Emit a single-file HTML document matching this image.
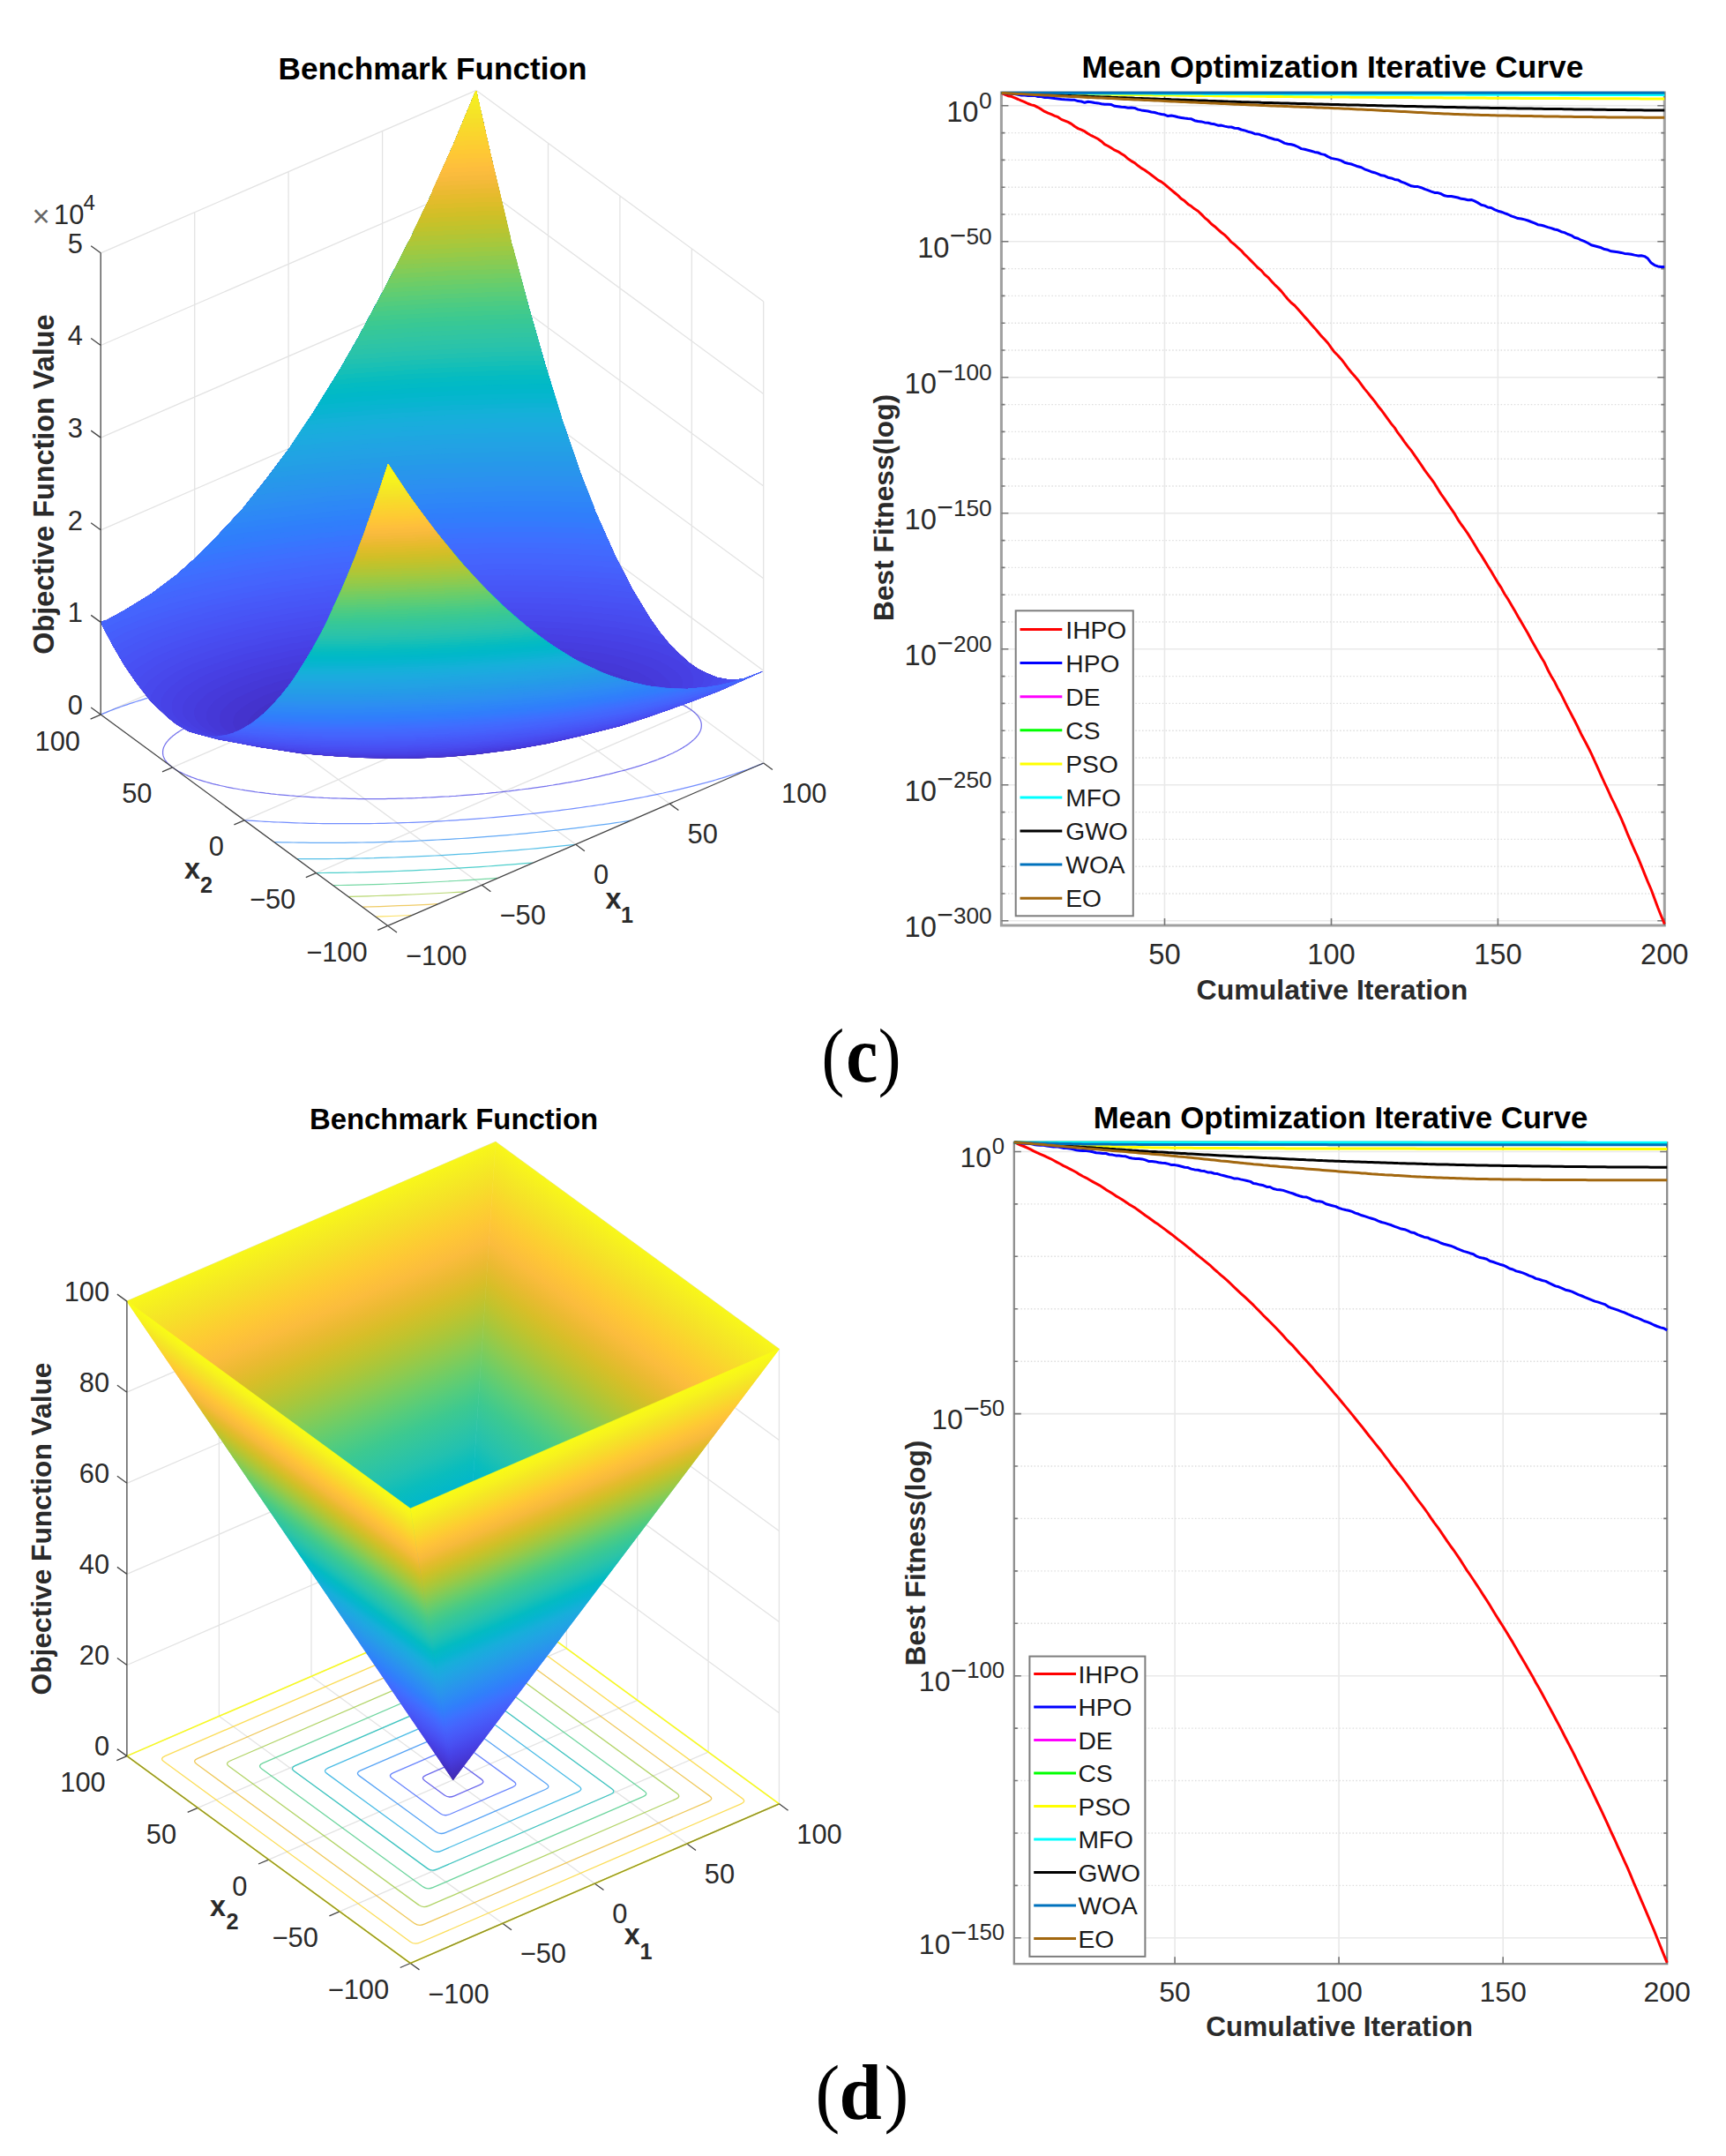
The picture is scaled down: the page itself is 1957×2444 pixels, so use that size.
<!DOCTYPE html>
<html><head><meta charset="utf-8"><title>Figure</title><style>html,body{margin:0;padding:0;background:#fff}svg{display:block}</style></head><body>
<svg width="1957" height="2444" viewBox="0 0 1957 2444" font-family="'Liberation Sans', sans-serif">
<rect width="1957" height="2444" fill="#fff"/>
<g id="plotc">
<path d="M546.3 1003.3L220.7 764M358.4 989.6L784.3 805.2M652.8 957.2L327.1 717.9M277 929.8L702.9 745.4M759.2 911.1L433.6 671.8M195.6 869.9L621.5 685.5M865.7 865L540.1 625.7M114.2 810.1L540.1 625.7M220.7 764L220.7 240.7M327.1 717.9L327.1 194.6M433.6 671.8L433.6 148.5M540.1 625.7L540.1 102.4M865.7 865L865.7 341.7M784.3 805.2L784.3 281.9M702.9 745.4L702.9 222.1M621.5 685.5L621.5 162.2M114.2 705.4L540.1 521M540.1 521L865.7 760.3M114.2 600.8L540.1 416.4M540.1 416.4L865.7 655.7M114.2 496.1L540.1 311.7M540.1 311.7L865.7 551M114.2 391.5L540.1 207.1M540.1 207.1L865.7 446.4M114.2 286.8L540.1 102.4M540.1 102.4L865.7 341.7" stroke="#e3e3e3" stroke-width="1.3" fill="none"/>
<path d="M224.3 818.1L226.2 817.3L228.1 816.5L230.1 815.7L232.2 814.9L234.2 814.1L236.4 813.3L238.5 812.5L240.7 811.7L242.9 810.9L245.2 810.1L247.5 809.3L249.9 808.6L252.3 807.8L254.7 807L257.2 806.3L259.7 805.5L262.2 804.8L264.8 804L267.4 803.3L270 802.5L272.7 801.8L275.4 801.1L278.2 800.4L281 799.7L283.8 798.9L286.6 798.2L289.5 797.5L292.4 796.9L295.4 796.2L298.3 795.5L301.3 794.8L304.4 794.2L307.4 793.5L310.5 792.9L313.7 792.2L316.8 791.6L320 791L323.2 790.3L326.4 789.7L329.7 789.1L332.9 788.5L336.2 787.9L339.6 787.4L342.9 786.8L346.3 786.2L349.7 785.7L353.1 785.1L356.6 784.6L360 784L363.5 783.5L367 783L370.5 782.5L374.1 782L377.6 781.5L381.2 781L384.8 780.6L388.4 780.1L392 779.7L395.7 779.2L399.3 778.8L403 778.3L406.7 777.9L410.4 777.5L414.1 777.1L417.8 776.7L421.6 776.4L425.3 776L429.1 775.6L432.8 775.3L436.6 774.9L440.4 774.6L444.2 774.3L448 774L451.8 773.7L455.6 773.4L459.4 773.1L463.2 772.8L467.1 772.6L470.9 772.3L474.7 772.1L478.6 771.9L482.4 771.7L486.2 771.5L490.1 771.3L493.9 771.1L497.7 770.9L501.6 770.7L505.4 770.6L509.2 770.4L513.1 770.3L516.9 770.2L520.7 770.1L524.5 770L528.3 769.9L532.1 769.8L535.9 769.7L539.7 769.7L543.5 769.6L547.3 769.6L551.1 769.5L554.8 769.5L558.6 769.5L562.3 769.5L566 769.5L569.7 769.6L573.4 769.6L577.1 769.7L580.8 769.7L584.4 769.8L588.1 769.9L591.7 770L595.3 770.1L598.9 770.2L602.5 770.3L606 770.4L609.6 770.6L613.1 770.7L616.6 770.9L620.1 771.1L623.5 771.3L627 771.5L630.4 771.7L633.8 771.9L637.2 772.1L640.5 772.4L643.9 772.6L647.2 772.9L650.4 773.1L653.7 773.4L656.9 773.7L660.1 774L663.3 774.3L666.4 774.6L669.6 775L672.6 775.3L675.7 775.7L678.7 776L681.7 776.4L684.7 776.8L687.6 777.1L690.6 777.5L693.4 778L696.3 778.4L699.1 778.8L701.9 779.2L704.6 779.7L707.3 780.1L710 780.6L712.7 781.1L715.3 781.5L717.8 782L720.4 782.5L722.9 783L725.3 783.6L727.8 784.1L730.2 784.6L732.5 785.2L734.8 785.7L737.1 786.3L739.3 786.8L741.5 787.4L743.7 788L745.8 788.6L747.9 789.2L749.9 789.8L751.9 790.4L753.8 791L755.8 791.6L757.6 792.3L759.5 792.9L761.2 793.6L763 794.2L764.7 794.9L766.3 795.5L767.9 796.2L769.5 796.9L771 797.6L772.5 798.3L773.9 799L775.3 799.7L776.7 800.4L778 801.1L779.2 801.8L780.4 802.6L781.6 803.3L782.7 804.1L783.8 804.8L784.8 805.6L785.8 806.3L786.7 807.1L787.6 807.8L788.4 808.6L789.2 809.4L790 810.2L790.7 810.9L791.3 811.7L791.9 812.5L792.5 813.3L793 814.1L793.4 814.9L793.8 815.7L794.2 816.6L794.5 817.4L794.8 818.2L795 819L795.1 819.8L795.3 820.7L795.3 821.5L795.3 822.3L795.3 823.2L795.2 824L795.1 824.8L795 825.7L794.7 826.5L794.5 827.4L794.2 828.2L793.8 829L793.4 829.9L792.9 830.7L792.4 831.6L791.9 832.4L791.3 833.3L790.6 834.2L789.9 835L789.2 835.9L788.4 836.7L787.5 837.6L786.7 838.4L785.7 839.3L784.7 840.1L783.7 841L782.6 841.8L781.5 842.7L780.4 843.5L779.2 844.4L777.9 845.2L776.6 846.1L775.3 846.9L773.9 847.8L772.4 848.6L770.9 849.5L769.4 850.3L767.8 851.2L766.2 852L764.6 852.8L762.9 853.7L761.1 854.5L759.3 855.3L757.5 856.1L755.6 857L753.7 857.8L751.8 858.6L749.8 859.4L747.7 860.2L745.7 861L743.5 861.8L741.4 862.6L739.2 863.4L737 864.2L734.7 865L732.4 865.8L730 866.5L727.6 867.3L725.2 868.1L722.7 868.8L720.2 869.6L717.7 870.3L715.1 871.1L712.5 871.8L709.9 872.6L707.2 873.3L704.5 874L701.7 874.7L698.9 875.4L696.1 876.2L693.3 876.9L690.4 877.6L687.5 878.2L684.5 878.9L681.6 879.6L678.6 880.3L675.5 880.9L672.5 881.6L669.4 882.2L666.2 882.9L663.1 883.5L659.9 884.1L656.7 884.8L653.5 885.4L650.2 886L647 886.6L643.7 887.2L640.3 887.7L637 888.3L633.6 888.9L630.2 889.4L626.8 890L623.3 890.5L619.9 891.1L616.4 891.6L612.9 892.1L609.4 892.6L605.8 893.1L602.3 893.6L598.7 894.1L595.1 894.5L591.5 895L587.9 895.4L584.2 895.9L580.6 896.3L576.9 896.8L573.2 897.2L569.5 897.6L565.8 898L562.1 898.4L558.3 898.7L554.6 899.1L550.8 899.5L547.1 899.8L543.3 900.2L539.5 900.5L535.7 900.8L531.9 901.1L528.1 901.4L524.3 901.7L520.5 902L516.7 902.3L512.8 902.5L509 902.8L505.2 903L501.3 903.2L497.5 903.4L493.7 903.6L489.8 903.8L486 904L482.2 904.2L478.3 904.4L474.5 904.5L470.7 904.7L466.8 904.8L463 904.9L459.2 905L455.4 905.1L451.6 905.2L447.8 905.3L444 905.4L440.2 905.4L436.4 905.5L432.6 905.5L428.8 905.6L425.1 905.6L421.3 905.6L417.6 905.6L413.9 905.6L410.2 905.5L406.5 905.5L402.8 905.4L399.1 905.4L395.5 905.3L391.8 905.2L388.2 905.1L384.6 905L381 904.9L377.4 904.8L373.9 904.7L370.3 904.5L366.8 904.4L363.3 904.2L359.8 904L356.4 903.8L352.9 903.6L349.5 903.4L346.1 903.2L342.7 903L339.4 902.7L336 902.5L332.7 902.2L329.5 902L326.2 901.7L323 901.4L319.8 901.1L316.6 900.8L313.5 900.5L310.3 900.1L307.3 899.8L304.2 899.4L301.2 899.1L298.2 898.7L295.2 898.3L292.3 898L289.3 897.6L286.5 897.1L283.6 896.7L280.8 896.3L278 895.9L275.3 895.4L272.6 895L269.9 894.5L267.2 894L264.6 893.6L262.1 893.1L259.5 892.6L257 892.1L254.6 891.5L252.1 891L249.7 890.5L247.4 889.9L245.1 889.4L242.8 888.8L240.6 888.3L238.4 887.7L236.2 887.1L234.1 886.5L232 885.9L230 885.3L228 884.7L226.1 884.1L224.1 883.5L222.3 882.8L220.4 882.2L218.7 881.5L216.9 880.9L215.2 880.2L213.6 879.6L212 878.9L210.4 878.2L208.9 877.5L207.4 876.8L206 876.1L204.6 875.4L203.2 874.7L201.9 874L200.7 873.3L199.5 872.5L198.3 871.8L197.2 871L196.1 870.3L195.1 869.5L194.1 868.8L193.2 868L192.3 867.3L191.5 866.5L190.7 865.7L189.9 864.9L189.2 864.2L188.6 863.4L188 862.6L187.4 861.8L186.9 861L186.5 860.2L186.1 859.4L185.7 858.5L185.4 857.7L185.1 856.9L184.9 856.1L184.8 855.3L184.6 854.4L184.6 853.6L184.6 852.8L184.6 851.9L184.7 851.1L184.8 850.3L184.9 849.4L185.2 848.6L185.4 847.7L185.7 846.9L186.1 846.1L186.5 845.2L187 844.4L187.5 843.5L188 842.7L188.6 841.8L189.3 840.9L190 840.1L190.7 839.2L191.5 838.4L192.4 837.5L193.2 836.7L194.2 835.8L195.2 835L196.2 834.1L197.3 833.3L198.4 832.4L199.5 831.6L200.7 830.7L202 829.9L203.3 829L204.6 828.2L206 827.3L207.5 826.5L209 825.6L210.5 824.8L212.1 823.9L213.7 823.1L215.3 822.3L217 821.4L218.8 820.6L220.6 819.8L222.4 819L224.3 818.1" stroke="#4743e7" stroke-width="1.25" stroke-opacity="0.75" fill="none"/>
<path d="M114.2 810.1L116.9 808.9L119.7 807.8L122.5 806.6L125.4 805.5L128.3 804.4L131.3 803.2L134.4 802.1L137.5 801L140.6 799.9L143.9 798.8L147.1 797.7L150.5 796.6L153.8 795.5L157.3 794.4L160.8 793.3L164.3 792.2L167.9 791.2L171.5 790.1L175.2 789.1L179 788L182.8 787L186.6 786L190.5 785L194.4 784L198.4 783L202.4 782L206.5 781L210.6 780L214.8 779L219 778.1L223.2 777.1L227.5 776.2L231.8 775.3L236.2 774.4L240.6 773.5L245.1 772.6L249.6 771.7L254.1 770.8L258.7 769.9L263.3 769.1L267.9 768.2L272.6 767.4L277.3 766.6L282 765.8L286.8 765L291.6 764.2L296.4 763.4L301.3 762.6L306.2 761.9L311.1 761.1L316.1 760.4L321.1 759.7L326.1 759L331.1 758.3L336.2 757.6L341.3 757L346.4 756.3L351.5 755.7L356.6 755L361.8 754.4L367 753.8L372.2 753.2L377.5 752.7L382.7 752.1L388 751.5L393.2 751L398.5 750.5L403.9 750L409.2 749.5L414.5 749L419.9 748.5L425.2 748.1L430.6 747.7L436 747.2L441.4 746.8L446.8 746.4L452.2 746L457.6 745.7L463 745.3L468.4 745L473.8 744.7L479.3 744.4L484.7 744.1L490.1 743.8L495.5 743.5L501 743.3L506.4 743L511.8 742.8L517.2 742.6L522.6 742.4L528.1 742.3L533.5 742.1L538.9 742L544.2 741.8L549.6 741.7L555 741.6L560.4 741.5L565.7 741.5L571 741.4L576.4 741.4L581.7 741.4L587 741.4L592.3 741.4L597.5 741.4L602.8 741.4L608 741.5L613.2 741.5L618.4 741.6L623.6 741.7L628.7 741.8L633.8 742L639 742.1L644 742.3L649.1 742.4L654.1 742.6L659.1 742.8L664.1 743.1L669.1 743.3L674 743.5L678.9 743.8L683.8 744.1L688.6 744.4L693.4 744.7L698.2 745L702.9 745.4M865.5 865.1L862.8 866.3L860 867.4L857.2 868.6L854.3 869.7L851.3 870.8L848.3 872L845.3 873.1L842.2 874.2L839 875.3L835.8 876.4L832.5 877.5L829.2 878.6L825.8 879.7L822.3 880.8L818.8 881.9L815.3 882.9L811.7 884L808.1 885.1L804.4 886.1L800.6 887.2L796.8 888.2L793 889.2L789.1 890.2L785.2 891.2L781.2 892.2L777.1 893.2L773.1 894.2L768.9 895.2L764.8 896.1L760.6 897.1L756.3 898L752 899L747.7 899.9L743.3 900.8L738.9 901.7L734.4 902.6L730 903.5L725.4 904.4L720.9 905.2L716.2 906.1L711.6 906.9L706.9 907.8L702.2 908.6L697.5 909.4L692.7 910.2L687.9 911L683.1 911.8L678.2 912.5L673.3 913.3L668.4 914L663.4 914.7L658.4 915.5L653.4 916.2L648.4 916.8L643.3 917.5L638.2 918.2L633.1 918.8L628 919.5L622.8 920.1L617.7 920.7L612.5 921.3L607.2 921.9L602 922.5L596.8 923L591.5 923.6L586.2 924.1L580.9 924.7L575.6 925.2L570.3 925.6L564.9 926.1L559.6 926.6L554.2 927L548.9 927.5L543.5 927.9L538.1 928.3L532.7 928.7L527.3 929.1L521.9 929.4L516.5 929.8L511 930.1L505.6 930.5L500.2 930.8L494.8 931.1L489.3 931.3L483.9 931.6L478.5 931.8L473.1 932.1L467.6 932.3L462.2 932.5L456.8 932.7L451.4 932.9L446 933L440.6 933.1L435.2 933.3L429.8 933.4L424.5 933.5L419.1 933.6L413.8 933.6L408.4 933.7L403.1 933.7L397.8 933.7L392.5 933.7L387.2 933.7L381.9 933.7L376.7 933.7L371.5 933.6L366.3 933.6L361.1 933.5L355.9 933.4L350.8 933.3L345.6 933.1L340.5 933L335.4 932.8L330.4 932.6L325.4 932.4L320.4 932.2L315.4 932L310.4 931.8L305.5 931.5L300.6 931.3L295.7 931L290.9 930.7L286.1 930.4L281.3 930.1L277 929.8" stroke="#4367fd" stroke-width="1.25" stroke-opacity="0.75" fill="none"/>
<path d="M264.9 744.9L270.9 744L277 743.1L283.1 742.2L289.2 741.3L295.4 740.5L301.6 739.7L307.8 738.9L314.1 738.1L320.4 737.3L326.7 736.5L333 735.7L339.4 735L345.8 734.3L352.2 733.6L358.6 732.9L365 732.2L371.5 731.6L378 730.9L384.5 730.3L391 729.7L397.6 729.1L404.1 728.5L410.7 728L417.3 727.5L423.9 726.9L430.5 726.4L437.1 726L443.7 725.5L450.3 725L456.9 724.6L463.6 724.2L470.2 723.8L476.9 723.4L483.5 723.1L490.2 722.7L496.8 722.4L503.4 722.1L510.1 721.8L516.7 721.5L523.4 721.3L530 721.1L536.6 720.8L543.2 720.7L549.8 720.5L556.4 720.3L563 720.2L569.6 720.1L576.2 720L582.7 719.9L589.3 719.8L595.8 719.8L602.3 719.7L608.8 719.7L615.2 719.7L621.7 719.8L628.1 719.8L634.5 719.9L640.9 720L647.3 720.1L653.6 720.2L659.9 720.3L666.2 720.5L668.8 720.6M715 930.2L709 931.1L702.9 932L696.8 932.9L690.7 933.8L684.5 934.6L678.3 935.4L672.1 936.2L665.8 937L659.5 937.8L653.2 938.6L646.9 939.4L640.5 940.1L634.1 940.8L627.7 941.5L621.3 942.2L614.9 942.9L608.4 943.5L601.9 944.2L595.4 944.8L588.9 945.4L582.3 946L575.8 946.6L569.2 947.1L562.6 947.6L556 948.2L549.4 948.7L542.8 949.1L536.2 949.6L529.6 950.1L523 950.5L516.3 950.9L509.7 951.3L503 951.7L496.4 952L489.7 952.4L483.1 952.7L476.5 953L469.8 953.3L463.2 953.6L456.5 953.8L449.9 954L443.3 954.3L436.7 954.4L430.1 954.6L423.5 954.8L416.9 954.9L410.3 955L403.7 955.1L397.2 955.2L390.6 955.3L384.1 955.3L377.6 955.4L371.1 955.4L364.7 955.4L358.2 955.3L351.8 955.3L345.4 955.2L339 955.1L332.6 955L326.3 954.9L320 954.8L313.7 954.6L311.1 954.5" stroke="#2d8cf3" stroke-width="1.25" stroke-opacity="0.75" fill="none"/>
<path d="M327.8 717.8L335.2 717L342.6 716.2L350.1 715.5L357.6 714.7L365.1 714L372.6 713.3L380.1 712.6L387.7 712L395.3 711.3L402.9 710.7L410.5 710.1L418.1 709.5L425.7 708.9L433.3 708.4L441 707.8L448.6 707.3L456.3 706.9L464 706.4L471.6 705.9L479.3 705.5L487 705.1L494.7 704.7L502.3 704.4L510 704L517.7 703.7L525.3 703.4L533 703.1L540.7 702.9L548.3 702.7L555.9 702.4L563.6 702.3L571.2 702.1L578.8 701.9L586.4 701.8L593.9 701.7L601.5 701.6L609 701.6L616.5 701.5L624 701.5L631.5 701.5L639 701.5L643.3 701.6M652.1 957.3L644.7 958.1L637.3 958.9L629.8 959.6L622.3 960.4L614.8 961.1L607.3 961.8L599.8 962.5L592.2 963.1L584.6 963.8L577 964.4L569.4 965L561.8 965.6L554.2 966.2L546.6 966.7L538.9 967.3L531.3 967.8L523.6 968.2L515.9 968.7L508.3 969.2L500.6 969.6L492.9 970L485.2 970.4L477.6 970.7L469.9 971.1L462.2 971.4L454.6 971.7L446.9 972L439.2 972.2L431.6 972.4L424 972.7L416.3 972.8L408.7 973L401.1 973.2L393.5 973.3L386 973.4L378.4 973.5L370.9 973.5L363.4 973.6L355.9 973.6L348.4 973.6L340.9 973.6L336.6 973.5" stroke="#1caadf" stroke-width="1.25" stroke-opacity="0.75" fill="none"/>
<path d="M375.6 697.1L384.1 696.4L392.6 695.7L401.1 695L409.6 694.4L418.1 693.7L426.7 693.1L435.2 692.5L443.8 692L452.3 691.4L460.9 690.9L469.5 690.4L478.1 689.9L486.6 689.5L495.2 689.1L503.8 688.7L512.4 688.3L520.9 687.9L529.5 687.6L538.1 687.3L546.6 687L555.2 686.7L563.7 686.5L572.2 686.3L580.8 686.1L589.3 685.9L597.7 685.8L606.2 685.7L614.7 685.6L621 685.5M604.3 978L595.8 978.7L587.3 979.4L578.8 980.1L570.3 980.7L561.8 981.4L553.2 982L544.7 982.6L536.1 983.1L527.6 983.7L519 984.2L510.4 984.7L501.8 985.2L493.3 985.6L484.7 986L476.1 986.4L467.5 986.8L459 987.2L450.4 987.5L441.8 987.8L433.3 988.1L424.7 988.4L416.2 988.6L407.7 988.8L399.1 989L390.6 989.2L382.2 989.3L373.7 989.4L365.2 989.5L358.9 989.6" stroke="#12beb9" stroke-width="1.25" stroke-opacity="0.75" fill="none"/>
<path d="M415.9 679.7L425.3 679L434.7 678.4L444 677.8L453.4 677.2L462.8 676.6L472.2 676.1L481.6 675.6L491 675.1L500.4 674.7L509.8 674.2L519.2 673.8L528.6 673.5L538 673.1L547.4 672.8L556.7 672.5L566.1 672.2L575.4 672L584.8 671.7L594.1 671.6L601.8 671.4M564 995.4L554.6 996.1L545.2 996.7L535.9 997.3L526.5 997.9L517.1 998.5L507.7 999L498.3 999.5L488.9 1000L479.5 1000.4L470.1 1000.9L460.7 1001.3L451.3 1001.6L441.9 1002L432.5 1002.3L423.2 1002.6L413.8 1002.9L404.5 1003.1L395.1 1003.4L385.8 1003.5L378.1 1003.7" stroke="#48cb86" stroke-width="1.25" stroke-opacity="0.75" fill="none"/>
<path d="M451.3 664.3L461.5 663.7L471.6 663.1L481.8 662.6L491.9 662.1L502.1 661.6L512.3 661.1L522.4 660.7L532.5 660.3L542.7 659.9L552.8 659.6L562.9 659.2L573 658.9L583.1 658.7L584.8 658.6M528.6 1010.8L518.4 1011.4L508.3 1012L498.1 1012.5L488 1013L477.8 1013.5L467.6 1014L457.5 1014.4L447.4 1014.8L437.2 1015.2L427.1 1015.5L417 1015.9L406.9 1016.2L396.8 1016.4L395.1 1016.5" stroke="#9fc942" stroke-width="1.25" stroke-opacity="0.75" fill="none"/>
<path d="M483.9 650.4L494.8 649.8L505.7 649.3L516.5 648.8L527.4 648.4L538.2 647.9L549 647.5L559.9 647.2L568.9 646.9M496 1024.7L485.1 1025.3L474.2 1025.8L463.4 1026.3L452.5 1026.7L441.7 1027.2L430.9 1027.6L420 1027.9L411 1028.2" stroke="#eaba31" stroke-width="1.25" stroke-opacity="0.75" fill="none"/>
<path d="M513.3 637.6L524.8 637.1L536.3 636.6L547.8 636.2L553.6 636M466.6 1037.5L455.1 1038L443.6 1038.5L432.1 1038.9L426.3 1039.1" stroke="#fad42e" stroke-width="1.25" stroke-opacity="0.75" fill="none"/>
<g shape-rendering="geometricPrecision">
<path fill="#3e27ab" d="M539 104l-25 60l-28 63l-20 42l-31 60l-29 54l-20 35l-31 50l-26 39l-27 36l-27 34l-28 30l-27 27l-20 18l-28 21l-31 19l-20 11l-7 2l13 25l14 24l13 19l17 22l19 18l10 8l14 8l10 3l23 6l48 9l46 7l36 3l34 2l51 1l45-2l34-3l39-5l40-7l39-9l44-11l31-10l48-17l34-13l49-22l-21 8l-6 1l-14 0l-11-2l-12-5l-10-5l-10-7l-12-11l-10-10l-10-12l-12-17l-20-33l-20-39l-22-49l-17-44l-21-61l-19-62l-18-63l-20-74l-24-102l-16-71z"/>
<path fill="#3f29b1" d="M539 104l-25 60l-28 63l-20 42l-31 60l-29 54l-20 35l-31 50l-26 39l-27 36l-27 34l-28 30l-27 27l-20 18l-28 21l-31 19l-20 11l-7 2l13 25l14 24l13 19l17 22l19 18l10 8l14 8l10 3l23 6l48 9l46 7l36 3l34 2l51 1l45-2l34-3l39-5l40-7l39-9l44-11l31-10l48-17l34-13l49-22l-21 8l-6 1l-14 0l-11-2l-12-5l-10-5l-10-7l-12-11l-10-10l-10-12l-12-17l-20-33l-20-39l-22-49l-17-44l-21-61l-19-62l-18-63l-20-74l-24-102l-16-71z"/>
<path fill="#402bb7" d="M539 104l-25 60l-28 63l-20 42l-31 60l-29 54l-20 35l-31 50l-26 39l-27 36l-27 34l-28 30l-27 27l-20 18l-28 21l-31 19l-20 11l-7 2l13 25l14 24l13 19l17 22l19 18l10 8l14 8l10 3l23 6l48 9l46 7l36 3l34 2l51 1l45-2l34-3l39-5l40-7l39-9l44-11l31-10l48-17l34-13l49-22l-21 8l-6 1l-14 0l-11-2l-12-5l-10-5l-10-7l-12-11l-10-10l-10-12l-12-17l-20-33l-20-39l-22-49l-17-44l-21-61l-19-62l-18-63l-20-74l-24-102l-16-71z"/>
<path fill="#412dbc" d="M539 104l-25 60l-28 63l-20 42l-31 60l-29 54l-20 35l-31 50l-26 39l-27 36l-27 34l-28 30l-27 27l-20 18l-28 21l-31 19l-20 11l-7 2l13 25l14 24l13 19l17 22l19 18l10 8l14 8l10 3l23 6l48 9l46 7l36 3l34 2l51 1l45-2l34-3l39-5l40-7l39-9l44-11l31-10l48-17l34-13l49-22l-21 8l-6 1l-14 0l-11-2l-12-5l-10-5l-10-7l-12-11l-10-10l-10-12l-12-17l-20-33l-20-39l-22-49l-17-44l-21-61l-19-62l-18-63l-20-74l-24-102l-16-71z"/>
<path fill="#422fc2" d="M539 104l-25 60l-28 63l-20 42l-31 60l-29 54l-20 35l-31 50l-26 39l-27 36l-27 34l-28 30l-27 27l-20 18l-28 21l-31 19l-20 11l-7 2l13 25l14 24l13 19l17 22l19 18l10 8l14 8l10 3l23 6l48 9l46 7l36 3l34 2l51 1l45-2l34-3l39-5l40-7l39-9l44-11l31-10l48-17l34-13l49-22l-21 8l-6 1l-14 0l-11-2l-12-5l-10-5l-10-7l-12-11l-10-10l-10-12l-12-17l-20-33l-20-39l-22-49l-17-44l-21-61l-19-62l-18-63l-20-74l-24-102l-16-71z"/>
<path fill="#4331c7" d="M539 104l-25 60l-28 63l-20 42l-31 60l-29 54l-20 35l-31 50l-26 39l-27 36l-27 34l-28 30l-27 27l-20 18l-28 21l-31 19l-20 11l-7 2l13 25l14 24l13 19l17 22l19 18l10 8l14 8l10 3l23 6l48 9l46 7l36 3l34 2l51 1l45-2l34-3l39-5l40-7l39-9l44-11l31-10l48-17l34-13l49-22l-21 8l-6 1l-14 0l-11-2l-12-5l-10-5l-10-7l-12-11l-10-10l-10-12l-12-17l-20-33l-20-39l-22-49l-17-44l-21-61l-19-62l-18-63l-20-74l-24-102l-16-71z"/>
<path fill="#4433cd" d="M462 859l17 0l1 0l10 0l1-1l16 0l1-1l33-2l39-5l40-7l39-9l44-11l31-10l48-17l34-13l49-22l-21 8l-6 1l-14 0l-11-2l-12-5l-10-5l-10-7l-12-11l-10-10l-10-12l-12-17l-20-33l-20-39l-22-49l-17-44l-21-61l-19-62l-18-63l-20-74l-24-102l-16-71l-1 1l-25 60l-28 63l-20 42l-31 60l-29 54l-20 35l-31 50l-26 39l-27 36l-27 34l-28 30l-27 27l-20 18l-28 21l-31 19l-20 11l-7 2l13 25l14 24l13 19l17 22l19 18l10 8l14 8l10 3l23 6l48 9l46 7l36 3l34 2l50 1zM313 795l-17 17l-11 8l-3 2l-1 0l0-4l2-3l6-7l11-8l12-6z"/>
<path fill="#4535d2" d="M413 859l16 0l33 0l9 0l1 0l8 0l4 0l1-1l6 0l3 0l1 0l5 0l3 0l0-1l5 0l2 0l1 0l3 0l3 0l1-1l3 0l2 0l1 0l2 0l3 0l3-1l2 0l3 0l2 0l3-1l2 0l2 0l3 0l1-1l3 0l2 0l2 0l2-1l2 0l1 0l3 0l1-1l14-1l40-7l39-9l44-11l31-10l48-17l34-13l49-22l-21 8l-6 1l-14 0l-11-2l-12-5l-10-5l-10-7l-12-11l-10-10l-10-12l-12-17l-20-33l-20-39l-22-49l-17-44l-21-61l-19-62l-18-63l-20-74l-24-102l-16-71l-1 1l-25 60l-28 63l-20 42l-31 60l-29 54l-20 35l-31 50l-26 39l-27 36l-27 34l-28 30l-27 27l-20 18l-28 21l-31 19l-20 11l-7 2l13 25l14 24l13 19l17 22l19 18l10 8l14 8l10 3l23 6l48 9l46 7l36 3l34 2zM325 780l-14 17l-11 11l-9 8l-11 8l-10 5l-3-3l-3-6l1-6l2-5l8-7l9-6l14-7l26-9z"/>
<path fill="#4538d7" d="M365 856l11 1l2 0l5 0l2 1l6 0l3 0l1 0l5 0l6 0l1 1l4 0l34 0l39-1l10 0l0-1l8 0l1 0l20-1l1-1l5 0l1 0l5 0l0-1l5 0l5 0l0-1l17-1l1 0l0-1l3 0l1 0l3 0l1 0l2-1l1 0l3 0l1 0l2-1l1 0l2 0l2 0l2-1l1 0l2 0l1 0l2-1l2 0l1 0l2 0l1-1l2 0l1 0l2 0l1-1l4 0l1-1l10-1l39-9l44-11l31-10l48-17l34-13l49-22l-21 8l-6 1l-14 0l-11-2l-12-5l-10-5l-10-7l-12-11l-10-10l-10-12l-12-17l-20-33l-20-39l-22-49l-17-44l-21-61l-19-62l-18-63l-20-74l-24-102l-16-71l-1 1l-25 60l-28 63l-20 42l-31 60l-29 54l-20 35l-31 50l-26 39l-27 36l-27 34l-28 30l-27 27l-20 18l-28 21l-31 19l-20 11l-7 2l13 25l14 24l13 19l17 22l19 18l10 8l14 8l10 3l23 6l48 9l46 7l23 2zM333 769l-9 13l-13 15l-15 15l-12 9l-12 7l-10 4l-7-5l-4-4l-2-6l0-5l2-6l8-8l8-6l13-6l16-7l25-8l10-2zM673 758l2-1l3 1l2 0l13 4l5 2l1 0l14 5l7 5l-2 0l-2-1l-5-1l-19-6l-16-6z"/>
<path fill="#463adb" d="M341 854l4 0l1 0l3 0l1 1l4 0l2 0l3 0l3 1l2 0l3 0l1 0l2 0l5 0l0 1l1 0l17 0l1 1l14 0l54 0l1 0l26-1l25-1l0-1l7 0l6 0l0-1l21-1l1-1l21-2l1 0l31-4l0-1l3 0l2 0l1 0l2-1l1 0l2 0l1 0l1-1l1 0l2 0l1 0l2-1l1 0l1 0l1 0l2-1l1 0l1 0l9-2l1 0l21-5l44-11l31-10l48-17l34-13l49-22l-21 8l-6 1l-14 0l-11-2l-12-5l-10-5l-10-7l-12-11l-10-10l-10-12l-12-17l-20-33l-20-39l-22-49l-17-44l-21-61l-19-62l-18-63l-20-74l-24-102l-16-71l-1 1l-25 60l-28 63l-20 42l-31 60l-29 54l-20 35l-31 50l-26 39l-27 36l-27 34l-28 30l-27 27l-20 18l-28 21l-31 19l-20 11l-7 2l13 25l14 24l13 19l17 22l19 18l10 8l14 8l10 3l23 6l48 9l45 6zM340 759l-10 15l-12 15l-7 8l-11 11l-7 6l-8 6l-10 6l-11 5l-2 0l-5 2l-3 0l-8-4l-4-4l-4-3l-3-5l-1-3l0-6l3-6l7-8l6-4l8-5l16-7l13-5l1-1l3 0l2-1l1 0l7-3l24-6l2 0l11-3zM647 745l1-1l6 1l1 0l9 1l1 1l2 0l16 3l3 1l12 2l18 6l8 3l12 7l8 7l1 2l-1 1l-2 0l-1-1l-3 0l-13-2l-14-4l-19-6l-21-9l-15-7z"/>
<path fill="#463ddf" d="M318 851l3 0l1 0l3 0l1 1l2 0l2 0l2 0l2 1l2 0l3 0l1 0l3 0l1 1l1 0l3 0l1 0l19 1l0 1l8 0l1 0l9 0l0 1l44 0l0 1l1-1l0 1l1-1l1 1l0-1l32 0l1 0l24-1l1 0l8 0l1-1l8 0l26-2l5 0l1-1l5 0l23-2l0-1l4 0l4 0l0-1l4 0l18-2l0-1l6 0l1-1l25-4l3 0l2-1l3 0l2-1l2 0l1 0l1-1l1 0l2 0l1 0l1-1l1 0l1 0l1 0l1-1l6-1l1 0l43-11l31-10l48-17l34-13l49-22l-21 8l-6 1l-14 0l-11-2l-12-5l-10-5l-10-7l-12-11l-10-10l-10-12l-12-17l-20-33l-20-39l-22-49l-17-44l-21-61l-19-62l-18-63l-20-74l-24-102l-16-71l-1 1l-25 60l-28 63l-20 42l-31 60l-29 54l-20 35l-31 50l-26 39l-27 36l-27 34l-28 30l-27 27l-20 18l-28 21l-31 19l-20 11l-7 2l13 25l14 24l13 19l17 22l19 18l10 8l14 8l10 3l23 6l48 9l22 3zM346 750l-16 24l-12 15l-7 8l-11 11l-7 6l-8 6l-10 6l-11 5l-2 0l-5 2l-8 1l-13-6l-6-4l-6-6l-2-3l-2-5l0-4l3-8l8-8l6-5l8-4l18-9l25-9l2 0l16-5l18-4l2 0l5-2l12-2zM631 735l1-1l1 1l18 1l1 1l7 0l1 1l3 0l3 0l1 1l3 0l15 2l26 6l15 5l10 4l8 4l7 5l7 7l2 3l1 5l-1 0l-5 0l-5 0l-1-1l-4 0l-13-2l-21-5l-19-6l-16-6l-20-10l-17-10z"/>
<path fill="#473fe3" d="M296 847l2 0l1 1l5 0l1 1l2 0l2 0l2 0l1 1l2 0l2 0l1 0l3 1l1 0l3 0l1 0l19 2l6 0l0 1l13 0l1 1l18 0l1 1l13 0l67 0l26-1l9 0l1-1l28-1l1-1l5 0l1 0l5 0l0-1l5 0l1 0l23-2l1-1l19-2l1 0l17-2l6-2l3 0l40-7l2-1l1 0l2 0l2-1l2 0l2-1l2 0l1 0l1-1l1 0l1 0l1 0l1-1l1 0l1 0l1 0l1-1l25-6l31-10l48-17l34-13l49-22l-21 8l-6 1l-14 0l-11-2l-12-5l-10-5l-10-7l-12-11l-10-10l-10-12l-12-17l-20-33l-20-39l-22-49l-17-44l-21-61l-19-62l-18-63l-20-74l-24-102l-16-71l-1 1l-25 60l-28 63l-20 42l-31 60l-29 54l-20 35l-31 50l-26 39l-27 36l-27 34l-28 30l-27 27l-20 18l-28 21l-31 19l-20 11l-7 2l13 25l14 24l13 19l17 22l19 18l10 8l14 8l10 3l23 6l48 9zM351 741l-18 29l-9 12l-13 15l-11 11l-9 8l-11 8l-8 4l-8 3l-2 0l-5 2l-13 2l-9-4l-11-5l-6-4l-5-5l-5-6l-1-3l0-7l3-6l2-3l6-6l5-4l10-6l10-5l24-10l2 0l1-1l2 0l20-6l35-9l18-3l2 0l3-1zM619 727l1-1l6 0l1 1l12 0l0 1l15 1l8 1l1 0l17 2l34 7l22 6l13 5l7 4l10 7l5 5l2 4l1 3l-1 7l0 1l-18-1l-5 0l-1-1l-4 0l-13-2l-21-5l-19-6l-16-6l-20-10l-21-12z"/>
<path fill="#4742e6" d="M287 846l2 0l1 0l2 0l2 1l1 0l2 0l1 0l2 1l1 0l3 0l20 2l1 1l4 0l1 0l17 1l0 1l24 1l11 0l1 1l15 0l1 0l56 0l17 0l0-1l22 0l0-1l17 0l0-1l7 0l7 0l0-1l23-1l0-1l15-1l4 0l1-1l4 0l20-2l0-1l17-2l4-1l3 0l18-3l8-2l3 0l34-7l1 0l1-1l1 0l1 0l1 0l1-1l1 0l1 0l1 0l1-1l1 0l1 0l2-1l1 0l5-1l1-1l2 0l1-1l31-9l48-17l34-13l49-22l-21 8l-6 1l-14 0l-11-2l-12-5l-10-5l-10-7l-12-11l-10-10l-10-12l-12-17l-20-33l-20-39l-22-49l-17-44l-21-61l-19-62l-18-63l-20-74l-24-102l-16-71l-1 1l-25 60l-28 63l-20 42l-31 60l-29 54l-20 35l-31 50l-26 39l-27 36l-27 34l-28 30l-27 27l-20 18l-28 21l-31 19l-20 11l-7 2l13 25l14 24l13 19l17 22l19 18l10 8l14 8l10 3l23 6l39 7zM356 733l-11 18l-12 19l-18 23l-15 15l-7 6l-9 7l-12 7l-8 3l-2 0l-5 2l-5 1l-1 0l-4 0l0 1l-8 0l-17-7l-12-6l-5-3l-7-7l-3-7l0-8l2-5l3-5l10-9l9-5l12-7l20-8l31-10l45-10l15-3l3-1l3 0l3-1l2 0l1 0zM608 719l1-1l15 1l1 0l13 1l1 0l5 0l0 1l5 0l5 0l1 1l17 1l1 1l17 2l3 0l0 1l3 0l18 3l27 7l18 7l10 5l8 5l5 5l3 6l1 3l0 8l-2 4l-4 0l0 1l-25-1l-5 0l-1-1l-4 0l-13-2l-12-3l-2 0l-2-1l-10-2l-23-8l-27-13l-26-16z"/>
<path fill="#4745e9" d="M269 842l1 0l1 1l2 0l1 0l1 0l2 1l1 0l2 0l1 0l2 1l1 0l2 0l22 3l1 0l8 1l1 0l15 1l1 1l20 1l9 0l0 1l10 0l14 0l0 1l49 0l25 0l1-1l35-1l1 0l15-1l1 0l6 0l1-1l6 0l1 0l22-2l1 0l9-1l1 0l17-2l1 0l15-2l8-1l3 0l1-1l16-2l18-3l3-1l2 0l3-1l3 0l45-10l2 0l2-1l1 0l1 0l1-1l1 0l1 0l1-1l1 0l1 0l3-1l1 0l4-1l1-1l17-5l48-17l34-13l49-22l-21 8l-6 1l-14 0l-11-2l-12-5l-3-2l0 2l0 7l-2 6l-3 4l-13 0l0 1l-25-1l-5 0l-1-1l-11-1l-20-4l-2-1l-10-2l-20-7l-15-7l-15-7l-26-16l-27-19l-4-4l8 0l1 0l10 0l0 1l9 0l20 1l1 1l10 0l1 1l4 0l1 0l20 2l1 1l19 2l30 6l4 2l9 2l3 1l2 0l14 5l-7-6l-10-12l-12-17l-20-33l-20-39l-22-49l-17-44l-21-61l-19-62l-18-63l-20-74l-24-102l-16-71l-1 1l-25 60l-28 63l-20 42l-31 60l-29 54l-20 35l-31 50l-26 39l-27 36l-27 34l-28 30l-27 27l-20 18l-28 21l-31 19l-20 11l-7 2l13 25l14 24l13 19l17 22l19 18l10 8l14 8l10 3l23 6l21 4zM198 819l-1-1l-2-1l-2-2l-6-6l-4-6l-1-4l1-7l3-5l7-8l13-10l9-5l13-6l14-5l33-11l35-8l23-5l5 0l6-2l15-2l1 1l-17 29l-13 19l-12 15l-7 8l-11 11l-9 8l-11 8l-12 6l-9 3l-8 1l-4 0l0 1l-10 0l-8-2l-11-4l-11-5z"/>
<path fill="#4848ec" d="M171 789l3-5l5-7l5-5l6-4l9-6l21-10l30-10l34-10l2 0l16-4l30-6l3 0l8-2l3 0l1 0l16-3l1 1l-13 23l-18 29l-15 19l-7 8l-11 11l-9 8l-7 5l-9 5l-7 4l-9 3l-8 1l-4 0l0 1l-14-1l-2 0l-2-1l-2 0l-2-1l-2 0l-1-1l-2 0l-1-1l-1 0l-1 0l-1-1l8 3l23 6l4 0l1 1l1 0l1 0l2 0l1 1l1 0l1 0l1 0l2 1l1 0l2 0l3 1l22 3l1 0l16 2l5 0l0 1l5 0l5 0l0 1l6 0l6 0l0 1l23 1l10 0l0 1l32 0l0 1l44 0l0-1l1 1l0-1l20 0l24-1l1 0l18-1l7 0l1-1l25-1l1-1l25-2l1 0l4 0l0-1l4 0l1 0l4 0l0-1l20-2l21-3l6-1l3 0l15-3l3 0l3-1l2 0l6-2l2 0l13-3l4 0l3-1l2 0l2-1l2 0l26-7l2 0l2-1l1 0l1 0l1-1l1 0l1 0l1-1l1 0l1 0l1-1l8-2l48-17l34-13l49-22l-21 8l-6 1l-14 0l-11-2l-4-2l0 2l-2 5l-5 6l-13 1l-1 0l-8 0l0 1l-25-1l-5 0l-1-1l-11-1l-20-4l-2-1l-10-2l-20-7l-15-7l-15-7l-26-16l-27-19l-10-8l-3-3l1 0l15 0l1 0l20 1l1 0l7 0l1 1l7 0l12 1l1 0l4 0l1 1l5 0l1 0l13 1l0 1l22 2l1 1l6 0l24 5l21 5l-5-5l-12-17l-20-33l-20-39l-22-49l-17-44l-21-61l-19-62l-18-63l-20-74l-24-102l-16-71l-1 1l-25 60l-28 63l-20 42l-31 60l-29 54l-20 35l-31 50l-26 39l-27 36l-27 34l-28 30l-27 27l-20 18l-28 21l-31 19l-20 11l-7 2l13 25l14 24l13 19l17 21z"/>
<path fill="#484bee" d="M165 777l5-6l14-10l19-10l22-9l27-9l33-8l2 0l11-3l23-5l46-7l1 1l-13 23l-10 17l-12 19l-15 19l-7 8l-11 11l-9 8l-7 5l-9 5l-7 4l-9 3l-8 1l-4 0l0 1l-14-1l-2 0l-1 0l-1-1l11 3l1 0l1 0l1 1l1 0l2 0l2 1l1 0l2 0l2 1l3 0l3 1l9 1l3 1l22 2l1 1l3 0l1 0l4 0l0 1l21 1l1 1l5 0l1 0l22 1l1 1l10 0l32 1l48 0l1 0l19 0l0-1l25 0l1-1l17 0l1-1l14 0l1-1l6 0l6 0l1-1l5 0l17-1l0-1l23-2l1 0l8-1l4 0l0-1l22-2l4-1l6-1l4-1l3 0l18-3l3-1l2 0l3-1l3 0l22-4l45-11l1-1l2 0l1-1l1 0l1 0l2-1l1 0l1 0l1-1l1 0l1 0l1-1l1 0l39-14l34-13l49-22l-21 8l-6 1l-14 0l-6-1l-4 5l-4 3l-1 1l-10 1l-1 0l-4 0l0 1l-14 0l0 1l-16 0l0-1l-14 0l-1-1l-4 0l-13-2l-12-3l-2 0l-2-1l-10-2l-20-7l-15-7l-15-7l-26-16l-27-19l-21-18l33 0l0 1l20 0l0 1l7 0l1 0l6 0l1 1l23 1l0 1l13 1l1 0l3 0l1 1l3 0l1 0l3 0l1 1l10 1l3 1l3 0l31 6l-9-12l-20-33l-20-39l-22-49l-17-44l-21-61l-19-62l-18-63l-20-74l-24-102l-16-71l-1 1l-25 60l-28 63l-20 42l-31 60l-29 54l-20 35l-31 50l-26 39l-27 36l-27 34l-28 30l-27 27l-20 18l-28 21l-31 19l-20 11l-7 2l13 25l14 24l13 19l7 10z"/>
<path fill="#484df1" d="M164 763l15-10l25-12l29-10l1 0l5-2l2 0l12-4l45-10l10-2l10-2l6-1l3-1l17-2l1-1l3 0l3-1l20-2l0 1l-16 30l-10 17l-12 19l-15 19l-7 8l-11 11l-9 8l-7 5l-9 5l-7 4l-9 3l-8 1l-4 0l0 1l-14-1l-1 0l1 0l2 1l1 0l2 0l13 2l3 1l2 0l1 1l6 0l0 1l18 2l4 0l0 1l8 0l1 1l20 1l0 1l6 0l6 0l1 1l6 0l1 0l16 1l1 0l23 1l1 0l21 0l0 1l41 0l0-1l22 0l1 0l26-1l26-1l1-1l6 0l1 0l6 0l1-1l6 0l23-2l5 0l0-1l5 0l23-2l0-1l4 0l4 0l0-1l4 0l4-1l18-2l3-1l3 0l4-1l3 0l21-3l3-1l2 0l3-1l3 0l20-4l2-1l2 0l30-7l2-1l5-1l14-5l2 0l1 0l2-1l1 0l2-1l1 0l30-11l34-13l49-22l-21 8l-6 1l-14 0l-7 6l-5 1l-6 1l-3 0l-1 1l-3 0l-1 0l-9 1l-1 0l-8 0l0 1l-16 0l0-1l-14 0l-1-1l-4 0l-13-2l-12-3l-2 0l-2-1l-10-2l-20-7l-15-7l-15-7l-26-16l-27-19l-24-20l-5-5l1 0l46 1l10 0l0 1l9 0l8 0l0 1l19 1l1 0l5 0l0 1l10 0l0 1l4 0l1 0l20 2l0 1l3 0l1 0l3 0l3 1l12 2l9 2l-2-3l-20-33l-20-39l-22-49l-17-44l-21-61l-19-62l-18-63l-20-74l-24-102l-16-71l-1 1l-25 60l-28 63l-20 42l-31 60l-29 54l-20 35l-31 50l-26 39l-27 36l-27 34l-28 30l-27 27l-20 18l-28 21l-31 19l-20 11l-7 2l13 25l14 24l13 19z"/>
<path fill="#4850f3" d="M153 759l8-5l10-6l11-6l23-9l24-8l33-9l2 0l8-3l2 0l3-1l2 0l2-1l5 0l2-1l18-4l2 0l11-2l3 0l18-4l3 0l7-1l3 0l7-2l14-1l1 0l-3 6l0 1l-11 21l-16 27l-15 23l-12 15l-7 8l-11 11l-7 6l-8 6l-10 6l-7 4l-11 3l-5 1l-1 0l-4 0l0 1l-8 0l16 2l1 1l17 2l1 0l3 0l1 1l3 0l1 0l8 1l1 0l21 2l6 0l0 1l6 0l1 0l25 1l0 1l11 0l1 0l45 1l1 0l12 0l1 0l1 0l1 0l30 0l1-1l15 0l32-1l0-1l8 0l1 0l21-1l0-1l6 0l1 0l5 0l1-1l26-2l26-3l1 0l7-1l4-1l4 0l24-3l1-1l26-4l3-1l3 0l30-6l27-6l2-1l6-1l2-1l14-4l5-2l1 0l2 0l1-1l2 0l1-1l1 0l1 0l1-1l1 0l1 0l1-1l1 0l13-5l34-13l49-22l-21 8l-6 1l-8 0l-5 4l-8 2l-5 1l-6 1l-3 0l-1 1l-3 0l-1 0l-9 1l-1 0l-8 0l0 1l-16 0l0-1l-14 0l-1-1l-4 0l-13-2l-12-3l-2 0l-2-1l-10-2l-20-7l-15-7l-15-7l-26-16l-27-19l-29-25l-7-6l1-1l43 1l1 0l12 0l1 1l10 0l1 0l23 1l1 1l6 0l5 0l1 1l11 0l0 1l18 1l0 1l22 2l10 2l-16-27l-20-39l-22-49l-17-44l-21-61l-19-62l-18-63l-20-74l-24-102l-16-71l-1 1l-25 60l-28 63l-20 42l-31 60l-29 54l-20 35l-31 50l-26 39l-27 36l-27 34l-28 30l-27 27l-20 18l-28 21l-31 19l-20 11l-7 2l13 25l14 24l7 10z"/>
<path fill="#4853f5" d="M155 747l23-12l30-11l28-9l32-8l2 0l7-2l30-6l2 0l3-1l3 0l3-1l15-2l9-2l35-4l1 0l-1 2l-10 22l-1 1l-11 20l-10 17l-15 23l-12 15l-7 8l-15 15l-7 6l-9 6l-8 4l-8 3l-10 3l-10 1l19 2l0 1l25 2l1 1l4 0l1 0l23 2l7 0l0 1l27 1l13 0l0 1l18 0l60 0l1 0l1 0l18 0l0-1l13 0l1 0l10 0l1-1l26-1l7 0l1-1l25-1l1-1l5 0l5 0l1-1l4 0l1 0l5 0l5-1l18-2l24-3l3 0l1-1l3 0l3 0l1-1l3 0l3 0l1-1l3 0l3 0l7-2l15-2l3-1l5 0l3-1l3 0l5-2l3 0l12-2l3-1l18-4l6-2l2 0l23-6l23-7l2 0l1-1l1 0l1 0l1-1l1 0l1 0l1-1l1 0l1-1l1 0l1 0l33-13l49-22l-21 8l-6 1l-3 0l-4 3l-14 3l-5 1l-6 1l-3 0l-1 1l-3 0l-1 0l-9 1l-1 0l-8 0l0 1l-16 0l0-1l-14 0l-1-1l-4 0l-13-2l-12-3l-2 0l-2-1l-10-2l-20-7l-15-7l-15-7l-26-16l-27-19l-29-25l-14-13l1 0l31 0l1 0l2 0l18 0l1 1l0-1l1 1l12 0l1 0l27 1l0 1l7 0l1 0l6 0l0 1l6 0l1 0l20 2l1 0l20 2l1 1l3 0l7 1l-11-19l-20-39l-22-49l-17-44l-21-61l-19-62l-18-63l-20-74l-24-102l-16-71l-1 1l-25 60l-28 63l-20 42l-31 60l-29 54l-20 35l-31 50l-26 39l-27 36l-27 34l-28 30l-27 27l-20 18l-28 21l-31 19l-20 11l-7 2l13 25l14 24l1 2z"/>
<path fill="#4756f6" d="M139 747l12-8l23-11l16-6l5-1l2-1l29-9l40-10l4-1l3-1l30-6l2 0l6-1l3 0l15-3l3 0l4-1l3 0l3-1l39-5l-9 20l0 1l-21 38l-18 29l-15 19l-7 8l-11 11l-9 8l-7 5l-9 5l-7 4l-11 3l-8 1l1 1l23 2l0 1l4 0l1 0l20 2l6 0l0 1l21 1l8 0l1 1l9 0l1 0l26 1l28 0l0 1l1-1l1 1l50-1l1 0l16 0l0-1l23 0l0-1l9 0l1 0l30-2l24-2l1 0l5 0l0-1l5 0l5 0l0-1l5 0l22-2l1-1l3 0l1 0l3 0l1-1l3 0l1 0l3 0l1-1l3 0l1 0l24-3l3-1l3 0l1-1l20-3l3-1l3 0l3-1l2 0l6-1l2 0l13-3l2-1l7-1l16-4l2 0l23-6l33-10l1 0l1-1l1 0l1 0l1-1l1 0l1 0l1-1l1 0l1-1l3-1l1 0l18-7l49-22l-21 8l-4 0l-2 2l-24 6l-2 0l-10 2l-3 0l-1 0l-9 1l-1 0l-8 0l0 1l-25-1l-5 0l-1-1l-11-1l-13-2l-14-4l-19-6l-21-9l-15-7l-17-10l-20-13l-16-12l-29-25l-20-19l0-1l2 1l1-1l30 0l1 1l0-1l1 1l2-1l0 1l22 0l1 0l13 0l1 1l0-1l1 1l20 0l0 1l8 0l8 0l0 1l24 1l1 1l9 0l1 1l4 0l4 0l1 1l15 1l-7-11l-20-39l-22-49l-17-44l-21-61l-19-62l-18-63l-20-74l-24-102l-16-71l-1 1l-25 60l-28 63l-20 42l-31 60l-29 54l-20 35l-31 50l-26 39l-27 36l-27 34l-28 30l-27 27l-20 18l-28 21l-31 19l-20 11l-7 2l13 25l11 18z"/>
<path fill="#4758f8" d="M135 740l8-6l13-6l19-8l28-10l1 0l5-2l20-5l2-1l33-8l33-6l8-1l3-1l2 0l19-4l6 0l4-1l3 0l0-1l3 0l1 0l3 0l7-2l4 0l4-1l3 0l1 0l3 0l1-1l4 0l8-1l0 1l-12 26l0 1l-21 38l-18 29l-15 19l-7 8l-11 11l-15 12l-10 6l-7 4l-9 3l-6 1l14 1l1 1l4 0l20 2l1 0l5 0l1 1l12 0l1 1l24 1l1 0l10 0l1 1l13 0l1 0l72 1l0-1l21 0l15 0l0-1l12 0l28-1l0-1l28-1l1-1l5 0l1 0l5 0l1-1l5 0l5 0l0-1l20-1l1-1l21-2l1 0l11-1l4-1l4 0l0-1l24-3l7-1l3 0l0-1l15-2l3-1l2 0l3-1l3 0l3-1l2 0l23-4l44-11l2-1l14-3l5-2l1 0l18-6l2-1l1 0l1-1l2 0l1-1l1 0l1-1l1 0l1 0l10-4l49-22l-21 8l-1 0l-1 0l-11 4l-17 4l-2 0l-10 2l-3 0l-1 0l-9 1l-1 0l-8 0l0 1l-25-1l-5 0l-1-1l-11-1l-13-2l-14-4l-19-6l-21-9l-15-7l-17-10l-20-13l-16-12l-29-25l-26-25l0-1l62 0l1 1l28 0l0 1l10 0l30 2l1 0l11 1l5 0l1 1l5 0l17 2l-2-4l-20-39l-22-49l-17-44l-21-61l-19-62l-18-63l-20-74l-24-102l-16-71l-1 1l-25 60l-28 63l-20 42l-31 60l-29 54l-20 35l-31 50l-26 39l-27 36l-27 34l-28 30l-27 27l-20 18l-28 21l-31 19l-20 11l-7 2l13 25l6 10z"/>
<path fill="#475bf9" d="M151 722l17-7l29-10l1 0l21-7l8-1l2-1l27-7l2 0l3-1l30-6l11-1l3-1l2 0l13-3l3 0l6-1l7-1l3-1l7 0l0-1l4 0l3 0l8-2l8 0l0-1l18-2l0 1l-10 21l0 1l-19 39l-15 25l-19 27l-13 15l-11 11l-9 8l-7 5l-9 5l-11 5l-6 2l5 1l19 1l0 1l6 0l5 0l1 1l20 1l8 0l1 1l8 0l1 0l23 1l1 0l82 1l0-1l20 0l13 0l1-1l30-1l1 0l30-2l35-3l5 0l5-1l22-2l1-1l12-1l11-1l8-2l3 0l1 0l19-3l1 0l26-4l3-1l3 0l3-1l2 0l23-5l2-1l5 0l31-8l2-1l6-1l2-1l14-3l5-2l1 0l24-8l1-1l1 0l1 0l1-1l1 0l1-1l1 0l1 0l1-1l48-21l-21 8l-1 0l-1 0l-11 4l-17 4l-2 0l-10 2l-3 0l-1 0l-9 1l-1 0l-8 0l0 1l-16 0l0-1l-14 0l-1-1l-4 0l-13-2l-12-3l-2 0l-2-1l-10-2l-20-7l-15-7l-15-7l-17-10l-14-9l-29-22l-29-25l-24-24l-1-1l1-1l2 0l1 0l2 0l54 0l1 0l1 0l33 1l1 0l9 0l1 1l9 0l1 0l22 1l0 1l12 0l1 1l5 0l5 0l1 1l11 1l-18-36l-22-49l-17-44l-21-61l-19-62l-18-63l-20-74l-24-102l-16-71l-1 1l-25 60l-28 63l-20 42l-31 60l-29 54l-20 35l-31 50l-26 39l-27 36l-27 34l-28 30l-27 27l-20 18l-28 21l-31 19l-20 11l-7 2l13 25l2 3z"/>
<path fill="#465efb" d="M126 726l16-9l29-11l27-9l14-3l2-1l11-3l2-1l2 0l11-3l27-5l3-1l2 0l5-2l3 0l16-3l9-1l3-1l3 0l0-1l12-1l4-1l3 0l0-1l3 0l4-1l3 0l4 0l3-1l4 0l0-1l7 0l4-1l4 0l1-1l23-2l-9 21l0 1l-4 6l0 1l-19 39l-15 25l-19 27l-13 15l-11 11l-9 8l-7 5l-9 5l-7 4l-7 2l6 0l1 1l4 0l1 0l10 1l1 0l5 0l1 1l20 1l8 0l1 1l8 0l1 0l23 1l18 0l0 1l70 0l1-1l17 0l1 0l14 0l0-1l31-1l30-2l6 0l1-1l5 0l1 0l5 0l1-1l5 0l1 0l4 0l1-1l15-1l1 0l26-3l1 0l3 0l1-1l3 0l1 0l3 0l1-1l3 0l1 0l3 0l4-1l4 0l0-1l17-2l4-1l3 0l3-1l3 0l1 0l17-3l3-1l3 0l3-1l2 0l3-1l3 0l25-5l49-12l21-6l1 0l25-9l1 0l1-1l1 0l1 0l1-1l1 0l1-1l1 0l38-17l-21 8l-1 0l-1 0l-11 4l-17 4l-2 0l-10 2l-3 0l-1 0l-9 1l-1 0l-8 0l0 1l-16 0l0-1l-9 0l-10-1l-7-1l-13-2l-14-4l-19-6l-16-6l-20-10l-12-7l-14-9l-15-10l-12-9l-20-16l-16-15l-31-31l1-1l1 0l35 0l0-1l1 1l1-1l1 1l2-1l1 1l3 0l0-1l1 1l33 0l1 0l15 0l0 1l1-1l0 1l12 0l10 0l1 1l24 1l13 1l5 0l1 1l13 1l-15-29l-22-49l-17-44l-21-61l-19-62l-18-63l-20-74l-24-102l-16-71l-1 1l-25 60l-28 63l-20 42l-31 60l-29 54l-20 35l-31 50l-26 39l-27 36l-27 34l-28 30l-27 27l-20 18l-28 21l-31 19l-20 11l-7 2l11 21z"/>
<path fill="#4561fc" d="M136 712l27-11l33-10l34-9l2 0l11-3l2 0l3-1l7-1l2-1l20-4l3 0l3-1l2 0l3-1l6-1l3-1l2 0l13-2l3 0l6-2l3 0l1 0l3 0l3-1l14-2l1 0l3 0l7-2l4 0l1 0l31-4l1 1l-12 27l0 1l-20 40l-16 27l-15 23l-12 15l-7 8l-15 15l-7 6l-9 6l-8 4l-7 2l0 1l4 0l17 1l0 1l29 1l0 1l9 0l1 0l23 1l17 0l1 1l71 0l1-1l1 1l0-1l32 0l1-1l10 0l1 0l10 0l0-1l25-1l1 0l20-1l1-1l5 0l1 0l5 0l1-1l5 0l1 0l25-2l1-1l30-3l1 0l3 0l4-1l4 0l0-1l4 0l4-1l17-2l4-1l3 0l3-1l3 0l1 0l23-4l3-1l3 0l3-1l2 0l3-1l3 0l20-4l2-1l20-4l9-2l2 0l6-2l15-4l20-6l2 0l28-10l2-1l1 0l1-1l1 0l1-1l2 0l1-1l1 0l2-1l1-1l23-10l-21 8l-1 0l-1 0l-11 4l-17 4l-2 0l-10 2l-3 0l-1 0l-9 1l-1 0l-8 0l0 1l-16 0l0-1l-9 0l-10-1l-7-1l-13-2l-14-4l-19-6l-16-6l-20-10l-12-7l-14-9l-15-10l-12-9l-20-16l-16-15l-24-24l-12-13l1-1l1 0l19 0l1-1l0 1l2-1l1 1l1-1l1 1l0-1l68 1l14 0l1 1l10 0l1 0l1 0l25 1l1 1l7 0l6 0l1 1l15 1l-11-22l-22-49l-17-44l-21-61l-19-62l-18-63l-20-74l-24-102l-16-71l-1 1l-25 60l-28 63l-20 42l-31 60l-29 54l-20 35l-31 50l-26 39l-27 36l-27 34l-28 30l-27 27l-20 18l-28 21l-31 19l-20 11l-7 2l7 14z"/>
<path fill="#4564fd" d="M124 709l1 0l11-5l16-6l5-2l2-1l39-12l34-8l2 0l9-3l4 0l3-1l20-4l2 0l6-2l2 0l3-1l6 0l3-1l2 0l19-4l3 0l3-1l3 0l1 0l3 0l3-1l7-1l1 0l3 0l7-2l4 0l4-1l40-4l1 0l-13 29l-16 35l-1 1l-5 10l-10 17l-18 29l-15 19l-7 8l-11 11l-15 12l-10 6l-6 3l14 1l0 1l21 1l1 0l8 0l0 1l9 0l25 1l18 0l0 1l70 0l0-1l19 0l14 0l1-1l11 0l1 0l28-1l1-1l21-1l1 0l19-1l0-1l32-2l0-1l9 0l1-1l4 0l4 0l1-1l4 0l4-1l20-2l1 0l34-5l1 0l26-4l3-1l3 0l3-1l2 0l3-1l3 0l22-5l52-12l18-6l1 0l7-2l1 0l30-11l1 0l1-1l1 0l1-1l1 0l1 0l1-1l1 0l3-2l1 0l13-6l-21 8l-1 0l-1 0l-11 4l-17 4l-2 0l-10 2l-3 0l-1 0l-9 1l-1 0l-8 0l0 1l-16 0l0-1l-9 0l-10-1l-7-1l-13-2l-14-4l-19-6l-16-6l-20-10l-12-7l-19-12l-22-16l-29-25l-31-30l-17-19l2-1l1 0l18 0l1-1l0 1l1-1l0 1l1-1l62 0l1 1l0-1l1 1l19 0l1 0l12 0l1 1l29 1l1 0l7 0l0 1l6 0l1 0l6 0l0 1l8 0l-8-15l-22-49l-17-44l-21-61l-19-62l-18-63l-20-74l-24-102l-16-71l-1 1l-25 60l-28 63l-20 42l-31 60l-29 54l-20 35l-31 50l-26 39l-27 36l-27 34l-28 30l-27 27l-20 18l-28 21l-31 19l-20 11l-7 2l4 8z"/>
<path fill="#4366fd" d="M116 705l1-1l1 0l1-1l1 0l1 0l1-1l1 0l1-1l25-10l30-9l35-10l2 0l7-2l2 0l20-5l23-4l2 0l6-2l2 0l3-1l6 0l6-2l3 0l9-2l6 0l3-1l7-1l3-1l7 0l1-1l10-1l1 0l10-1l1-1l3 0l1 0l3 0l1-1l3 0l1 0l3 0l1-1l18-1l5-1l4 0l1 1l-15 34l-2 5l0 1l-9 18l0 1l-14 27l-15 25l-13 19l-12 15l-7 8l-11 11l-9 8l-11 8l-8 4l3 0l20 1l0 1l8 0l8 0l1 1l35 1l19 0l1 1l61 0l1-1l0 1l1-1l21 0l14 0l1-1l12 0l1 0l28-1l0-1l8 0l8 0l0-1l6 0l1 0l13-1l1 0l5 0l1-1l5 0l1 0l5 0l0-1l6 0l25-2l0-1l30-3l4-1l8 0l0-1l7 0l1-1l20-2l4-1l3 0l6-2l3 0l1 0l14-2l14-3l3 0l30-6l44-11l2-1l17-4l28-9l2-1l17-6l1-1l2-1l1 0l1-1l3-1l1 0l6-3l-21 8l-1 0l-1 0l-11 4l-17 4l-2 0l-10 2l-3 0l-1 0l-9 1l-1 0l-8 0l0 1l-16 0l0-1l-9 0l-10-1l-7-1l-13-2l-19-5l-20-7l-15-7l-15-7l-21-12l-16-11l-16-12l-20-16l-16-15l-31-31l-16-18l1-1l4 0l1 0l18 0l0-1l1 1l0-1l1 1l0-1l73 0l0 1l1-1l1 1l17 0l24 1l1 0l8 0l1 1l8 0l1 0l20 1l-4-8l-22-49l-17-44l-21-61l-19-62l-18-63l-20-74l-24-102l-16-71l-1 1l-25 60l-28 63l-20 42l-31 60l-29 54l-20 35l-31 50l-26 39l-27 36l-27 34l-28 30l-27 27l-20 18l-28 21l-31 19l-20 11l-7 2l0 1z"/>
<path fill="#4269fe" d="M162 680l21-6l29-8l2 0l20-5l37-7l6-1l3-1l2 0l1 0l2 0l3-1l9-1l13-3l3 0l3 0l4-1l10-1l1-1l6 0l4-1l4 0l0-1l4 0l16-2l4-1l4 0l1 0l4 0l0-1l4 0l1 0l13-1l1-1l3 0l1 1l-14 32l-10 21l0 1l-5 11l0 1l-14 27l-15 25l-13 19l-12 15l-7 8l-11 11l-7 6l-8 6l-10 6l19 1l0 1l8 0l9 0l0 1l37 1l71 1l1-1l42 0l0-1l12 0l1 0l10 0l1-1l27-1l7 0l1-1l13 0l1-1l6 0l7 0l0-1l11 0l1-1l5 0l5 0l1-1l25-2l26-3l8-1l4-1l3 0l4-1l4 0l21-3l3-1l3 0l1 0l29-5l3-1l3 0l3-1l2 0l6-1l2 0l18-4l2-1l18-3l7-2l2 0l31-8l14-5l1 0l7-2l1 0l21-7l1-1l2-1l1 0l1-1l1 0l1 0l1-1l1 0l1 0l1-1l1 0l1-1l2 0l1-1l6-2l-21 8l-1 0l-1 0l-11 4l-17 4l-2 0l-10 2l-3 0l-1 0l-9 1l-1 0l-8 0l0 1l-16 0l0-1l-9 0l-10-1l-7-1l-13-2l-19-5l-20-7l-15-7l-15-7l-21-12l-16-11l-16-12l-20-16l-16-15l-31-31l-21-24l1-1l27 0l0-1l1 1l0-1l1 1l0-1l35 0l1 0l1 0l2 0l1 0l2 0l1 0l36 0l1 1l2-1l0 1l29 0l0 1l10 0l9 0l1 1l22 1l-1-2l-22-49l-17-44l-21-61l-19-62l-18-63l-20-74l-24-102l-16-71l-1 1l-25 60l-28 63l-20 42l-31 60l-29 54l-20 35l-31 50l-26 39l-27 36l-27 34l-28 30l-27 27l-20 18l-28 21l-11 7z"/>
<path fill="#406cfe" d="M225 657l4-1l3-1l9-1l13-3l2 0l19-4l12-2l3-1l3 0l6-1l3 0l4-1l3 0l3-1l3 0l1-1l6 0l1-1l6 0l4-1l4 0l7-2l4 0l1 0l15-2l4 0l1-1l4 0l4-1l5 0l10-1l11-1l-7 19l-13 29l-6 12l0 1l-16 33l-18 31l-13 19l-12 15l-7 8l-11 11l-7 6l-8 6l-7 4l1 1l14 0l1 1l28 1l12 0l1 1l50 0l1 1l0-1l1 1l0-1l1 1l0-1l1 1l1-1l0 1l3-1l0 1l3 0l0-1l6 1l2-1l0 1l1-1l32 0l1 0l1 0l16 0l0-1l37-1l25-1l1-1l7 0l7 0l1-1l30-2l1 0l5 0l0-1l5 0l20-2l1 0l4 0l0-1l4 0l1 0l4 0l0-1l4 0l5-1l20-2l18-2l4-1l13-2l7-1l3 0l0-1l21-3l3-1l2 0l3-1l3 0l3-1l2 0l8-2l10-1l3-1l9-2l18-4l2 0l37-10l24-7l-16 4l-2 0l-10 2l-8 0l0 1l-14 0l0 1l-25-1l-5 0l-1-1l-11-1l-20-4l-2-1l-10-2l-23-8l-11-6l-1 0l-20-10l-21-13l-15-10l-19-15l-22-19l-38-37l-25-30l1-1l1 1l0-1l29 0l1-1l2 1l1-1l34 0l1 0l1 0l1 0l1 0l1 0l1 0l1 0l1 0l1 0l1 0l1 0l2 0l2 0l51 1l12 0l1 1l11 0l25 1l-20-44l-17-44l-21-61l-19-62l-18-63l-20-74l-24-102l-16-71l-1 1l-25 60l-28 63l-20 42l-31 60l-29 54l-20 35l-31 50l-26 39l-27 36l-27 34l-28 30l-27 27l-20 18l-22 16z"/>
<path fill="#3e6fff" d="M221 651l11-2l3-1l17-3l3 0l3-1l2 0l6-2l2 0l3-1l27-4l3 0l4-1l3 0l0-1l3 0l4-1l10-1l8-1l3 0l8-2l15-1l1-1l4 0l1 0l8-1l5-1l4 0l5-1l18-1l1 0l-10 25l-13 29l-6 12l0 1l-16 33l-16 27l-15 23l-12 15l-7 8l-15 15l-7 6l-8 5l21 1l1 0l9 0l1 1l25 0l1 1l19 0l1 0l68 0l1 0l20 0l0-1l15 0l1 0l33-1l0-1l17 0l0-1l8 0l33-2l1-1l21-1l1-1l10 0l5-1l22-2l1-1l20-2l11-1l1-1l24-3l3-1l3 0l4-1l3 0l21-3l3-1l5-1l6-1l2 0l6-2l2 0l18-3l2-1l5-1l18-4l2 0l10-3l2 0l4-2l21-5l-3 1l-10 1l-1 0l-4 0l0 1l-14 0l0 1l-25-1l-5 0l-1-1l-4 0l-13-2l-21-5l-19-6l-16-6l-20-10l-17-10l-20-13l-16-12l-20-16l-16-15l-24-24l-16-18l-21-25l7 0l0-1l1 1l1-1l11 0l1 0l2 0l51-1l1 0l1 0l4 0l1 0l1 0l1 0l2 0l1 0l3 0l1 0l34 0l1 1l16 0l1 0l1 0l23 1l9 0l1 1l10 0l-17-38l-17-44l-21-61l-19-62l-18-63l-20-74l-24-102l-16-71l-1 1l-25 60l-28 63l-20 42l-31 60l-29 54l-20 35l-31 50l-26 39l-27 36l-27 34l-28 30l-27 27l-20 18l-9 6z"/>
<path fill="#3b72fe" d="M224 644l12-2l2-1l3 0l13-3l2 0l14-3l3 0l3-1l3 0l12-2l3 0l7-2l3 0l1 0l16-2l4-1l7-1l1 0l7-1l8-1l8-1l4-1l0 1l1-1l12-1l34-3l1 0l-12 31l-15 35l-20 40l-16 27l-15 23l-15 19l-15 15l-9 8l-7 5l11 0l0 1l9 0l1 0l22 1l1 0l16 0l0 1l26 0l1 0l1 0l37 0l1 0l1 0l27 0l1-1l42-1l1 0l9 0l1-1l8 0l1 0l8 0l1-1l29-1l1-1l24-1l0-1l5 0l1 0l5 0l0-1l15-1l1 0l9-1l5-1l4 0l1 0l12-1l1-1l19-2l4-1l4 0l28-4l3-1l3 0l1 0l29-5l19-4l3 0l15-3l2-1l5 0l2-1l5-1l2-1l2 0l5-1l2 0l22-6l-9 1l-1 0l-8 0l0 1l-16 0l0-1l-9 0l-10-1l-7-1l-13-2l-19-5l-20-7l-15-7l-20-10l-21-13l-15-10l-19-15l-22-19l-38-37l-22-25l-13-16l3-1l25-1l1 0l1 0l17 0l1-1l80 0l1 1l17 0l1 0l1 0l13 0l1 1l26 1l-14-32l-17-44l-21-61l-19-62l-18-63l-20-74l-24-102l-16-71l-1 1l-25 60l-28 63l-20 42l-31 60l-29 54l-20 35l-31 50l-26 39l-27 36l-27 34l-28 30l-27 27l-17 15z"/>
<path fill="#3875fe" d="M240 635l2 0l3-1l2 0l14-3l3 0l6-2l2 0l16-3l3 0l6-1l3 0l4-1l3 0l0-1l3 0l1 0l3 0l0-1l3 0l8-1l3 0l4-1l4 0l4-1l20-2l0-1l1 1l0-1l4 0l4-1l41-4l0 1l-4 10l0 2l-23 54l-16 35l-1 1l-5 10l-10 17l-18 29l-15 19l-7 8l-11 11l-13 11l2 0l8 0l0 1l10 0l1 0l25 1l1 0l19 0l0 1l72 0l1-1l20 0l1 0l28-1l10 0l1-1l9 0l9 0l1-1l23-1l1 0l26-2l5 0l1-1l5 0l6 0l0-1l11 0l5-1l10-1l4 0l1-1l4 0l4 0l1-1l4 0l4 0l5-1l20-2l7-2l4 0l21-3l3-1l3 0l4-1l15-2l3-1l3 0l23-4l2 0l28-6l2-1l2 0l3-1l4 0l5-2l10-2l-7 0l0 1l-25-1l-5 0l-1-1l-11-1l-20-4l-2-1l-10-2l-23-8l-11-6l-1 0l-27-14l-19-12l-22-16l-20-16l-16-15l-24-24l-12-13l-17-19l-17-22l0-1l8 0l1 0l1 0l10 0l1-1l1 1l0-1l15 0l2 0l17 0l0-1l1 1l1-1l0 1l1-1l73 0l0 1l19 0l1 0l13 0l1 1l10 0l1 0l1 0l12 1l-12-26l-17-44l-21-61l-19-62l-18-63l-20-74l-24-102l-16-71l-1 1l-25 60l-28 63l-20 42l-31 60l-29 54l-20 35l-31 50l-26 39l-27 36l-27 34l-28 30l-27 27l-8 7z"/>
<path fill="#3579fd" d="M247 627l8-1l3-1l5 0l3-1l15-2l10-2l3 0l3-1l3 0l4-1l10-1l0-1l4 0l3 0l8-2l3 0l1 0l7-1l1 0l3 0l5-1l4 0l0-1l4 0l4-1l18-1l0-1l20-1l1-1l4 0l1 0l5 0l0-1l3 1l-17 43l-13 29l-16 35l-1 1l-5 10l-10 17l-18 29l-15 19l-7 8l-11 11l-10 9l1 0l9 0l1 1l10 0l1 0l29 1l30 0l0 1l3-1l0 1l28 0l0-1l1 1l1-1l31 0l32-1l22-1l1 0l8 0l1-1l32-1l0-1l20-1l6 0l0-1l6 0l6 0l0-1l5 0l26-2l0-1l9 0l5-1l13-1l0-1l20-2l7-1l4-1l4 0l14-2l3-1l3 0l4-1l3 0l3-1l3 0l1 0l23-4l58-11l-13 0l0-1l-9 0l-10-1l-7-1l-13-2l-19-5l-20-7l-15-7l-15-7l-21-12l-16-11l-16-12l-20-16l-16-15l-24-24l-16-18l-18-20l-17-22l1 0l17-1l11 0l1-1l2 1l0-1l14 0l1 0l21 0l0-1l1 1l1-1l1 1l1-1l60 0l0 1l1-1l1 1l19 0l1 0l1 0l15 0l1 1l21 0l-9-19l-17-44l-21-61l-19-62l-18-63l-20-74l-24-102l-16-71l-1 1l-25 60l-28 63l-20 42l-31 60l-29 54l-20 35l-31 50l-26 39l-27 36l-27 34l-28 30l-25 25z"/>
<path fill="#327cfc" d="M257 619l12-1l3-1l3 0l6-2l3 0l7-1l10-1l0-1l17-2l4 0l4-1l3 0l1-1l19-2l4 0l1-1l4 0l4-1l18-1l1-1l25-2l6 0l0-1l3 1l-9 24l-19 45l-10 21l0 1l-5 11l0 1l-17 31l-12 21l-19 27l-13 15l-11 11l-8 7l2 0l10 0l1 1l27 0l1 1l21 0l1 0l1 0l61 0l23 0l1-1l29 0l0-1l12 0l9 0l1-1l9 0l24-1l1-1l27-1l0-1l6 0l22-2l1 0l4 0l1-1l4 0l1 0l5 0l0-1l14-1l4 0l1-1l4 0l4 0l1-1l31-3l1-1l7 0l3-1l4 0l0-1l23-3l13-2l6-1l3-1l25-4l27-5l-18-1l-1-1l-4 0l-13-2l-21-5l-19-6l-16-6l-20-10l-26-16l-15-10l-19-15l-29-25l-24-24l-16-18l-18-20l-21-27l1-1l12 0l1-1l1 1l0-1l10 0l1 0l1 0l12 0l0-1l2 1l1-1l41 0l0-1l1 1l1-1l0 1l1-1l0 1l1-1l0 1l1-1l0 1l1-1l39 0l0 1l2-1l1 1l0-1l1 1l24 0l15 0l1 1l21 0l-6-13l-17-44l-21-61l-19-62l-18-63l-20-74l-24-102l-16-71l-1 1l-25 60l-28 63l-20 42l-31 60l-29 54l-20 35l-31 50l-26 39l-27 36l-27 34l-28 30l-17 18z"/>
<path fill="#307efb" d="M240 617l3-1l3 0l3-1l2 0l3-1l3 0l0-1l3 0l3 0l18-4l3 0l4-1l3 0l3-1l3 0l1 0l3 0l0-1l3 0l1 0l3 0l0-1l3 0l1 0l3 0l7-2l4 0l4 0l0-1l4 0l4 0l0-1l4 0l4-1l4 0l5-1l4 0l4-1l14-1l10-1l1 0l25-2l1-1l2 0l1 1l-11 30l-19 45l-10 21l0 1l-5 11l0 1l-14 27l-15 25l-19 27l-13 15l-16 16l16 0l0 1l14 0l19 0l0 1l80 0l1-1l20 0l28-1l1 0l10 0l0-1l10 0l26-1l0-1l28-1l1-1l5 0l1 0l5 0l1-1l27-2l1 0l19-2l4 0l1-1l4 0l4 0l1-1l4 0l4-1l4 0l1 0l19-2l1-1l38-5l3-1l3 0l1 0l26-4l3-1l6-1l24-5l-14-1l-7-1l-13-2l-14-4l-19-6l-16-6l-20-10l-17-10l-20-13l-16-12l-20-16l-16-15l-24-24l-29-32l-30-39l2-1l32-1l1 0l1 0l14 0l0-1l1 1l0-1l1 1l0-1l17 0l1 0l1 0l1 0l81 0l2 0l1 0l16 0l1 1l1-1l0 1l21 0l-4-7l-17-44l-21-61l-19-62l-18-63l-20-74l-24-102l-16-71l-1 1l-25 60l-28 63l-20 42l-31 60l-29 54l-20 35l-31 50l-26 39l-27 36l-27 34l-28 30l-9 10z"/>
<path fill="#2f81fa" d="M254 608l18-3l12-2l1 0l3 0l0-1l3 0l1 0l3 0l0-1l3 0l1 0l13-2l4-1l4 0l4-1l3 0l4-1l4 0l1 0l7-1l4-1l5 0l17-2l1 0l4 0l1-1l4 0l5-1l5 0l1 0l26-2l1-1l2 1l-13 36l-13 31l-10 23l-2 5l0 1l-4 6l0 1l-16 33l-16 27l-15 23l-15 19l-17 18l20 0l1 1l17 0l1 0l32 0l1 1l0-1l1 1l0-1l1 1l0-1l1 1l18 0l1-1l2 1l1-1l53 0l1-1l26 0l1-1l10 0l35-2l15-1l7 0l0-1l6 0l1 0l6 0l0-1l28-2l1 0l4 0l1-1l4 0l1 0l4 0l1-1l4 0l1 0l22-2l1-1l3 0l5-1l4 0l23-3l1 0l27-4l4-1l3 0l3-1l3 0l1 0l23-4l3-1l3 0l3-1l2 0l13-2l-14-2l-20-4l-2-1l-10-2l-23-8l-11-6l-1 0l-20-10l-21-13l-15-10l-12-9l-20-16l-16-15l-24-24l-16-18l-18-20l-18-23l-11-15l2-1l18-1l1 0l1 0l10 0l1-1l1 1l0-1l11 0l1 0l1 0l37-1l1 0l1 0l1 0l1 0l61 0l1 0l1 0l1 0l21 0l0 1l1-1l0 1l22 0l-1-1l-17-44l-21-61l-19-62l-18-63l-20-74l-24-102l-16-71l-1 1l-25 60l-28 63l-20 42l-31 60l-29 54l-20 35l-31 50l-26 39l-27 36l-27 34l-28 30l-2 3z"/>
<path fill="#2e84f8" d="M254 602l1 0l2 0l19-4l3 0l3-1l7 0l3-1l3 0l1-1l3 0l3 0l1-1l3 0l7-1l4 0l4-1l19-2l1-1l4 0l31-3l0-1l10 0l5-1l6 0l0-1l22-1l1-1l1 1l-13 36l-15 37l-10 23l-2 5l0 1l-4 6l0 1l-16 33l-16 27l-15 23l-15 19l-15 15l1 1l12 0l1 0l16 0l0 1l26 0l1 0l48 0l1 0l26 0l1-1l0 1l1-1l31 0l0-1l11 0l11 0l0-1l10 0l1 0l24-1l1-1l14 0l1-1l13 0l0-1l6 0l6 0l0-1l28-2l5-1l4 0l1 0l4 0l1-1l4 0l1 0l9-1l13-1l4-1l4 0l1-1l26-3l1 0l20-3l4-1l6 0l4-1l3 0l0-1l27-4l3-1l5 0l3-1l-12-2l-12-3l-2 0l-2-1l-10-2l-23-8l-11-6l-1 0l-20-10l-21-13l-15-10l-12-9l-20-16l-16-15l-24-24l-16-18l-18-20l-18-23l-15-21l1-1l9 0l1 0l7 0l1-1l1 1l1-1l9 0l1 0l1 0l11 0l0-1l1 1l1-1l11 0l2 0l1 0l49-1l1 0l2 0l1 0l1 0l1 0l1 0l1 0l1 0l3 0l1 0l9 0l1 0l3 0l1 0l1 0l1 0l1 0l1 0l1 0l1 0l30 0l0 1l27 0l-16-39l-21-61l-19-62l-18-63l-20-74l-24-102l-16-71l-1 1l-25 60l-28 63l-20 42l-31 60l-29 54l-20 35l-31 50l-26 39l-27 36l-27 34l-23 25z"/>
<path fill="#2e87f7" d="M273 593l4-1l3 0l3-1l3 0l4-1l17-2l4 0l0-1l4 0l7-1l4 0l4-1l4 0l1-1l16-1l4-1l9-1l1 0l9-1l9-1l1 0l5 0l0-1l5 0l5-1l5 0l1 0l11-1l1 0l6 0l-15 42l-15 37l-10 23l-2 5l0 1l-4 6l0 1l-16 33l-16 27l-12 19l-15 19l-16 17l23 1l24 0l0 1l61 0l1-1l0 1l1-1l41 0l0-1l13 0l11 0l1-1l10 0l1 0l26-1l1-1l22-1l7 0l0-1l30-2l1 0l10-1l1 0l4 0l1-1l4 0l1 0l4 0l1-1l4 0l5-1l18-1l1-1l16-1l1-1l3 0l4-1l4 0l11-1l8-2l7 0l3-1l10-1l4-1l3 0l6-2l3 0l1 0l23-4l-5-1l-12-3l-2 0l-2-1l-10-2l-20-7l-15-7l-15-7l-17-10l-20-13l-16-12l-20-16l-16-15l-31-31l-31-37l-20-25l-13-18l1-1l9 0l1-1l8 0l1 0l35-1l0-1l14 0l1 0l1 0l1 0l1 0l19 0l1-1l0 1l1-1l0 1l1-1l68 0l0 1l1-1l1 1l34 0l-13-33l-21-61l-19-62l-18-63l-20-74l-24-102l-16-71l-1 1l-25 60l-28 63l-20 42l-31 60l-29 54l-20 35l-31 50l-26 39l-27 36l-27 34l-17 18z"/>
<path fill="#2d89f5" d="M268 588l6-1l7-1l3-1l3 0l4-1l7 0l0-1l3 0l1 0l3 0l7-2l4 0l4-1l4 0l8-1l4 0l4-1l4 0l4-1l5 0l0-1l4 0l5-1l5 0l4 0l5-1l15-1l1-1l4 0l1 0l6 0l0-1l5 0l6 0l0-1l6 0l5 0l-11 32l-18 47l-15 35l-14 29l-1 1l-5 10l-10 17l-18 29l-15 19l-13 15l1 0l15 0l0 1l22 0l1 0l68 0l1 0l1 0l39-1l1 0l12 0l0-1l12 0l29-1l1-1l15 0l1-1l7 0l7 0l0-1l7 0l25-2l11-1l1 0l20-2l1 0l9-1l4 0l1-1l4 0l5-1l4 0l1 0l12-1l0-1l4 0l4 0l0-1l4 0l8-1l7-1l4-1l4 0l3-1l7 0l4-1l10-1l0-1l6 0l1-1l9-1l13-2l-13-3l-2-1l-10-2l-20-7l-15-7l-15-7l-17-10l-20-13l-16-12l-20-16l-16-15l-31-31l-31-37l-20-25l-17-24l2-1l17 0l0-1l9 0l1 0l1 0l1 0l21-1l1 0l1 0l14 0l0-1l1 1l0-1l16 0l32 0l0-1l1 1l1-1l0 1l2-1l4 0l1 1l0-1l2 1l0-1l1 1l1-1l0 1l1-1l2 1l0-1l8 0l0 1l1-1l1 1l0-1l1 1l2-1l1 1l1-1l2 0l1 1l30 0l1 0l1 0l17 0l0 1l1-1l-11-27l-21-61l-19-62l-18-63l-20-74l-24-102l-16-71l-1 1l-25 60l-28 63l-20 42l-31 60l-29 54l-20 35l-31 50l-26 39l-27 36l-27 34l-10 11z"/>
<path fill="#2d8cf3" d="M285 580l1-1l3 0l3 0l4-1l14-2l4 0l4-1l4 0l0-1l8 0l0-1l8 0l4-1l4 0l5-1l4 0l1-1l13-1l5-1l10 0l5-1l22-2l1 0l12-1l3 0l-13 38l-18 47l-15 35l-14 29l-1 1l-5 10l-10 17l-18 29l-15 19l-11 13l31 0l1 1l75 0l0-1l1 1l0-1l21 0l1 0l1 0l28-1l1 0l11 0l1-1l28-1l1 0l7 0l0-1l1 1l0-1l7 0l1 0l7 0l0-1l7 0l7 0l1-1l5 0l1 0l18-1l1-1l21-1l1-1l19-1l1-1l4 0l4 0l5-1l5 0l0-1l8 0l1-1l27-3l4-1l4 0l3 0l1-1l3 0l3 0l1-1l3 0l3 0l1-1l3 0l3 0l1-1l3 0l3-1l3 0l4-1l12-1l-14-4l-19-6l-16-6l-20-10l-17-10l-14-9l-29-22l-29-25l-24-24l-16-18l-32-38l-31-42l3-1l18-1l8 0l1-1l35-1l1 0l1 0l15 0l0-1l1 1l1-1l20 0l1 0l3 0l3 0l62 0l1 0l1 0l22 0l0 1l1-1l0 1l5 0l-9-22l-21-61l-19-62l-18-63l-20-74l-24-102l-16-71l-1 1l-25 60l-28 63l-20 42l-31 60l-29 54l-20 35l-31 50l-26 39l-27 36l-27 34l-5 5z"/>
<path fill="#2c8ff1" d="M286 574l1-1l13-1l1-1l3 0l1 0l3 0l8-2l16-1l0-1l4 0l4-1l4 0l5-1l4 0l1 0l4 0l0-1l4 0l5-1l26-2l1 0l4 0l1-1l4 0l1 0l6 0l0-1l12 0l0-1l5 0l1 0l1 0l-9 27l-1 2l-1 4l-1 1l-1 4l-1 2l-1 4l-8 20l0 2l-19 45l-10 21l0 1l-5 11l0 1l-14 27l-15 25l-19 27l-15 17l27 1l1 0l76 0l1 0l21 0l1-1l0 1l1-1l29 0l0-1l12 0l1 0l28-1l0-1l16 0l1-1l6 0l1 0l7 0l0-1l6 0l1 0l1 0l5 0l1-1l12 0l1-1l11 0l0-1l5 0l1 0l5 0l0-1l5 0l25-2l1-1l4 0l4 0l1-1l4 0l4 0l1-1l4 0l32-4l14-2l1 0l3 0l0-1l3 0l1 0l3 0l3-1l3 0l1-1l15-2l-13-3l-20-7l-15-7l-15-7l-17-10l-20-13l-16-12l-16-13l-20-18l-24-24l-20-22l-32-39l-20-27l-11-16l5-1l15 0l0-1l11 0l1 0l33-1l0-1l1 1l0-1l15 0l1 0l19 0l0-1l1 1l0-1l87 0l1 1l14 0l-6-16l-21-61l-19-62l-18-63l-20-74l-24-102l-16-71l-1 1l-25 60l-28 63l-20 42l-31 60l-29 54l-20 35l-31 50l-26 39l-27 36l-26 32z"/>
<path fill="#2b91ef" d="M285 568l3 0l1-1l3 0l7-1l4 0l0-1l4 0l3-1l20-2l30-3l1-1l10 0l5-1l31-3l1 0l18-1l1-1l4 0l0 1l-11 32l-1 2l-1 4l-1 1l-1 4l-1 2l-1 4l-8 20l0 2l-19 45l-10 21l0 1l-5 11l0 1l-14 27l-15 25l-13 19l-18 23l1 0l22 0l0 1l78 0l0-1l22 0l29-1l1 0l11 0l0-1l11 0l28-1l0-1l8 0l7 0l1-1l6 0l1 0l6 0l1-1l6 0l1 0l5 0l1-1l5 0l1 0l6 0l0-1l17-1l5 0l1-1l19-1l5-1l5 0l0-1l4 0l1 0l4 0l0-1l4 0l1 0l4 0l0-1l4 0l4-1l20-2l1 0l14-2l1 0l3 0l0-1l3 0l1 0l3 0l0-1l3 0l1 0l15-2l-21-7l-4-2l-5-1l-11-6l-1 0l-20-10l-16-9l-16-11l-16-12l-20-16l-16-15l-24-24l-20-22l-32-39l-20-27l-15-21l1-1l5 0l1 0l25-1l0-1l21 0l1-1l1 1l0-1l10 0l1 0l1 0l13 0l0-1l1 1l0-1l17 0l1 0l1 0l25 0l0-1l1 1l1-1l2 1l2-1l42 0l0 1l1-1l1 1l28 0l1 0l2 0l-4-10l-21-61l-19-62l-18-63l-20-74l-24-102l-16-71l-1 1l-25 60l-28 63l-20 42l-31 60l-29 54l-20 35l-31 50l-26 39l-27 36l-20 25z"/>
<path fill="#2994ed" d="M301 560l4-1l4 0l4-1l3 0l1 0l3 0l1-1l3 0l1 0l20-2l1-1l18-1l5-1l15-1l1-1l10 0l0-1l6 0l10-1l1 0l7 0l0-1l5 0l6 0l1-1l2 1l-13 38l-1 2l-1 4l-1 1l-1 4l-1 2l-1 4l-8 20l0 2l-19 45l-10 21l0 1l-5 11l0 1l-14 27l-15 25l-13 19l-16 21l97 0l39-1l1 0l12 0l1-1l32-1l1 0l25-1l0-1l7 0l1 0l7 0l0-1l6 0l1 0l6 0l0-1l13 0l1-1l11 0l1-1l5 0l5 0l1-1l25-2l1 0l9-1l4 0l1-1l4 0l4 0l1-1l4 0l4-1l4 0l1 0l23-3l4-1l4 0l4-1l3 0l1 0l19-3l-1 0l-14-5l-16-6l-20-10l-12-7l-14-9l-15-10l-12-9l-20-16l-16-15l-24-24l-29-32l-29-37l-33-46l1 0l23-1l0-1l30-1l1 0l1 0l10 0l0-1l1 1l0-1l12 0l1 0l1 0l1 0l16 0l0-1l22 0l1 0l1 0l1 0l67 0l1 0l1 0l2 0l14 0l-2-4l-21-61l-19-62l-18-63l-20-74l-24-102l-16-71l-1 1l-25 60l-28 63l-20 42l-31 60l-29 54l-20 35l-31 50l-26 39l-27 36l-15 19z"/>
<path fill="#2896eb" d="M303 554l1 0l7-1l12-1l0-1l17-1l1-1l7 0l1-1l9 0l5-1l10-1l4-1l6 0l5-1l0 1l1-1l4 0l1 0l17-1l1-1l5 0l1 0l11-1l1 0l5 0l-15 44l-1 2l-1 4l-1 1l-1 4l-1 2l-1 4l-8 20l0 2l-13 31l-10 23l-2 5l0 1l-4 6l0 1l-16 33l-16 27l-15 23l-14 18l19 0l0 1l70 0l1-1l1 1l0-1l41 0l0-1l13 0l13 0l0-1l30-1l17-1l7 0l0-1l7 0l1 0l7 0l0-1l26-1l0-1l38-3l5-1l5 0l14-1l0-1l4 0l5-1l4 0l4 0l1-1l27-3l1 0l7-1l3 0l1-1l3 0l3 0l8-2l-16-5l-15-7l-15-7l-17-10l-20-13l-16-12l-29-25l-31-30l-16-18l-18-20l-29-37l-21-30l-10-15l1-1l8 0l7 0l1-1l19 0l0-1l19 0l0-1l12 0l1 0l1 0l12 0l0-1l17 0l21 0l1-1l85 0l0 1l4 0l-21-60l-19-62l-18-63l-20-74l-24-102l-16-71l-1 1l-25 60l-28 63l-20 42l-31 60l-29 54l-20 35l-31 50l-26 39l-27 36l-10 13z"/>
<path fill="#2698ea" d="M309 548l1-1l4 0l4-1l16-1l0-1l5 0l13-1l5-1l1 0l4 0l5-1l4 0l5-1l5 0l1-1l4 0l1 0l5-1l1 1l0-1l29-2l13-1l1 0l1 0l-14 42l-1 1l-2 7l-1 2l-11 31l-15 37l-10 23l-2 5l0 1l-4 6l0 1l-16 33l-16 27l-12 19l-15 20l20 0l61 0l1 0l1 0l44-1l14 0l0-1l13 0l30-1l1-1l8 0l8 0l0-1l29-1l1-1l6 0l6 0l1-1l5 0l1 0l5 0l1-1l27-2l1 0l4 0l1-1l4 0l5-1l5 0l31-3l1-1l3 0l1 0l3 0l1-1l3 0l1 0l3 0l1-1l3 0l1 0l24-3l-14-5l-11-6l-1 0l-15-7l-21-12l-16-11l-16-12l-29-25l-31-30l-16-18l-18-20l-29-37l-14-20l-21-30l5-1l16-1l6 0l1-1l10 0l1 0l8 0l0-1l21 0l1-1l1 1l0-1l11 0l1 0l1 0l13 0l1-1l53 0l1-1l0 1l3-1l1 1l1-1l0 1l1-1l0 1l1-1l0 1l1-1l1 1l0-1l3 1l1-1l2 1l1-1l1 1l0-1l1 1l0-1l1 1l0-1l1 1l1-1l4 0l0 1l1-1l1 1l1-1l0 1l1-1l0 1l1-1l1 1l29 0l-19-54l-19-62l-18-63l-20-74l-24-102l-16-71l-1 1l-25 60l-28 63l-20 42l-31 60l-29 54l-20 35l-31 50l-26 39l-27 36l-5 6z"/>
<path fill="#259be8" d="M333 539l9-1l5-1l4 0l1 0l4 0l5-1l14-1l0-1l6 0l5-1l23-1l0-1l5 0l1 0l6 0l1-1l5 0l7 0l0-1l4 0l1 1l-12 35l-1 2l-3 10l-1 1l-2 7l-1 2l-11 31l-12 31l-15 35l-14 29l-1 1l-5 10l-10 17l-18 29l-13 17l22 0l0 1l1-1l0 1l79-1l1 0l33-1l1 0l11 0l0-1l12 0l29-1l0-1l24-1l14-1l6 0l1-1l6 0l6 0l0-1l6 0l6 0l1-1l21-1l1-1l4 0l1 0l4 0l1-1l4 0l5-1l5 0l5-1l22-2l20-2l1-1l11-1l8-1l-16-6l-20-10l-26-16l-15-10l-19-15l-29-25l-31-31l-31-37l-20-25l-14-19l-29-43l15-1l7 0l1-1l7 0l8 0l1-1l10 0l1 0l9 0l0-1l1 1l1-1l9 0l1 0l1 0l10 0l0-1l2 1l1-1l15 0l17 0l0-1l26 0l1 0l2 0l1 0l1 0l1 0l1 0l62 0l-17-48l-19-62l-18-63l-20-74l-24-102l-16-71l-1 1l-25 60l-28 63l-20 42l-31 60l-29 54l-20 35l-31 50l-26 39l-27 36z"/>
<path fill="#249de6" d="M322 785l28 0l1 0l1 0l1 0l1 0l63 0l1-1l20 0l14 0l1-1l12 0l1 0l11 0l1-1l28-1l1 0l8 0l0-1l30-1l1-1l6 0l6 0l1-1l6 0l6 0l0-1l6 0l1 0l16-1l0-1l5 0l5 0l1-1l4 0l1 0l4 0l1-1l4 0l1 0l4 0l1-1l22-2l4-1l9 0l0-1l27-3l-11-4l-20-10l-26-16l-15-10l-19-15l-29-25l-31-31l-31-37l-20-25l-14-19l-17-24l-14-22l-13 39l-1 2l-3 10l-1 1l-8 24l-18 47l-15 35l-14 29l-1 1l-5 10l-10 17l-18 29zM312 536l3 0l1-1l12-1l8-1l1 0l9-1l9-1l1 0l9-1l5 0l0-1l5 0l5 0l5-1l6 0l0-1l5 0l1 0l23-2l1 0l6 0l1-1l4 0l1 0l1 0l6 0l1-1l6 0l23-1l1-1l10 0l1 0l29-1l0-1l1 1l1-1l10 0l1 0l1 0l12 0l1-1l0 1l1-1l1 1l0-1l16 0l1 0l1 0l24 0l1-1l0 1l1-1l1 1l0-1l1 1l0-1l1 1l0-1l56 0l1 1l0-1l2 1l2-1l0 1l4 0l-15-43l-19-62l-18-63l-20-74l-24-102l-16-71l-1 1l-25 60l-28 63l-20 42l-31 60l-29 54l-20 35l-31 50l-26 39l-22 30z"/>
<path fill="#23a0e5" d="M324 782l86 0l1 0l51-1l0-1l11 0l1 0l11 0l0-1l27-1l1 0l30-2l1 0l13-1l6 0l1-1l5 0l6 0l0-1l6 0l1 0l21-2l1 0l4 0l1-1l14-1l1 0l4 0l5-1l4 0l5-1l4 0l0-1l4 0l1 0l4 0l0-1l27-3l-26-12l-17-10l-14-9l-29-22l-29-25l-31-31l-31-37l-20-25l-14-19l-17-24l-14-22l-13 39l-1 2l-3 10l-1 1l-8 24l-18 47l-13 29l-16 35l-1 1l-5 10l-10 17l-18 29zM319 530l1-1l7 0l5-1l4 0l0-1l5 0l4-1l4 0l1 0l5 0l4-1l5 0l1-1l9 0l0-1l16-1l6 0l0-1l17-1l1 0l6 0l1-1l5 0l1 0l6 0l1-1l6 0l15-1l33-2l1 0l22-1l1 0l10 0l1-1l0 1l1-1l14 0l17 0l0-1l2 1l0-1l20 0l1 0l2 0l2 0l68 0l-13-37l-19-62l-18-63l-20-74l-24-102l-16-71l-1 1l-25 60l-28 63l-20 42l-31 60l-29 54l-20 35l-31 50l-26 39l-17 23z"/>
<path fill="#22a2e4" d="M326 780l0-1l1 1l75 0l0-1l23 0l1 0l1 0l31-1l12 0l1-1l11 0l9 0l0-1l19 0l0-1l8 0l1 0l7 0l1-1l7 0l14-1l6 0l1-1l6 0l1 0l5 0l1-1l5 0l1 0l5 0l1-1l5 0l1 0l16-1l0-1l5 0l5 0l1-1l4 0l5-1l5 0l31-3l4-1l12-1l1-1l2 0l-6-3l-15-7l-17-10l-14-9l-29-22l-29-25l-31-31l-31-37l-20-25l-14-19l-17-24l-14-22l-13 39l-1 2l-3 10l-1 1l-8 24l-18 47l-13 29l-11 24l0 1l-17 31l-12 21zM331 523l0-1l4 0l1 0l4 0l0-1l5 0l4-1l15-1l4-1l1 1l5-1l15-1l1-1l6 0l17-1l1-1l5 0l1 0l27-2l1 0l6 0l0-1l24-1l1 0l9 0l0-1l2 1l0-1l32-1l1 0l1 0l12 0l1-1l1 1l0-1l15 0l2 0l22 0l1-1l1 1l1-1l1 1l0-1l67 0l-11-31l-19-62l-18-63l-20-74l-24-102l-16-71l-1 1l-25 60l-28 63l-20 42l-31 60l-29 54l-20 35l-31 50l-26 39l-13 17z"/>
<path fill="#20a4e3" d="M328 777l5 0l1 0l1 0l1 0l55 0l27 0l0-1l2 1l1-1l16 0l1 0l1 0l14 0l0-1l13 0l1 0l31-1l0-1l8 0l1 0l8 0l0-1l1 1l0-1l7 0l1 0l7 0l0-1l21-1l1 0l6 0l0-1l24-1l1-1l5 0l5 0l1-1l5 0l1 0l10-1l5 0l5-1l4 0l1-1l4 0l1 0l26-3l1 0l15-2l-17-8l-12-7l-25-16l-23-18l-29-25l-31-31l-31-37l-20-25l-14-19l-17-24l-14-22l-13 39l-1 2l-3 10l-1 1l-8 24l-18 47l-13 29l-11 24l0 1l-17 31l-12 21zM330 517l1 0l4 0l0-1l4 0l1 0l4 0l0-1l4 0l1 0l5 0l0-1l4 0l5-1l5 0l1 0l10-1l5 0l0-1l6 0l10-1l1 0l6 0l0-1l19-1l6 0l0-1l7 0l1 0l1 0l6 0l0-1l15 0l0-1l27-1l9 0l1-1l1 1l1-1l22 0l0-1l1 1l0-1l12 0l2 0l1 0l15 0l0-1l22 0l1 0l1 0l1 0l67 0l-9-26l-19-62l-18-63l-20-74l-24-102l-16-71l-1 1l-25 60l-28 63l-20 42l-31 60l-29 54l-20 35l-31 50l-26 39l-9 11z"/>
<path fill="#1fa6e1" d="M330 774l23 0l0 1l1-1l2 0l1 1l1-1l1 1l0-1l1 1l0-1l1 1l0-1l1 1l1-1l1 1l2 0l1-1l1 1l1-1l1 1l0-1l39 0l1 0l1 0l20 0l1-1l0 1l1-1l14 0l1 0l13 0l0-1l33-1l1 0l26-1l0-1l22-1l1 0l19-1l1-1l11 0l1-1l5 0l6 0l1-1l4 0l1 0l5 0l1-1l25-2l9-1l5-1l5 0l25-3l-12-6l-17-10l-20-13l-16-12l-29-25l-31-30l-29-32l-23-29l-25-34l-26-39l-13 39l-1 2l-3 10l-1 1l-8 24l-8 20l0 2l-19 45l-10 21l0 1l-5 11l0 1l-14 27l-15 25zM334 511l1 0l8-1l1 0l4 0l1-1l4 0l1 0l14-1l1-1l4 0l1 0l4 0l1-1l4 0l1 0l1 0l4 0l1-1l10 0l1-1l31-2l1 0l7 0l0-1l6 0l1 0l14-1l1 0l27-1l0-1l10 0l1 0l1 0l9 0l1-1l1 1l0-1l11 0l1 0l1 0l12 0l1-1l16 0l1 0l22 0l0-1l1 1l0-1l1 1l1-1l64 0l-7-20l-19-62l-18-63l-20-74l-24-102l-16-71l-1 1l-25 60l-28 63l-20 42l-31 60l-29 54l-20 35l-31 50l-26 39l-4 5z"/>
<path fill="#1da9e0" d="M332 772l68 0l1-1l0 1l1-1l21 0l1 0l31-1l1 0l12 0l0-1l11 0l1 0l29-1l0-1l31-1l1-1l13 0l1-1l41-3l1 0l5 0l0-1l35-3l4 0l1-1l4 0l4 0l1-1l4 0l9-1l-8-4l-21-12l-16-11l-16-12l-29-25l-31-30l-29-32l-23-29l-25-34l-26-39l-13 39l-1 2l-3 10l-1 1l-8 24l-8 20l0 2l-19 45l-10 21l0 1l-5 11l0 1l-11 21l-16 27zM338 505l1 0l5-1l4 0l5 0l5-1l1 0l4 0l1-1l14-1l1 0l4 0l1-1l0 1l5-1l11-1l1 0l6 0l0-1l12 0l1-1l0 1l1-1l5 0l8 0l0-1l6 0l1 0l6 0l1-1l31-1l1-1l11 0l31-1l1-1l2 1l1-1l11 0l1 0l1 0l14 0l1-1l3 1l0-1l20 0l1 0l1 0l1 0l1 0l61 0l-5-15l-19-62l-18-63l-20-74l-24-102l-16-71l-1 1l-25 60l-28 63l-20 42l-31 60l-29 54l-20 35l-31 50l-26 38z"/>
<path fill="#1babde" d="M334 769l81 0l1-1l18 0l1 0l1 0l13 0l0-1l14 0l1 0l31-1l1-1l25-1l1 0l7 0l0-1l1 1l0-1l6 0l1 0l1 0l45-3l0-1l27-2l1 0l19-2l1 0l4 0l0-1l9 0l1-1l15-1l-16-9l-14-9l-27-19l-29-25l-31-30l-29-32l-23-29l-25-34l-26-39l-13 39l-1 2l-3 10l-1 1l-8 24l-8 20l0 2l-19 45l-10 21l0 1l-5 11l0 1l-11 21l-10 17l-8 14l-9 13zM343 499l1 0l4 0l0-1l21-1l0-1l10 0l0-1l5 0l11-1l1 0l5 0l1-1l6 0l12-1l1 0l5 0l1-1l0 1l1-1l5 0l1 0l1 0l5 0l0-1l8 0l1 0l6 0l0-1l34-1l1-1l2 1l0-1l20 0l1-1l1 1l0-1l10 0l1 0l1 0l29-1l1 0l1 0l1 0l19 0l1-1l0 1l1-1l0 1l1-1l1 1l1-1l58 0l-3-9l-19-62l-18-63l-20-74l-24-102l-16-71l-1 1l-25 60l-28 63l-20 42l-31 60l-29 54l-20 35l-31 50l-22 32z"/>
<path fill="#19addc" d="M335 766l68 0l1 0l1 0l22 0l0-1l15 0l1 0l14 0l1-1l33-1l1 0l17-1l1 0l7 0l1-1l0 1l1-1l7 0l1 0l6 0l1-1l7 0l33-2l1-1l22-1l1-1l15-1l1 0l4 0l1-1l4 0l1 0l4 0l1-1l4 0l1 0l22-2l-26-16l-27-19l-29-25l-31-30l-29-32l-23-29l-25-34l-26-39l-13 39l-1 2l-3 10l-1 1l-8 24l-8 20l0 2l-19 45l-10 21l0 1l-5 11l0 1l-11 21l-16 27zM368 491l27-2l1-1l18-1l1 0l5 0l1-1l6 0l1 0l6 0l1-1l15 0l0-1l6 0l25-1l0-1l11 0l9 0l1-1l1 1l0-1l9 0l1 0l1 0l12 0l1-1l0 1l1-1l12 0l1 0l1 0l1 0l14 0l0-1l1 1l1-1l1 1l1-1l19 0l1 0l4 0l54 0l-2-4l-19-62l-18-63l-20-74l-24-102l-16-71l-1 1l-25 60l-28 63l-20 42l-31 60l-29 54l-20 35l-31 50l-18 26z"/>
<path fill="#16afda" d="M337 764l52 0l1-1l0 1l1-1l25 0l2 0l1 0l15 0l1-1l1 1l0-1l14 0l1 0l35-1l1-1l18 0l0-1l17 0l0-1l7 0l1 0l1 0l6 0l0-1l1 1l0-1l7 0l6 0l1-1l6 0l13-1l1 0l5 0l1-1l5 0l6 0l1-1l4 0l1 0l21-2l1 0l9-1l1 0l9-1l15-2l-26-16l-29-22l-29-25l-24-24l-29-32l-23-29l-25-34l-26-39l-13 39l-1 2l-3 10l-1 1l-8 24l-8 20l0 2l-19 45l-10 21l0 1l-5 11l0 1l-11 21l-10 17zM358 487l1-1l10 0l0-1l16-1l1 0l10-1l1 0l1 0l4 0l1-1l11 0l1-1l13 0l1-1l13 0l0-1l8 0l8 0l0-1l9 0l7 0l1-1l28-1l1 0l1 0l10 0l1-1l1 1l0-1l10 0l1 0l1 0l13 0l0-1l1 1l0-1l41 0l0-1l1 1l1-1l1 1l1-1l49 0l-19-60l-18-63l-20-74l-24-102l-16-71l-1 1l-25 60l-28 63l-20 42l-31 60l-29 54l-20 35l-31 50l-14 20z"/>
<path fill="#13b1d7" d="M339 761l4 0l2 0l2 0l1 0l1 0l1 0l1 0l2 0l2 0l1 0l1 0l1 0l1 0l1 0l2 0l2 0l1 0l40 0l0-1l1 1l0-1l21 0l1 0l15 0l1-1l37-1l1 0l28-1l0-1l8 0l8 0l0-1l8 0l7 0l0-1l7 0l7 0l1-1l12 0l1-1l5 0l1 0l5 0l0-1l1 1l0-1l5 0l1 0l5 0l0-1l11 0l1-1l4 0l1 0l5 0l0-1l5 0l5-1l15-1l8-1l-22-14l-29-22l-29-25l-24-24l-29-32l-23-29l-25-34l-26-39l-13 39l-1 2l-3 10l-1 1l-8 24l-8 20l0 2l-19 45l-10 21l0 1l-5 11l0 1l-11 21l-16 27zM369 480l1 0l5 0l0-1l5 0l6 0l5-1l1 0l5 0l1-1l19-1l5 0l0-1l1 1l0-1l6 0l1 0l21-1l1-1l6 0l17-1l30-1l1-1l12 0l11 0l1-1l1 1l0-1l14 0l17 0l0-1l2 1l1-1l22 0l1 0l1 0l1 0l1 0l1 0l1 0l42 0l-17-55l-18-63l-20-74l-24-102l-16-71l-1 1l-25 60l-28 63l-20 42l-31 60l-29 54l-20 35l-31 50l-10 14z"/>
<path fill="#0eb2d4" d="M341 758l76 0l0-1l17 0l1 0l14 0l0-1l13 0l1 0l11 0l1-1l10 0l9 0l1-1l10 0l25-1l0-1l7 0l1 0l6 0l1-1l38-2l1-1l27-2l1 0l4 0l1-1l4 0l1 0l4 0l1-1l17-1l-25-16l-23-18l-29-25l-24-24l-29-32l-23-29l-25-34l-26-39l-2 8l-18 51l-1 2l-1 4l-1 1l-1 4l-1 2l-1 4l-8 20l0 2l-13 31l-10 23l-2 5l0 1l-14 29l-1 1l-11 20zM359 476l1-1l26-2l7 0l0-1l18-1l1 0l11-1l1 0l6 0l0-1l1 1l0-1l6 0l1 0l6 0l0-1l34-1l1-1l9 0l7 0l1-1l1 1l1-1l10 0l40-1l0-1l18 0l2 0l1 0l25 0l1-1l1 1l1-1l1 1l0-1l1 1l0-1l1 1l0-1l33 0l-15-49l-18-63l-20-74l-24-102l-16-71l-1 1l-25 60l-28 63l-20 42l-31 60l-29 54l-20 35l-31 50l-6 9z"/>
<path fill="#09b4d1" d="M343 756l0-1l1 1l1-1l2 0l1 1l1-1l0 1l3-1l0 1l4 0l1-1l0 1l1-1l1 1l0-1l1 1l1-1l1 1l2-1l1 1l0-1l39 0l1 0l20 0l0-1l1 1l0-1l15 0l1 0l14 0l1-1l33-1l19-1l8 0l0-1l8 0l7 0l1-1l0 1l1-1l13 0l1-1l6 0l14-1l6 0l0-1l6 0l1 0l5 0l0-1l5 0l1 0l22-2l5 0l0-1l5 0l5 0l0-1l5 0l6-1l-21-13l-23-18l-29-25l-24-24l-29-32l-23-29l-25-34l-26-39l-2 8l-18 51l-1 2l-1 4l-1 1l-1 4l-1 2l-1 4l-8 20l0 2l-13 31l-10 23l-2 5l0 1l-14 29l-1 1l-5 10l-10 17l-8 13zM381 468l1 0l6 0l0-1l5 0l1 0l17-1l1-1l13 0l0-1l6 0l1 0l1 0l6 0l1-1l6 0l16-1l26-1l0-1l2 1l0-1l19 0l1-1l1 1l0-1l10 0l1 0l1 0l47-1l1-1l1 1l1-1l28 0l1 0l2 0l1 0l1 0l1 0l1 0l24 0l-14-44l-18-63l-20-74l-24-102l-16-71l-1 1l-25 60l-28 63l-20 42l-31 60l-29 54l-20 35l-31 50l-2 3z"/>
<path fill="#06b6ce" d="M344 753l69-1l20 0l0-1l15 0l1 0l12 0l1-1l31-1l1 0l26-1l1-1l15 0l1-1l7 0l39-3l5 0l1-1l5 0l1 0l5 0l0-1l6 0l5-1l5 0l1 0l14-1l1-1l4 0l-21-14l-28-22l-20-18l-31-31l-27-31l-24-31l-26-36l-19-29l-2 8l-18 51l-1 2l-1 4l-1 1l-1 4l-1 2l-1 4l-8 20l0 2l-13 31l-10 23l-2 5l0 1l-14 29l-1 1l-11 20zM367 464l5 0l0-1l5 0l1 0l5 0l0-1l6 0l6 0l0-1l6 0l5 0l1-1l12 0l1-1l28-1l1-1l6 0l1 0l7 0l1-1l17 0l0-1l20 0l0-1l2 1l0-1l9 0l1 0l1 0l11 0l0-1l1 1l1-1l11 0l1 0l1 0l1 0l38-1l35 0l0-1l1 1l1-1l0 1l1-1l1 1l1-1l0 1l2-1l2 1l1-1l1 1l0-1l2 1l1-1l2 1l-12-39l-18-63l-20-74l-24-102l-16-71l-1 1l-25 60l-28 63l-20 42l-31 60l-29 54l-20 35l-29 47z"/>
<path fill="#02b7cb" d="M346 750l52 0l1-1l2 1l1-1l37 0l1-1l13 0l1 0l44-2l8 0l1-1l8 0l8 0l1-1l7 0l23-1l0-1l5 0l1 0l19-1l1-1l11 0l1-1l4 0l1 0l5 0l1-1l5 0l24-2l-13-9l-16-12l-20-16l-16-15l-31-31l-27-31l-24-31l-26-36l-19-29l-2 8l-18 51l-1 2l-1 4l-1 1l-1 4l-1 2l-1 4l-8 20l0 2l-13 31l-10 23l-2 5l0 1l-14 29l-1 1l-11 20zM373 458l1 0l5 0l0-1l5 0l1 0l6 0l0-1l5 0l6 0l0-1l25-1l1-1l1 1l0-1l13 0l0-1l16 0l1-1l16 0l0-1l9 0l1 0l8 0l0-1l2 1l0-1l33-1l1 0l1 0l12 0l1-1l19 0l1 0l18 0l1-1l0 1l1-1l2 1l1-1l42 0l-10-33l-18-63l-20-74l-24-102l-16-71l-1 1l-25 60l-28 63l-20 42l-31 60l-29 54l-20 35l-26 41z"/>
<path fill="#01b8c8" d="M348 747l61 0l1-1l19 0l1 0l15 0l0-1l13 0l34-1l0-1l18 0l0-1l8 0l1 0l7 0l0-1l1 1l0-1l7 0l22-1l0-1l19-1l1 0l17-1l1-1l5 0l5 0l1-1l5 0l5 0l1-1l12-1l-25-18l-20-16l-16-15l-31-31l-27-31l-24-31l-26-36l-19-29l-2 8l-18 51l-1 2l-11 31l-12 31l-13 29l-11 24l0 1l-11 21zM392 451l1 0l5 0l0-1l6 0l6 0l0-1l7 0l5 0l1-1l6 0l1 0l7 0l1-1l7 0l15-1l9 0l0-1l9 0l1 0l8 0l1-1l19 0l1-1l10 0l1 0l1 0l11 0l1-1l2 1l0-1l11 0l1 0l2 0l1 0l15 0l0-1l2 1l1-1l21 0l2 0l2 0l1 0l33 0l-8-28l-18-63l-20-74l-24-102l-16-71l-1 1l-25 60l-28 63l-20 42l-31 60l-29 54l-20 35l-22 35z"/>
<path fill="#02bac5" d="M349 744l68 0l1-1l17 0l1 0l13 0l0-1l13 0l33-1l1-1l17 0l1-1l15 0l0-1l1 1l0-1l21-1l1 0l6 0l0-1l6 0l1 0l6 0l1-1l12 0l0-1l17-1l1 0l5 0l0-1l5 0l1 0l12-1l-22-16l-24-20l-12-11l-24-24l-12-13l-22-25l-24-31l-26-36l-19-29l-2 8l-18 51l-1 2l-11 31l-12 31l-13 29l-11 24l0 1l-11 21zM381 447l0-1l1 1l0-1l5 0l1 0l5 0l1-1l5 0l1 0l12-1l34-2l0-1l9 0l35-2l9 0l1-1l1 1l1-1l20 0l1-1l1 1l0-1l46-1l1 0l1 0l1 0l52-1l-7-22l-18-63l-20-74l-24-102l-16-71l-1 1l-25 60l-28 63l-20 42l-31 60l-29 54l-20 35l-18 30z"/>
<path fill="#04bbc2" d="M440 526l-2 8l-18 51l-1 2l-11 31l-12 31l-13 29l-11 24l0 1l-11 21l-10 18l52-1l1 0l19 0l0-1l16 0l1 0l1 0l47-2l1 0l9 0l0-1l17 0l1-1l0 1l1-1l7 0l8 0l0-1l7 0l1 0l6 0l1-1l13 0l1-1l19-1l18-1l0-1l5 0l1 0l5 0l0-1l5 0l1 0l6-1l-18-13l-29-25l-31-30l-16-18l-22-26l-20-25l-26-36zM383 441l1 0l5 0l0-1l6 0l1 0l4 0l1-1l27-1l0-1l5 0l1 0l7 0l1-1l7 0l1 0l15-1l1 0l7 0l1-1l9 0l19-1l1 0l1 0l1 0l9 0l0-1l1 1l1-1l10 0l1 0l1 0l49-1l0-1l1 1l1-1l1 1l1-1l30 0l1 0l1 0l1 0l1 0l1 0l5 0l1 0l1 0l-5-17l-18-63l-20-74l-24-102l-16-71l-1 1l-25 60l-28 63l-20 42l-31 60l-29 54l-20 35l-15 24z"/>
<path fill="#09bcbe" d="M440 526l-2 8l-18 51l-1 2l-11 31l-12 31l-13 29l-11 24l0 1l-19 36l57-1l18 0l1-1l0 1l1-1l15 0l46-2l10 0l0-1l8 0l1 0l7 0l1-1l0 1l1-1l7 0l1 0l14-1l1 0l6 0l1-1l0 1l1-1l26-1l0-1l18-1l5 0l1-1l5 0l13-1l-22-17l-22-19l-31-30l-16-18l-22-26l-20-25l-26-36zM397 435l1-1l5 0l13-1l21-1l1-1l5 0l1 0l25-1l1-1l7 0l1 0l9 0l0-1l10 0l10 0l0-1l38-1l1 0l1 0l16 0l1-1l0 1l1-1l0 1l1-1l18 0l1 0l2 0l1 0l1 0l1 0l32 0l-4-12l-18-63l-20-74l-24-102l-16-71l-1 1l-25 60l-28 63l-20 42l-31 60l-29 54l-20 35l-11 18z"/>
<path fill="#0ebebb" d="M440 526l-2 8l-18 51l-1 2l-11 31l-12 31l-13 29l-11 24l0 1l-18 33l63-1l16 0l1-1l14 0l1 0l35-1l1-1l27-1l1 0l7 0l1-1l23-1l7 0l0-1l6 0l1 0l7 0l0-1l6 0l1 0l11-1l1 0l5 0l1-1l5 0l1 0l5 0l1-1l12-1l-18-14l-22-19l-31-30l-16-18l-22-26l-20-25l-26-36zM392 430l1-1l0 1l1-1l18-1l13-1l14-1l1 0l1 0l6 0l0-1l43-2l9 0l1-1l1 1l1-1l9 0l1 0l1 0l38-1l0-1l2 1l0-1l18 0l2 0l1 0l20 0l0-1l1 1l2-1l2 1l1-1l20 0l-2-6l-18-63l-20-74l-24-102l-16-71l-1 1l-25 60l-28 63l-20 42l-31 60l-29 54l-20 35l-8 13z"/>
<path fill="#15bfb7" d="M440 526l-2 8l-18 51l-1 2l-11 31l-12 31l-13 29l-6 12l0 1l-10 22l-1 1l-10 19l65-1l1 0l16 0l1-1l48-1l0-1l18 0l1-1l17 0l0-1l7 0l1 0l7 0l1-1l28-1l0-1l18-1l1 0l5 0l1-1l19-1l-24-19l-20-18l-24-24l-16-18l-22-26l-20-25l-26-36zM389 425l0-1l1 1l0-1l5 0l1 0l5 0l1-1l5 0l1 0l5 0l1-1l0 1l1-1l12 0l1-1l7 0l1 0l22-1l0-1l7 0l1 0l8 0l0-1l29-1l2 0l23-1l1 0l1 0l12 0l0-1l1 1l1-1l14 0l3 0l16 0l1-1l2 1l0-1l30 0l1 0l1 0l1 0l4 0l1 0l0-1l-18-63l-20-74l-24-102l-16-71l-1 1l-25 60l-28 63l-20 42l-31 60l-29 54l-20 35l-5 7z"/>
<path fill="#1bc0b4" d="M440 526l-2 8l-18 51l-1 2l-11 31l-12 31l-13 29l-6 12l0 1l-10 22l-1 1l-9 16l50 0l0-1l18 0l1 0l15 0l0-1l1 1l1-1l11 0l1 0l24-1l1 0l19-1l1 0l8 0l0-1l8 0l1 0l8 0l0-1l7 0l1 0l7 0l0-1l8 0l14-1l6 0l1-1l12 0l0-1l6 0l6 0l1-1l13-1l-20-16l-20-18l-24-24l-20-22l-18-22l-25-31l-21-30zM385 419l6 0l1 0l5 0l1-1l19-1l6 0l0-1l1 1l0-1l7 0l6 0l0-1l17 0l0-1l34-1l0-1l10 0l10 0l1-1l1 1l0-1l10 0l1 0l1 0l10 0l0-1l3 1l0-1l29 0l1-1l1 1l1-1l19 0l1 0l3 0l1 0l1 0l1 0l24 0l-17-59l-20-74l-24-102l-16-71l-1 1l-25 60l-28 63l-20 42l-31 60l-29 54l-20 35l-1 2z"/>
<path fill="#21c1b0" d="M440 526l-2 8l-18 51l-1 2l-11 31l-12 31l-13 29l-6 12l0 1l-10 22l-8 14l28 0l1 0l1 0l21 0l1-1l2 1l0-1l17 0l40-1l1-1l10 0l10 0l1-1l8 0l10 0l0-1l8 0l17-1l28-2l1 0l6 0l0-1l6 0l1 0l5 0l1-1l21-1l-21-17l-16-15l-24-24l-20-22l-18-22l-25-31l-21-30zM393 414l1-1l0 1l1-1l24-1l1-1l5 0l1 0l1 0l7 0l0-1l8 0l5 0l1-1l9 0l1 0l6 0l1-1l18 0l1-1l8 0l11 0l0-1l9 0l1 0l1 0l1 0l39-1l0-1l2 1l1-1l15 0l1 0l1 0l1 0l2 0l1 0l37-1l-15-53l-20-74l-24-102l-16-71l-1 1l-25 60l-28 63l-20 42l-31 60l-29 54l-18 31z"/>
<path fill="#26c2ad" d="M440 526l-13 39l-1 2l-6 18l-1 2l-1 4l-1 1l-1 4l-1 2l-1 4l-8 20l0 2l-23 54l-11 24l0 1l-11 21l32 0l1 0l1 0l21 0l0-1l1 1l0-1l45-1l10 0l0-1l11 0l1 0l36-2l1 0l7 0l1-1l7 0l7 0l0-1l1 1l0-1l7 0l7 0l0-1l7 0l6 0l1-1l6 0l23-2l-18-14l-16-15l-24-24l-20-22l-18-22l-25-31l-21-30zM422 406l1 0l6 0l1-1l14 0l1-1l6 0l18-1l1 0l27-1l0-1l10 0l1 0l10 0l0-1l1 1l1-1l11 0l1 0l1 0l12 0l1-1l0 1l1-1l36 0l0-1l1 1l1-1l1 1l0-1l1 1l0-1l27 0l-14-48l-20-74l-24-102l-16-71l-1 1l-25 60l-28 63l-20 42l-31 60l-29 54l-15 25z"/>
<path fill="#2ac3a9" d="M440 526l-13 39l-1 2l-6 18l-1 2l-1 4l-1 1l-1 4l-1 2l-1 4l-8 20l0 2l-23 54l-11 24l0 1l-10 18l0 1l5 0l0-1l2 1l0-1l49 0l1-1l2 1l1-1l14 0l1 0l14 0l0-1l34-1l1 0l9 0l0-1l9 0l1 0l8 0l1-1l7 0l1 0l1 0l7 0l1-1l6 0l1 0l7 0l1-1l6 0l7 0l0-1l7 0l1 0l12-1l6 0l0-1l6 0l6 0l-1-2l-13-10l-16-15l-24-24l-29-32l-19-24l-15-19l-21-30zM405 402l1 0l1 0l5 0l0-1l7 0l7 0l0-1l6 0l1 0l1 0l14-1l1 0l6 0l1-1l9 0l46-2l0-1l2 1l0-1l11 0l1 0l1 0l26-1l2 0l16 0l1-1l2 1l0-1l39 0l-12-43l-20-74l-24-102l-16-71l-1 1l-25 60l-28 63l-20 42l-31 60l-29 54l-11 20z"/>
<path fill="#2dc4a6" d="M440 526l-13 39l-1 2l-6 18l-1 2l-1 4l-1 1l-1 4l-1 2l-1 4l-8 20l0 2l-19 45l-10 21l0 1l-5 11l0 1l-8 15l0 1l59-1l0-1l16 0l13 0l0-1l45-1l1-1l8 0l9 0l0-1l8 0l1 0l6 0l1-1l0 1l1-1l6 0l1 0l22-1l0-1l6 0l1 0l6 0l0-1l6 0l1 0l13-1l-11-9l-16-15l-24-24l-29-32l-19-24l-15-19l-21-30zM428 395l1 0l15-1l1 0l5 0l1-1l7 0l11 0l0-1l8 0l40-2l1 0l1 0l41-1l1-1l1 1l1-1l47 0l1-1l-11-37l-20-74l-24-102l-16-71l-1 1l-25 60l-28 63l-20 42l-31 60l-29 54l-8 14z"/>
<path fill="#30c5a2" d="M440 526l-13 39l-1 2l-6 18l-1 2l-1 4l-1 1l-1 4l-1 2l-1 4l-8 20l0 2l-19 45l-10 21l0 1l-5 11l0 1l-7 12l0 1l41-1l1 0l1 0l1 0l16 0l1-1l1 1l0-1l15 0l12 0l0-1l25 0l0-1l20 0l0-1l26-1l7 0l1-1l6 0l1 0l1 0l7 0l0-1l7 0l7 0l0-1l6 0l1 0l6 0l0-1l16-1l-1-1l-7-5l-16-15l-24-24l-29-32l-19-24l-15-19l-21-30zM417 391l1-1l7 0l1 0l6 0l1-1l6 0l1 0l7 0l0-1l7 0l1 0l27-1l0-1l18 0l0-1l2 1l0-1l9 0l1 0l1 0l1 0l9 0l1-1l1 1l0-1l11 0l1 0l2 0l12 0l1-1l2 1l1-1l15 0l1 0l1 0l37-1l-9-32l-20-74l-24-102l-16-71l-1 1l-25 60l-28 63l-20 42l-31 60l-29 54l-5 9z"/>
<path fill="#33c69e" d="M440 526l-13 39l-1 2l-6 18l-1 2l-1 4l-1 1l-1 4l-1 2l-1 4l-8 20l0 2l-19 45l-20 44l19 0l1-1l2 1l0-1l21 0l1 0l1 0l17 0l0-1l15 0l13 0l0-1l11 0l12 0l1-1l19 0l0-1l41-2l1 0l7 0l0-1l39-2l-1-1l-20-18l-24-24l-29-32l-19-24l-15-19l-21-30zM416 386l0-1l5 0l7 0l1-1l0 1l1-1l6 0l1 0l7 0l1-1l5 0l1 0l7 0l1-1l9 0l1 0l7 0l1-1l40-1l1-1l1 1l0-1l11 0l1 0l1 0l11 0l1-1l2 1l0-1l34 0l0-1l1 1l1-1l26 0l-8-27l-20-74l-24-102l-16-71l-1 1l-25 60l-28 63l-20 42l-31 60l-29 54l-2 3z"/>
<path fill="#35c79a" d="M440 526l-13 39l-1 2l-6 18l-1 2l-1 4l-1 1l-1 4l-1 2l-1 4l-8 20l0 2l-19 45l-19 41l45-1l17 0l1-1l13 0l1 0l36-1l1-1l10 0l18-1l8 0l1-1l8 0l30-2l13-1l1 0l6 0l0-1l8 0l-18-16l-24-24l-29-32l-19-24l-15-19l-21-30zM425 380l0-1l7 0l1 0l1 0l5 0l0-1l1 1l0-1l8 0l1 0l7 0l0-1l24-1l1 0l20-1l2 0l9 0l1-1l11 0l1 0l1 0l11 0l0-1l1 1l1-1l12 0l2 0l1 0l14 0l1-1l0 1l1-1l2 1l0-1l34 0l-6-22l-20-74l-24-102l-16-71l-1 1l-25 60l-28 63l-20 42l-31 60l-28 52z"/>
<path fill="#38c895" d="M440 526l-13 39l-1 2l-6 18l-1 2l-1 4l-1 1l-1 4l-1 2l-1 4l-8 20l0 2l-19 45l-17 38l23 0l0-1l3 1l0-1l20 0l17 0l1-1l12 0l2 0l11 0l1-1l12 0l47-2l1-1l7 0l1 0l7 0l1-1l14 0l1-1l6 0l1 0l6 0l0-1l1 1l0-1l17-1l-15-13l-24-24l-16-18l-18-20l-18-23l-16-22l-21-29zM429 374l7 0l1-1l7 0l1 0l5 0l1-1l7 0l1 0l10 0l0-1l8 0l40-2l1 0l1 0l1 0l10 0l0-1l3 1l0-1l12 0l15 0l1-1l2 0l1 1l0-1l17 0l1 0l1 0l1 0l21 0l-5-17l-20-74l-24-102l-16-71l-1 1l-25 60l-28 63l-20 42l-31 60l-25 46z"/>
<path fill="#3cc991" d="M440 526l-13 39l-1 2l-6 18l-1 2l-1 4l-1 1l-1 4l-1 2l-1 4l-8 20l0 2l-19 45l-16 35l25 0l0-1l3 1l0-1l18 0l1 0l44-1l0-1l9 0l1 0l31-1l0-1l8 0l1 0l1 0l7 0l1-1l6 0l1 0l1 0l7 0l0-1l7 0l1 0l7 0l0-1l27-1l0-1l-11-10l-24-24l-16-18l-18-20l-18-23l-16-22l-21-29zM426 369l1 0l5 0l0-1l1 1l1-1l7 0l6 0l1-1l9 0l6 0l1-1l48-2l2 0l11 0l1-1l1 1l0-1l11 0l1 0l2 0l12 0l0-1l2 1l1-1l15 0l3 0l29-1l-3-11l-20-74l-24-102l-16-71l-1 1l-25 60l-28 63l-20 42l-31 60l-22 41z"/>
<path fill="#41ca8c" d="M440 526l-13 39l-1 2l-6 18l-1 2l-1 4l-1 1l-1 4l-1 2l-1 4l-8 20l0 2l-19 45l-10 21l0 1l-5 10l26 0l1-1l1 1l1-1l17 0l44-1l0-1l10 0l1 0l10 0l1-1l10 0l27-1l0-1l23-1l1 0l7 0l0-1l7 0l7 0l0-1l9 0l-32-32l-16-18l-18-20l-18-23l-16-22l-21-29zM437 363l7 0l0-1l9 0l1 0l7 0l0-1l9 0l1 0l7 0l0-1l9 0l20-1l1 0l1 0l1 0l37-1l0-1l1 1l1-1l13 0l1 0l2 0l1 0l16 0l0-1l1 1l2-1l17 0l-2-6l-20-74l-24-102l-16-71l-1 1l-25 60l-28 63l-20 42l-31 60l-19 35z"/>
<path fill="#46cb88" d="M440 526l-13 39l-1 2l-3 10l-1 1l-2 7l-1 2l-11 31l-15 37l-19 43l1 0l1 0l1 0l23 0l1-1l0 1l1-1l18 0l43-1l0-1l10 0l1 0l39-2l8 0l0-1l8 0l8 0l1-1l34-2l-36-36l-31-37l-20-25l-14-19l-17-24zM420 359l1 0l7 0l0-1l5 0l1 0l1 0l7 0l0-1l6 0l1 0l27-1l0-1l6 0l1 0l2 0l1 0l7 0l1-1l10 0l1 0l10 0l1-1l26 0l0-1l13 0l1 0l1 0l17 0l1-1l1 1l1-1l20 0l1 0l1 0l1 0l0-1l-20-74l-24-102l-16-71l-1 1l-25 60l-28 63l-20 42l-31 60l-16 30z"/>
<path fill="#4ccb83" d="M440 526l-13 39l-1 2l-3 10l-1 1l-2 7l-1 2l-11 31l-15 37l-18 40l2 0l1 0l23 0l0-1l1 1l1-1l17 0l1 0l16 0l1-1l37-1l10 0l1-1l9 0l35-2l7 0l1-1l0 1l1-1l6 0l1 0l7 0l0-1l6 0l1 0l9-1l-33-33l-31-37l-20-25l-14-19l-17-24zM431 353l7 0l0-1l1 1l0-1l14 0l1-1l9 0l7 0l1-1l27-1l1 0l1 0l1 0l33-1l1-1l1 1l0-1l12 0l1 0l1 0l1 0l15 0l0-1l1 1l0-1l32 0l-19-70l-24-102l-16-71l-1 1l-25 60l-28 63l-20 42l-31 60l-13 25z"/>
<path fill="#52cc7e" d="M440 526l-13 39l-1 2l-3 10l-1 1l-2 7l-1 2l-11 31l-15 37l-16 37l1 0l1 0l1 0l23 0l1-1l19 0l41-1l0-1l32-1l9 0l0-1l8 0l1 0l8 0l0-1l8 0l1 0l36-2l-31-31l-31-37l-20-25l-14-19l-17-24zM434 348l1-1l0 1l1-1l6 0l1 0l16-1l1 0l26-1l0-1l30-1l2 0l11 0l0-1l3 1l0-1l10 0l1 0l1 0l1 0l14 0l1-1l38 0l-18-65l-24-102l-16-71l-1 1l-25 60l-28 63l-20 42l-31 60l-10 19z"/>
<path fill="#59cc79" d="M440 526l-13 39l-1 2l-3 10l-1 1l-2 7l-1 2l-11 31l-15 37l-10 23l-5 10l0 1l1 0l2 0l58-1l0-1l47-1l0-1l10 0l9 0l0-1l8 0l1 0l1 0l7 0l1-1l7 0l1 0l7 0l0-1l8 0l18-1l-28-28l-31-37l-20-25l-14-19l-17-24zM456 341l1 0l7 0l1-1l8 0l18-1l1 0l20-1l1 0l1 0l10 0l1-1l2 1l1-1l9 0l1 0l1 0l13 0l1-1l2 1l1-1l34 0l0-1l4 1l2-1l-16-59l-24-102l-16-71l-1 1l-25 60l-28 63l-20 42l-31 60l-7 14z"/>
<path fill="#5fcd73" d="M440 526l-13 39l-1 2l-3 10l-1 1l-8 24l-18 47l-13 29l-2 5l-1 3l1 0l1 0l22 0l1-1l18 0l13 0l1-1l2 1l0-1l37-1l29-1l0-1l9 0l16-1l1 0l7 0l0-1l1 1l0-1l6 0l1 0l1 0l6 0l0-1l8 0l-34-36l-32-38l-29-39zM436 337l1 0l1 0l1 0l23-1l1-1l7 0l1 0l8 0l0-1l9 0l10 0l0-1l2 1l0-1l8 0l2 0l10 0l1-1l1 1l0-1l11 0l1 0l1 0l12 0l1-1l1 1l1-1l14 0l1 0l30-1l-15-54l-24-102l-16-71l-1 1l-25 60l-28 63l-20 42l-31 60l-4 8z"/>
<path fill="#65cd6e" d="M440 526l-13 39l-1 2l-3 10l-1 1l-2 7l-1 2l-11 31l-15 37l-12 28l1 0l22 0l1-1l0 1l1-1l16 0l16 0l1-1l35-1l1 0l38-2l1 0l7 0l1-1l1 1l0-1l35-2l-31-33l-32-38l-29-39zM434 332l9 0l0-1l7 0l1 0l15-1l11 0l0-1l7 0l2 0l1 0l18-1l1 0l1 0l1 0l8 0l1-1l1 1l0-1l10 0l3 0l11 0l0-1l1 1l1-1l12 0l1 0l2 0l1 0l15 0l1-1l0 1l1-1l16 0l-13-49l-24-102l-16-71l-1 1l-25 60l-28 63l-20 42l-31 60l-2 3z"/>
<path fill="#6ccd68" d="M440 526l-13 39l-1 2l-3 10l-1 1l-8 24l-18 47l-14 31l1 0l21 0l1-1l17 0l1 0l14 0l1-1l37-1l1 0l38-2l16-1l1 0l7 0l0-1l7 0l1 0l9-1l-12-12l-16-18l-32-38l-29-39zM457 326l0-1l6 0l27-1l1-1l2 1l0-1l9 0l10 0l0-1l1 1l1-1l10 0l1 0l1 0l11 0l0-1l1 1l1-1l12 0l1 0l17 0l1-1l1 1l1-1l16 0l1 0l3 0l-12-44l-24-102l-16-71l-1 1l-25 60l-28 63l-20 42l-30 58z"/>
<path fill="#73cd63" d="M440 526l-13 39l-1 2l-3 10l-1 1l-8 24l-18 47l-12 28l18 0l1-1l2 1l0-1l16 0l1 0l1 0l41-1l0-1l21 0l1-1l9 0l9 0l1-1l47-2l-29-32l-28-34l-29-39zM452 321l0-1l9 0l1 0l7 0l0-1l29-1l2 0l1 0l7 0l1-1l1 1l1-1l22 0l1-1l1 1l0-1l10 0l1 0l2 0l13 0l0-1l1 1l1-1l1 1l1-1l26 0l-11-39l-24-102l-16-71l-1 1l-25 60l-28 63l-20 42l-27 52z"/>
<path fill="#7acc5d" d="M440 526l-13 39l-1 2l-3 10l-1 1l-8 24l-18 47l-11 25l17 0l0-1l1 1l1-1l17 0l1 0l14 0l0-1l1 1l0-1l38-1l29-1l0-1l18 0l0-1l27-1l-26-29l-28-34l-29-39zM452 316l0-1l7 0l1 0l36-2l10 0l1-1l9 0l2 0l11 0l0-1l1 1l1-1l11 0l1 0l2 0l1 0l10 0l0-1l1 1l1-1l1 1l1-1l29 0l-9-34l-24-102l-16-71l-1 1l-25 60l-28 63l-20 42l-24 47z"/>
<path fill="#82cc58" d="M440 526l-13 39l-1 2l-3 10l-1 1l-8 24l-18 47l-10 22l34-1l1 0l40-1l1-1l41-1l1-1l7 0l1 0l1 0l8 0l0-1l7 0l1 0l1 0l7 0l1-1l9 0l-24-26l-28-34l-29-39zM464 310l1-1l8 0l9 0l1-1l19 0l1-1l34-1l1 0l2 0l1 0l27-1l1 0l1 0l1 0l17 0l-8-29l-24-102l-16-71l-1 1l-25 60l-28 63l-20 42l-21 42z"/>
<path fill="#89cb52" d="M440 526l-13 39l-1 2l-3 10l-1 1l-8 24l-18 47l-8 19l61-2l1 0l23-1l10 0l1-1l9 0l9 0l0-1l10 0l17-1l7 0l1-1l6 0l1 0l-30-33l-23-29l-25-34zM472 304l7 0l0-1l31-1l1 0l1 0l10 0l1-1l1 1l0-1l9 0l3 0l14 0l0-1l13 0l1 0l2 0l1 0l15 0l0-1l1 1l0-1l1 1l2-1l0 1l1-1l-7-23l-24-102l-16-71l-1 1l-25 60l-28 63l-20 42l-19 36z"/>
<path fill="#90ca4d" d="M440 526l-13 39l-1 2l-3 10l-1 1l-8 24l-25 63l45-1l0-1l12 0l1 0l2 0l12 0l0-1l31-1l10 0l0-1l8 0l1 0l8 0l0-1l1 1l1-1l20-1l-27-30l-23-29l-25-34zM469 299l1 0l8 0l0-1l9 0l31-1l1-1l1 1l0-1l11 0l1 0l1 0l11 0l0-1l1 1l1-1l39-1l-5-18l-24-102l-16-71l-1 1l-25 60l-28 63l-20 42l-16 31z"/>
<path fill="#97ca47" d="M440 526l-13 39l-1 2l-3 10l-1 1l-8 24l-8 20l0 2l-16 38l80-3l31-1l1-1l8 0l8 0l1-1l8 0l1 0l11-1l-25-27l-23-29l-25-34zM476 294l0-1l9 0l1 0l7 0l0-1l2 1l1-1l8 0l1 0l1 0l1 0l9 0l0-1l1 1l1-1l9 0l1 0l1 0l11 0l1-1l1 1l1-1l12 0l2 0l27-1l-4-13l-24-102l-16-71l-1 1l-25 60l-28 63l-20 42l-13 26z"/>
<path fill="#9ec942" d="M440 526l-2 8l-18 51l-1 2l-1 4l-1 1l-1 4l-1 2l-1 4l-8 20l0 2l-14 35l3 0l0-1l1 1l1-1l48-1l1 0l11 0l0-1l13 0l30-1l1-1l8 0l1 0l8 0l0-1l8 0l10-1l-27-30l-24-31l-26-36zM465 289l1 0l7 0l1-1l9 0l1 0l29-1l0-1l1 1l1-1l10 0l1 0l1 0l10 0l0-1l1 1l1-1l13 0l1 0l1 0l29-1l-3-8l-24-102l-16-71l-1 1l-25 60l-28 63l-20 42l-11 20z"/>
<path fill="#a5c83d" d="M440 526l-2 8l-18 51l-1 2l-1 4l-1 1l-1 4l-1 2l-1 4l-8 20l0 2l-13 32l2-1l48-1l1 0l11 0l0-1l11 0l1 0l12 0l1-1l19 0l1-1l33-1l0-1l-6-7l-18-20l-24-31l-26-36zM489 283l1-1l9 0l2 0l1 0l7 0l1-1l1 1l1-1l10 0l1 0l1 0l10 0l1-1l1 1l0-1l27 0l1-1l1 1l0-1l1 1l1-1l13 0l1 0l-1-3l-24-102l-16-71l-1 1l-25 60l-28 63l-20 42l-8 15z"/>
<path fill="#acc739" d="M440 526l-2 8l-18 51l-1 2l-1 4l-1 1l-1 4l-1 2l-1 4l-8 20l0 2l-12 28l16 0l2 0l43-1l1-1l11 0l1 0l8 0l1-1l11 0l1 0l8 0l1-1l33-1l-22-25l-24-31l-26-36zM462 279l7 0l1-1l8 0l9 0l0-1l20 0l1-1l1 1l1-1l9 0l1 0l1 0l10 0l1-1l1 1l0-1l43-1l1 0l2 0l1 0l-24-100l-16-71l-1 1l-25 60l-28 63l-20 42l-6 10z"/>
<path fill="#b2c535" d="M440 526l-2 8l-18 51l-1 2l-11 31l-12 31l28 0l1-1l1 1l1-1l11 0l1 0l1 0l1 0l13 0l0-1l11 0l1 0l10 0l0-1l9 0l1 0l9 0l0-1l10 0l23-1l-19-22l-24-31l-26-36zM477 273l10 0l0-1l7 0l1 0l2 0l8 0l1-1l1 1l1-1l9 0l1 0l1 0l9 0l1-1l1 1l0-1l12 0l2 0l1 0l29-1l1 0l1 0l3 0l-23-95l-16-71l-1 1l-25 60l-28 63l-20 42l-3 5z"/>
<path fill="#b9c431" d="M440 526l-2 8l-18 51l-1 2l-1 4l-1 1l-1 4l-1 2l-1 4l-8 20l0 2l-9 22l67-2l10 0l1-1l9 0l1 0l9 0l1-1l9 0l8 0l0-1l1 1l1-1l11 0l-20-25l-25-31l-21-30zM466 268l28-1l9 0l0-1l2 1l0-1l21 0l1-1l1 1l0-1l10 0l1 0l1 0l2 0l35-1l-21-90l-16-71l-1 1l-25 60l-28 63l-20 42z"/>
<path fill="#bfc32d" d="M440 526l-2 8l-18 51l-1 2l-1 4l-1 1l-1 4l-1 2l-1 4l-8 20l0 2l-7 17l-1 2l3 0l1 0l1 0l1 0l31-1l1 0l11 0l1-1l1 1l1-1l33-1l20-1l8 0l1-1l11 0l-18-22l-25-31l-21-30zM491 262l2 0l1 0l8 0l1-1l9 0l1 0l1 0l22-1l1 0l1 0l11 0l0-1l2 1l1-1l24 0l-20-85l-16-71l-1 1l-25 60l-28 63l-18 36z"/>
<path fill="#c5c22a" d="M440 526l-2 8l-18 51l-1 2l-1 4l-1 1l-1 4l-1 2l-1 4l-8 20l0 2l-7 16l1 0l1 0l16 0l1-1l42-1l31-1l1-1l9 0l1 0l8 0l0-1l9 0l1 0l-15-19l-25-31l-21-30zM471 258l10 0l0-1l18 0l0-1l2 1l1-1l7 0l1 0l1 0l1 0l10 0l0-1l2 1l0-1l9 0l3 0l10 0l1-1l2 1l0-1l26 0l-19-80l-16-71l-1 1l-25 60l-28 63l-15 31z"/>
<path fill="#cbc029" d="M440 526l-2 8l-15 43l-1 1l-8 24l-13 35l29-1l1 0l1 0l11 0l0-1l2 1l0-1l12 0l11 0l0-1l12 0l9 0l0-1l28-1l1 0l-23-28l-20-27l-21-29zM498 252l0-1l10 0l1 0l1 0l1 0l8 0l1-1l1 1l0-1l11 0l1 0l1 0l11 0l1-1l1 1l0-1l27 0l-18-75l-16-71l-1 1l-25 60l-28 63l-13 26z"/>
<path fill="#d1bf27" d="M440 526l-2 8l-18 51l-18 49l53-2l12 0l0-1l9 0l12 0l1-1l26-1l-1-2l-19-23l-20-27l-21-29zM477 247l9 0l21-1l23-1l1 0l1 0l10 0l1-1l2 1l0-1l11 0l1 0l2 0l14 0l-17-70l-16-71l-1 1l-25 60l-28 63l-10 21z"/>
<path fill="#d6be28" d="M440 526l-2 8l-15 43l-1 1l-2 7l-1 2l-1 4l-1 1l-1 4l-1 2l-1 4l-8 20l0 2l-2 4l-1 3l34-1l1-1l13 0l13 0l0-1l10 0l1 0l38-2l-1-2l-21-25l-16-22l-21-29zM486 242l1 0l7 0l1-1l1 1l1-1l8 0l1 0l1 0l1 0l9 0l0-1l11 0l1 0l1 0l24-1l16 0l1-1l0 1l-15-65l-16-71l-1 1l-25 60l-28 63l-8 15z"/>
<path fill="#dcbd29" d="M440 526l-2 8l-15 43l-1 1l-8 24l-10 25l1 1l0-1l14 0l1 0l1 0l14 0l0-1l2 1l0-1l12 0l1 0l10 0l1-1l10 0l1 0l10 0l1-1l27-1l-1-2l-18-22l-20-27l-17-24zM503 236l1 0l1 0l1 0l9 0l0-1l2 1l0-1l10 0l12 0l0-1l1 1l1-1l11 0l1 0l2 0l14 0l1-1l-14-59l-16-71l-1 1l-25 60l-28 63l-5 10z"/>
<path fill="#e1bc2b" d="M440 526l-13 39l-1 2l-6 18l-1 2l-1 4l-1 1l-1 4l-1 2l-1 4l-8 20l0 2l53-1l1-1l48-2l-1-1l-16-20l-20-27l-17-24zM484 232l8 0l0-1l2 1l1-1l18 0l0-1l2 1l0-1l8 0l1 0l2 0l1 0l10 0l1-1l1 1l0-1l11 0l1 0l2 0l15 0l1-1l-13-54l-16-71l-1 1l-25 60l-28 63l-3 5z"/>
<path fill="#e6bb2d" d="M440 526l-13 39l-1 2l-6 18l-1 2l-1 4l-1 1l-1 4l-1 2l-1 4l-7 19l34-1l1 0l2 0l12 0l0-1l11 0l1 0l37-2l0-1l-14-17l-20-27l-17-24zM568 223l-12-49l-16-71l-1 1l-25 60l-28 63z"/>
<path fill="#eaba31" d="M440 526l-13 39l-1 2l-6 18l-1 2l-5 15l-6 16l2 0l1 0l1 0l41-1l1-1l11 0l1 0l37-2l-12-15l-20-27l-17-24zM500 221l2 0l1 0l7 0l1-1l1 1l1-1l10 0l11 0l0-1l1 1l1-1l12 0l1 0l1 0l12 0l1-1l3 1l0-1l-10-44l-16-71l-1 1l-25 60l-26 58z"/>
<path fill="#efba35" d="M440 526l-13 39l-1 2l-6 18l-1 2l-1 4l-1 1l-8 23l12 0l1-1l0 1l1-1l12 0l1 0l1 0l25-1l1 0l10 0l1-1l27-1l-30-39l-17-24zM565 213l-9-39l-16-71l-1 1l-25 60l-24 52z"/>
<path fill="#f3ba39" d="M440 526l-13 39l-1 2l-6 18l-1 2l-1 4l-1 1l-1 4l-6 16l21-1l1 0l2 0l12 0l1-1l12 0l11 0l1-1l27-1l-32-43zM564 208l-8-34l-16-71l-1 1l-25 60l-21 47z"/>
<path fill="#f7ba3c" d="M440 526l-13 39l-1 2l-3 10l-1 1l-8 24l-2 5l0 2l1-1l30 0l0-1l12 0l13 0l0-1l9 0l19-1l-30-40zM497 206l10 0l1-1l0 1l2-1l8 0l1 0l1 0l1 0l9 0l0-1l1 1l1-1l1 1l1-1l9 0l1 0l2 0l13 0l0-1l1 1l3-1l-7-29l-16-71l-1 1l-25 60l-19 42z"/>
<path fill="#fabc3d" d="M440 526l-13 39l-1 2l-3 10l-1 1l-2 7l-1 2l-6 18l11 0l1 0l1 0l12 0l1-1l0 1l1-1l11 0l1 0l42-2l-28-37zM508 201l0-1l54-2l-6-24l-16-71l-1 1l-25 60l-17 37z"/>
<path fill="#fdbd3d" d="M440 526l-13 39l-1 2l-3 10l-1 1l-2 7l-6 17l77-3l-25-34zM517 195l1 0l1 0l1 0l9 0l1-1l0 1l1-1l12 0l1 0l11 0l1-1l0 1l1-1l2 1l1-1l-4-19l-16-71l-1 1l-25 60l-14 32z"/>
<path fill="#fec03b" d="M440 526l-13 39l-1 2l-6 18l-5 13l0 1l1 0l16 0l0-1l13 0l13 0l0-1l10 0l21-1l-1-1l-22-30zM559 188l-3-14l-16-71l-1 1l-25 60l-12 27z"/>
<path fill="#fec339" d="M440 526l-13 39l-1 2l-3 10l-1 1l-6 18l70-3l1 0l-21-28zM506 185l9 0l1 0l1 0l1 0l10 0l0-1l1 1l1-1l12 0l1 0l10 0l1-1l2 1l2-1l-2-9l-16-71l-1 1l-25 60l-10 22z"/>
<path fill="#fec636" d="M440 526l-13 39l-1 2l-3 10l-1 1l-5 15l44-2l11 0l0-1l10 0l2 0l-18-25zM541 179l1 0l1 0l11 0l1-1l1 1l1-1l-1-4l-16-71l-1 1l-25 60l-7 16z"/>
<path fill="#fec934" d="M440 526l-2 8l-19 55l39-1l1 0l9 0l1-1l13 0l-23-32zM539 174l1 0l1 0l1 0l1 0l12 0l1-1l-16-70l-1 1l-25 60l-5 11z"/>
<path fill="#fdcc32" d="M440 526l-2 8l-18 52l46-1l0-1l14 0l-21-29zM526 170l1-1l0 1l1-1l2 1l0-1l11 0l1 0l10 0l1-1l2 1l-15-66l-1 1l-25 60l-3 6z"/>
<path fill="#fccf31" d="M440 526l-2 8l-17 49l1 0l14 0l1-1l12 0l1 0l27-1l-23-33zM516 165l1 0l10 0l1-1l1 1l0-1l11 0l1 0l1 0l11 0l0-1l-13-60l-1 1l-25 60l-1 1z"/>
<path fill="#fbd22f" d="M440 526l-13 39l-1 2l-3 10l-1 3l53-2l-21-30zM516 160l10 0l1-1l1 1l0-1l11 0l1 0l1 0l11 0l-12-56l-1 1l-23 56z"/>
<path fill="#fad52d" d="M440 526l-2 8l-15 43l50-2l-1-2l-18-25zM551 154l-11-51l-1 1l-21 51z"/>
<path fill="#f9d82c" d="M440 526l-2 8l-14 39l47-1l-17-24zM550 149l-10-46l-1 1l-19 46z"/>
<path fill="#f7db2a" d="M440 526l-2 8l-13 36l32-1l10 0l1-1zM549 144l-9-41l-1 1l-17 41z"/>
<path fill="#f6de29" d="M440 526l-2 8l-11 31l-1 2l12 0l0-1l2 1l0-1l11 0l1 0l14-1zM548 139l-8-36l-1 1l-15 36z"/>
<path fill="#f5e228" d="M440 526l-12 38l36-2zM528 134l1 1l1-1l17 0l-7-31l-1 1l-12 31z"/>
<path fill="#f5e526" d="M440 526l-2 8l-9 26l11 0l2 0l1 0l19-1l-1-1l-7-10zM530 129l1 1l0-1l15 0l-6-26l-1 1l-10 26z"/>
<path fill="#f5e825" d="M440 526l-10 31l30-1zM543 124l2 0l-5-21l-1 1l-8 20z"/>
<path fill="#f5eb23" d="M440 526l-2 8l-7 20l13 0l1-1l13 0zM543 119l-3-16l-1 1l-6 15z"/>
<path fill="#f5ee21" d="M440 526l-2 8l-6 17l23-1zM542 114l-2-11l-1 1l-4 10z"/>
<path fill="#f6f11f" d="M440 526l-2 8l-5 12l0 2l1-1l19 0zM541 109l-1-6l-1 1l-2 5z"/>
<path fill="#f7f41c" d="M440 526l-6 18l17 0z"/>
<path fill="#f8f719" d="M440 526l-5 15l11 0l1-1l2 1l0-1z"/>
<path fill="#f9f916" d="M440 526l-4 12l11-1z"/>
</g>
<path d="M439.8 1049.4L865.7 865M439.8 1049.4L114.2 810.1M114.2 810.1L114.2 286.8M439.8 1049.4L450 1056.9M439.8 1049.4L428.2 1054.4M546.3 1003.3L556.4 1010.8M358.4 989.6L346.8 994.6M652.8 957.2L662.9 964.7M277 929.8L265.4 934.8M759.2 911.1L769.4 918.6M195.6 869.9L184 874.9M865.7 865L875.9 872.5M114.2 810.1L102.6 815.1M114.2 810.1L103.2 802M114.2 705.4L103.2 697.4M114.2 600.8L103.2 592.7M114.2 496.1L103.2 488.1M114.2 391.5L103.2 383.4M114.2 286.8L103.2 278.7" stroke="#454545" stroke-width="1.3" fill="none"/>
<text x="460.1" y="1094.4" font-size="30.8" text-anchor="start" font-weight="normal" fill="#2a2a2a" >−100</text>
<text x="416.6" y="1089.9" font-size="30.8" text-anchor="end" font-weight="normal" fill="#2a2a2a" >−100</text>
<text x="566.6" y="1048.3" font-size="30.8" text-anchor="start" font-weight="normal" fill="#2a2a2a" >−50</text>
<text x="335.2" y="1030.1" font-size="30.8" text-anchor="end" font-weight="normal" fill="#2a2a2a" >−50</text>
<text x="673" y="1002.2" font-size="30.8" text-anchor="start" font-weight="normal" fill="#2a2a2a" >0</text>
<text x="253.8" y="970.3" font-size="30.8" text-anchor="end" font-weight="normal" fill="#2a2a2a" >0</text>
<text x="779.5" y="956.1" font-size="30.8" text-anchor="start" font-weight="normal" fill="#2a2a2a" >50</text>
<text x="172.4" y="910.4" font-size="30.8" text-anchor="end" font-weight="normal" fill="#2a2a2a" >50</text>
<text x="886" y="910" font-size="30.8" text-anchor="start" font-weight="normal" fill="#2a2a2a" >100</text>
<text x="91" y="850.6" font-size="30.8" text-anchor="end" font-weight="normal" fill="#2a2a2a" >100</text>
<text x="94" y="809.8" font-size="30.8" text-anchor="end" font-weight="normal" fill="#2a2a2a" >0</text>
<text x="94" y="705.1" font-size="30.8" text-anchor="end" font-weight="normal" fill="#2a2a2a" >1</text>
<text x="94" y="600.5" font-size="30.8" text-anchor="end" font-weight="normal" fill="#2a2a2a" >2</text>
<text x="94" y="495.8" font-size="30.8" text-anchor="end" font-weight="normal" fill="#2a2a2a" >3</text>
<text x="94" y="391.2" font-size="30.8" text-anchor="end" font-weight="normal" fill="#2a2a2a" >4</text>
<text x="94" y="286.5" font-size="30.8" text-anchor="end" font-weight="normal" fill="#2a2a2a" >5</text>
<text fill="#2a2a2a"><tspan x="36.5" y="257" font-size="34.5" fill="#666">×</tspan><tspan x="61" y="253.5" font-size="30.8">10</tspan><tspan x="94.5" y="238.3" font-size="24">4</tspan></text>
<text x="490.6" y="89.6" font-size="35.2" text-anchor="middle" font-weight="bold" fill="#000" >Benchmark Function</text>
<text transform="translate(60.9,549.1) rotate(-90)" font-size="32.4" text-anchor="middle" font-weight="bold" fill="#2a2a2a">Objective Function Value</text>
<text font-weight="bold" fill="#2a2a2a"><tspan x="209" y="995.8" font-size="32.3">x</tspan><tspan x="227" y="1011.7" font-size="25.2">2</tspan></text>
<text font-weight="bold" fill="#2a2a2a"><tspan x="686.5" y="1030.2" font-size="32.3">x</tspan><tspan x="704" y="1046" font-size="25.2">1</tspan></text>
</g>
<g id="plotd">
<path d="M569.8 2180.3L248.4 1945.4M385 2166.8L803.1 1986.1M674.4 2135.2L353 1900.2M304.6 2108.1L722.7 1927.3M778.9 2090L457.5 1855.1M224.3 2049.3L642.4 1868.6M883.4 2044.8L562 1809.9M143.9 1990.6L562 1809.9M248.4 1945.4L248.4 1429.9M353 1900.2L353 1384.8M457.5 1855.1L457.5 1339.6M562 1809.9L562 1294.4M883.4 2044.8L883.4 1529.3M803.1 1986.1L803.1 1470.6M722.7 1927.3L722.7 1411.8M642.4 1868.6L642.4 1353.1M143.9 1887.5L562 1706.8M562 1706.8L883.4 1941.7M143.9 1784.4L562 1603.7M562 1603.7L883.4 1838.6M143.9 1681.3L562 1500.6M562 1500.6L883.4 1735.5M143.9 1578.2L562 1397.5M562 1397.5L883.4 1632.4M143.9 1475.1L562 1294.4M562 1294.4L883.4 1529.3" stroke="#e3e3e3" stroke-width="1.3" fill="none"/>
<path d="M504 2035Q508.8 2038.5 515.1 2035.8L544.4 2023.1Q550.6 2020.4 545.8 2016.9L523.3 2000.4Q518.5 1996.9 512.2 1999.6L482.9 2012.3Q476.7 2015 481.5 2018.5Z" stroke="#4743e7" stroke-width="1.3" stroke-opacity="0.8" fill="none"/>
<path d="M499.2 2055.7Q504 2059.3 510.3 2056.5L581.3 2025.8Q587.6 2023.1 582.8 2019.6L528.1 1979.7Q523.3 1976.1 517 1978.9L446 2009.6Q439.7 2012.3 444.5 2015.8Z" stroke="#4367fd" stroke-width="1.3" stroke-opacity="0.8" fill="none"/>
<path d="M494.3 2076.5Q499.1 2080 505.4 2077.3L618.3 2028.5Q624.6 2025.8 619.8 2022.3L533 1958.9Q528.2 1955.4 521.9 1958.1L409 2006.9Q402.7 2009.6 407.5 2013.1Z" stroke="#2d8cf3" stroke-width="1.3" stroke-opacity="0.8" fill="none"/>
<path d="M489.5 2097.3Q494.3 2100.8 500.6 2098.1L655.3 2031.3Q661.6 2028.5 656.7 2025L537.8 1938.1Q533 1934.6 526.7 1937.3L372 2004.1Q365.8 2006.9 370.6 2010.4Z" stroke="#1caadf" stroke-width="1.3" stroke-opacity="0.8" fill="none"/>
<path d="M484.7 2118.1Q489.5 2121.6 495.7 2118.9L692.3 2034Q698.5 2031.2 693.7 2027.7L542.6 1917.3Q537.8 1913.8 531.6 1916.5L335 2001.4Q328.8 2004.1 333.6 2007.7Z" stroke="#12beb9" stroke-width="1.3" stroke-opacity="0.8" fill="none"/>
<path d="M479.8 2138.9Q484.6 2142.4 490.9 2139.7L729.2 2036.7Q735.5 2034 730.7 2030.4L547.5 1896.5Q542.7 1893 536.4 1895.7L298.1 1998.7Q291.8 2001.4 296.6 2005Z" stroke="#48cb86" stroke-width="1.3" stroke-opacity="0.8" fill="none"/>
<path d="M475 2159.6Q479.8 2163.2 486.1 2160.4L766.2 2039.4Q772.5 2036.7 767.7 2033.1L552.3 1875.8Q547.5 1872.2 541.2 1875L261.1 1996Q254.8 1998.7 259.6 2002.3Z" stroke="#9fc942" stroke-width="1.3" stroke-opacity="0.8" fill="none"/>
<path d="M470.1 2180.4Q475 2183.9 481.2 2181.2L803.2 2042.1Q809.5 2039.4 804.6 2035.9L557.2 1855Q552.3 1851.5 546.1 1854.2L224.1 1993.3Q217.9 1996 222.7 1999.5Z" stroke="#eaba31" stroke-width="1.3" stroke-opacity="0.8" fill="none"/>
<path d="M465.3 2201.2Q470.1 2204.7 476.4 2202L840.2 2044.8Q846.4 2042.1 841.6 2038.6L562 1834.2Q557.2 1830.7 550.9 1833.4L187.1 1990.6Q180.9 1993.3 185.7 1996.8Z" stroke="#fad42e" stroke-width="1.3" stroke-opacity="0.8" fill="none"/>
<path d="M465.3 2225.5L883.4 2044.8L562 1809.9L143.9 1990.6Z" stroke="#f9fb15" stroke-width="1.6" stroke-opacity="0.95" fill="none"/>
<defs>
<linearGradient id="gA" gradientUnits="userSpaceOnUse" x1="513.7" y1="2017.7" x2="875.1" y2="1523.2"><stop offset="0.0000" stop-color="#3e26a8"/><stop offset="0.0312" stop-color="#402cb8"/><stop offset="0.0625" stop-color="#4434ce"/><stop offset="0.0938" stop-color="#463de0"/><stop offset="0.1250" stop-color="#4848ec"/><stop offset="0.1562" stop-color="#4854f5"/><stop offset="0.1875" stop-color="#465ffb"/><stop offset="0.2188" stop-color="#426afe"/><stop offset="0.2500" stop-color="#3876fe"/><stop offset="0.2812" stop-color="#2f82fa"/><stop offset="0.3125" stop-color="#2d8df3"/><stop offset="0.3438" stop-color="#2797eb"/><stop offset="0.3750" stop-color="#23a0e5"/><stop offset="0.4062" stop-color="#1da9e0"/><stop offset="0.4375" stop-color="#12b1d6"/><stop offset="0.4688" stop-color="#02b7cb"/><stop offset="0.5000" stop-color="#0abdbd"/><stop offset="0.5312" stop-color="#22c1b0"/><stop offset="0.5625" stop-color="#30c5a1"/><stop offset="0.5938" stop-color="#3dc990"/><stop offset="0.6250" stop-color="#54cc7d"/><stop offset="0.6562" stop-color="#6ecd67"/><stop offset="0.6875" stop-color="#8bcb51"/><stop offset="0.7188" stop-color="#a7c73c"/><stop offset="0.7500" stop-color="#c1c32d"/><stop offset="0.7812" stop-color="#d8be28"/><stop offset="0.8125" stop-color="#ebba32"/><stop offset="0.8438" stop-color="#fbbc3d"/><stop offset="0.8750" stop-color="#fec636"/><stop offset="0.9062" stop-color="#fbd22f"/><stop offset="0.9375" stop-color="#f6df29"/><stop offset="0.9688" stop-color="#f5eb23"/><stop offset="1.0000" stop-color="#f8f719"/></linearGradient>
<linearGradient id="gB" gradientUnits="userSpaceOnUse" x1="513.7" y1="2017.7" x2="257.9" y2="1425.8"><stop offset="0.0000" stop-color="#3e26a8"/><stop offset="0.0312" stop-color="#402cb8"/><stop offset="0.0625" stop-color="#4434ce"/><stop offset="0.0938" stop-color="#463de0"/><stop offset="0.1250" stop-color="#4848ec"/><stop offset="0.1562" stop-color="#4854f5"/><stop offset="0.1875" stop-color="#465ffb"/><stop offset="0.2188" stop-color="#426afe"/><stop offset="0.2500" stop-color="#3876fe"/><stop offset="0.2812" stop-color="#2f82fa"/><stop offset="0.3125" stop-color="#2d8df3"/><stop offset="0.3438" stop-color="#2797eb"/><stop offset="0.3750" stop-color="#23a0e5"/><stop offset="0.4062" stop-color="#1da9e0"/><stop offset="0.4375" stop-color="#12b1d6"/><stop offset="0.4688" stop-color="#02b7cb"/><stop offset="0.5000" stop-color="#0abdbd"/><stop offset="0.5312" stop-color="#22c1b0"/><stop offset="0.5625" stop-color="#30c5a1"/><stop offset="0.5938" stop-color="#3dc990"/><stop offset="0.6250" stop-color="#54cc7d"/><stop offset="0.6562" stop-color="#6ecd67"/><stop offset="0.6875" stop-color="#8bcb51"/><stop offset="0.7188" stop-color="#a7c73c"/><stop offset="0.7500" stop-color="#c1c32d"/><stop offset="0.7812" stop-color="#d8be28"/><stop offset="0.8125" stop-color="#ebba32"/><stop offset="0.8438" stop-color="#fbbc3d"/><stop offset="0.8750" stop-color="#fec636"/><stop offset="0.9062" stop-color="#fbd22f"/><stop offset="0.9375" stop-color="#f6df29"/><stop offset="0.9688" stop-color="#f5eb23"/><stop offset="1.0000" stop-color="#f8f719"/></linearGradient>
<linearGradient id="gC" gradientUnits="userSpaceOnUse" x1="513.7" y1="2017.7" x2="643.4" y2="1840.2"><stop offset="0.0000" stop-color="#3f29b0"/><stop offset="0.0312" stop-color="#4331c6"/><stop offset="0.0625" stop-color="#463ada"/><stop offset="0.0938" stop-color="#4744e8"/><stop offset="0.1250" stop-color="#4850f2"/><stop offset="0.1562" stop-color="#475bf9"/><stop offset="0.1875" stop-color="#4466fd"/><stop offset="0.2188" stop-color="#3c72ff"/><stop offset="0.2500" stop-color="#317efb"/><stop offset="0.2812" stop-color="#2d89f5"/><stop offset="0.3125" stop-color="#2a93ee"/><stop offset="0.3438" stop-color="#259de7"/><stop offset="0.3750" stop-color="#1fa6e2"/><stop offset="0.4062" stop-color="#17aeda"/><stop offset="0.4375" stop-color="#06b5cf"/><stop offset="0.4688" stop-color="#03bbc2"/><stop offset="0.5000" stop-color="#1ac0b5"/><stop offset="0.5312" stop-color="#2cc4a6"/><stop offset="0.5625" stop-color="#38c896"/><stop offset="0.5938" stop-color="#4bcb84"/><stop offset="0.6250" stop-color="#64cd6f"/><stop offset="0.6562" stop-color="#80cc59"/><stop offset="0.6875" stop-color="#9dc943"/><stop offset="0.7188" stop-color="#b7c531"/><stop offset="0.7500" stop-color="#d0c027"/><stop offset="0.7812" stop-color="#e5bb2d"/><stop offset="0.8125" stop-color="#f7ba3c"/><stop offset="0.8438" stop-color="#fec239"/><stop offset="0.8750" stop-color="#fdce31"/><stop offset="0.9062" stop-color="#f8db2b"/><stop offset="0.9375" stop-color="#f5e725"/><stop offset="0.9688" stop-color="#f7f31d"/><stop offset="1.0000" stop-color="#f9fb15"/></linearGradient>
<linearGradient id="gD" gradientUnits="userSpaceOnUse" x1="513.7" y1="2017.7" x2="394" y2="1740.8"><stop offset="0.0000" stop-color="#3f29b0"/><stop offset="0.0312" stop-color="#4331c6"/><stop offset="0.0625" stop-color="#463ada"/><stop offset="0.0938" stop-color="#4744e8"/><stop offset="0.1250" stop-color="#4850f2"/><stop offset="0.1562" stop-color="#475bf9"/><stop offset="0.1875" stop-color="#4466fd"/><stop offset="0.2188" stop-color="#3c72ff"/><stop offset="0.2500" stop-color="#317efb"/><stop offset="0.2812" stop-color="#2d89f5"/><stop offset="0.3125" stop-color="#2a93ee"/><stop offset="0.3438" stop-color="#259de7"/><stop offset="0.3750" stop-color="#1fa6e2"/><stop offset="0.4062" stop-color="#17aeda"/><stop offset="0.4375" stop-color="#06b5cf"/><stop offset="0.4688" stop-color="#03bbc2"/><stop offset="0.5000" stop-color="#1ac0b5"/><stop offset="0.5312" stop-color="#2cc4a6"/><stop offset="0.5625" stop-color="#38c896"/><stop offset="0.5938" stop-color="#4bcb84"/><stop offset="0.6250" stop-color="#64cd6f"/><stop offset="0.6562" stop-color="#80cc59"/><stop offset="0.6875" stop-color="#9dc943"/><stop offset="0.7188" stop-color="#b7c531"/><stop offset="0.7500" stop-color="#d0c027"/><stop offset="0.7812" stop-color="#e5bb2d"/><stop offset="0.8125" stop-color="#f7ba3c"/><stop offset="0.8438" stop-color="#fec239"/><stop offset="0.8750" stop-color="#fdce31"/><stop offset="0.9062" stop-color="#f8db2b"/><stop offset="0.9375" stop-color="#f5e725"/><stop offset="0.9688" stop-color="#f7f31d"/><stop offset="1.0000" stop-color="#f9fb15"/></linearGradient>
</defs>
<path d="M513.7 2017.7L883.4 1529.3L562 1294.4Z" fill="url(#gA)" stroke="url(#gA)" stroke-width="0.6"/>
<path d="M513.7 2017.7L562 1294.4L143.9 1475.1Z" fill="url(#gB)" stroke="url(#gB)" stroke-width="0.6"/>
<path d="M513.7 2017.7L143.9 1475.1L465.3 1710Z" fill="url(#gC)" stroke="url(#gC)" stroke-width="0.6"/>
<path d="M513.7 2017.7L465.3 1710L883.4 1529.3Z" fill="url(#gD)" stroke="url(#gD)" stroke-width="0.6"/>
<path d="M465.3 2225.5L883.4 2044.8M465.3 2225.5L143.9 1990.6M143.9 1990.6L143.9 1475.1M465.3 2225.5L475.5 2232.9M465.3 2225.5L453.7 2230.5M569.8 2180.3L580 2187.8M385 2166.8L373.4 2171.8M674.4 2135.2L684.5 2142.6M304.6 2108.1L293 2113M778.9 2090L789 2097.4M224.3 2049.3L212.7 2054.3M883.4 2044.8L893.6 2052.2M143.9 1990.6L132.3 1995.6M143.9 1990.6L132.9 1982.6M143.9 1887.5L132.9 1879.5M143.9 1784.4L132.9 1776.4M143.9 1681.3L132.9 1673.3M143.9 1578.2L132.9 1570.2M143.9 1475.1L132.9 1467.1" stroke="#454545" stroke-width="1.3" fill="none"/>
<text x="485.2" y="2270.5" font-size="30.8" text-anchor="start" font-weight="normal" fill="#2a2a2a" >−100</text>
<text x="441.1" y="2266" font-size="30.8" text-anchor="end" font-weight="normal" fill="#2a2a2a" >−100</text>
<text x="589.7" y="2225.3" font-size="30.8" text-anchor="start" font-weight="normal" fill="#2a2a2a" >−50</text>
<text x="360.8" y="2207.3" font-size="30.8" text-anchor="end" font-weight="normal" fill="#2a2a2a" >−50</text>
<text x="694.2" y="2180.2" font-size="30.8" text-anchor="start" font-weight="normal" fill="#2a2a2a" >0</text>
<text x="280.4" y="2148.6" font-size="30.8" text-anchor="end" font-weight="normal" fill="#2a2a2a" >0</text>
<text x="798.8" y="2135" font-size="30.8" text-anchor="start" font-weight="normal" fill="#2a2a2a" >50</text>
<text x="200.1" y="2089.8" font-size="30.8" text-anchor="end" font-weight="normal" fill="#2a2a2a" >50</text>
<text x="903.3" y="2089.8" font-size="30.8" text-anchor="start" font-weight="normal" fill="#2a2a2a" >100</text>
<text x="119.7" y="2031.1" font-size="30.8" text-anchor="end" font-weight="normal" fill="#2a2a2a" >100</text>
<text x="124.1" y="1990.2" font-size="30.8" text-anchor="end" font-weight="normal" fill="#2a2a2a" >0</text>
<text x="124.1" y="1887.1" font-size="30.8" text-anchor="end" font-weight="normal" fill="#2a2a2a" >20</text>
<text x="124.1" y="1784" font-size="30.8" text-anchor="end" font-weight="normal" fill="#2a2a2a" >40</text>
<text x="124.1" y="1680.9" font-size="30.8" text-anchor="end" font-weight="normal" fill="#2a2a2a" >60</text>
<text x="124.1" y="1577.8" font-size="30.8" text-anchor="end" font-weight="normal" fill="#2a2a2a" >80</text>
<text x="124.1" y="1474.7" font-size="30.8" text-anchor="end" font-weight="normal" fill="#2a2a2a" >100</text>
<path d="M143.9 1990.6L465.3 2225.5L883.4 2044.8" stroke="#f9fb15" stroke-width="1.8" stroke-opacity="0.38" fill="none"/>
<text x="514.5" y="1279.9" font-size="32.9" text-anchor="middle" font-weight="bold" fill="#000" >Benchmark Function</text>
<text transform="translate(57.6,1733) rotate(-90)" font-size="31.7" text-anchor="middle" font-weight="bold" fill="#2a2a2a">Objective Function Value</text>
<text font-weight="bold" fill="#2a2a2a"><tspan x="238" y="2172.3" font-size="32.3">x</tspan><tspan x="256.5" y="2186.9" font-size="25.2">2</tspan></text>
<text font-weight="bold" fill="#2a2a2a"><tspan x="707.7" y="2204.3" font-size="32.3">x</tspan><tspan x="725.5" y="2220.6" font-size="25.2">1</tspan></text>
</g>
<g>
<path d="M1320.5 105V1049M1509.5 105V1049M1698.4 105V1049M1135.4 119.8H1887.3M1135.4 273.8H1887.3M1135.4 427.8H1887.3M1135.4 581.8H1887.3M1135.4 735.8H1887.3M1135.4 889.8H1887.3M1135.4 1043.8H1887.3" stroke="#e9e9e9" stroke-width="1.6" fill="none"/>
<path d="M1135.4 150.6H1887.3M1135.4 181.4H1887.3M1135.4 212.2H1887.3M1135.4 243H1887.3M1135.4 304.6H1887.3M1135.4 335.4H1887.3M1135.4 366.2H1887.3M1135.4 397H1887.3M1135.4 458.6H1887.3M1135.4 489.4H1887.3M1135.4 520.2H1887.3M1135.4 551H1887.3M1135.4 612.6H1887.3M1135.4 643.4H1887.3M1135.4 674.2H1887.3M1135.4 705H1887.3M1135.4 766.6H1887.3M1135.4 797.4H1887.3M1135.4 828.2H1887.3M1135.4 859H1887.3M1135.4 920.6H1887.3M1135.4 951.4H1887.3M1135.4 982.2H1887.3M1135.4 1013H1887.3" stroke="#dedede" stroke-width="1.4" stroke-dasharray="1.5 2.3" fill="none"/>
<rect x="1135.4" y="105" width="751.9" height="944" fill="none" stroke="#a0a0a0" stroke-width="3.0"/>
<path d="M1320.5 1049v-8M1320.5 105v8M1509.5 1049v-8M1509.5 105v8M1698.4 1049v-8M1698.4 105v8M1887.3 1049v-8M1887.3 105v8M1135.4 119.8h8M1887.3 119.8h-8M1135.4 273.8h8M1887.3 273.8h-8M1135.4 427.8h8M1887.3 427.8h-8M1135.4 581.8h8M1887.3 581.8h-8M1135.4 735.8h8M1887.3 735.8h-8M1135.4 889.8h8M1887.3 889.8h-8M1135.4 1043.8h8M1887.3 1043.8h-8M1135.4 150.6h4M1887.3 150.6h-4M1135.4 181.4h4M1887.3 181.4h-4M1135.4 212.2h4M1887.3 212.2h-4M1135.4 243h4M1887.3 243h-4M1135.4 304.6h4M1887.3 304.6h-4M1135.4 335.4h4M1887.3 335.4h-4M1135.4 366.2h4M1887.3 366.2h-4M1135.4 397h4M1887.3 397h-4M1135.4 458.6h4M1887.3 458.6h-4M1135.4 489.4h4M1887.3 489.4h-4M1135.4 520.2h4M1887.3 520.2h-4M1135.4 551h4M1887.3 551h-4M1135.4 612.6h4M1887.3 612.6h-4M1135.4 643.4h4M1887.3 643.4h-4M1135.4 674.2h4M1887.3 674.2h-4M1135.4 705h4M1887.3 705h-4M1135.4 766.6h4M1887.3 766.6h-4M1135.4 797.4h4M1887.3 797.4h-4M1135.4 828.2h4M1887.3 828.2h-4M1135.4 859h4M1887.3 859h-4M1135.4 920.6h4M1887.3 920.6h-4M1135.4 951.4h4M1887.3 951.4h-4M1135.4 982.2h4M1887.3 982.2h-4M1135.4 1013h4M1887.3 1013h-4" stroke="#777" stroke-width="1.6" fill="none"/>
<clipPath id="cl105"><rect x="1134.4" y="103" width="754.9" height="948"/></clipPath>
<g clip-path="url(#cl105)" fill="none" stroke-linejoin="round">
<path d="M1135.4 105.4L1139.2 107.1L1143 108.7L1146.7 109.4L1150.5 110.9L1154.3 112.5L1158.1 114.2L1161.8 115.7L1165.6 117.5L1169.4 118.9L1173.2 119.8L1177 121.8L1180.7 123.9L1184.5 126.4L1188.3 128.2L1192.1 129.7L1195.9 131.3L1199.6 132.7L1203.4 135.4L1207.2 136.9L1211 138.4L1214.7 140.4L1218.5 143.3L1222.3 145.6L1226.1 147.1L1229.9 148.9L1233.6 151.5L1237.4 153.7L1241.2 155.5L1245 157.5L1248.8 160.2L1252.5 163.6L1256.3 165.5L1260.1 167.8L1263.9 170.2L1267.6 171.8L1271.4 174.2L1275.2 176.6L1279 180L1282.8 182.6L1286.5 184.6L1290.3 187.8L1294.1 190.6L1297.9 192.8L1301.6 195.4L1305.4 198.3L1309.2 201.1L1313 204.2L1316.8 206.1L1320.5 208.9L1324.3 212.2L1328.1 215.3L1331.9 218.5L1335.7 221.7L1339.4 225.3L1343.2 227.8L1347 231.4L1350.8 233.8L1354.5 236.8L1358.3 239.2L1362.1 242.9L1365.9 246.8L1369.7 249.9L1373.4 253.8L1377.2 256.7L1381 260.2L1384.8 263.5L1388.6 266.4L1392.3 270L1396.1 274.4L1399.9 277.2L1403.7 280.9L1407.4 284.1L1411.2 288.4L1415 292L1418.8 295.9L1422.6 299.7L1426.3 303.5L1430.1 306.6L1433.9 311.1L1437.7 314.3L1441.4 318.4L1445.2 322.6L1449 326.1L1452.8 330.1L1456.6 334.9L1460.3 339.3L1464.1 343.2L1467.9 346.2L1471.7 350.4L1475.5 354.7L1479.2 359.1L1483 363.1L1486.8 367.7L1490.6 371.9L1494.3 376.3L1498.1 380.9L1501.9 384.8L1505.7 389L1509.5 394.4L1513.2 399.3L1517 403L1520.8 407.2L1524.6 412.1L1528.4 417.4L1532.1 422L1535.9 426.3L1539.7 430.7L1543.5 435.8L1547.2 440.9L1551 445.4L1554.8 450.2L1558.6 454.9L1562.4 460.2L1566.1 464.7L1569.9 469.9L1573.7 475.2L1577.5 480.4L1581.3 484.9L1585 490.7L1588.8 495.6L1592.6 501.1L1596.4 506.1L1600.1 510.6L1603.9 516.1L1607.7 521.7L1611.5 527.2L1615.3 532.8L1619 537.8L1622.8 542.8L1626.6 548.2L1630.4 554.5L1634.1 560.4L1637.9 565.6L1641.7 571.3L1645.5 576.8L1649.3 582.4L1653 588.8L1656.8 594.5L1660.6 599.7L1664.4 605.1L1668.2 611.2L1671.9 617.3L1675.7 623.8L1679.5 629.4L1683.3 635.6L1687 641.7L1690.8 647.7L1694.6 654.2L1698.4 660.6L1702.2 666.4L1705.9 673.2L1709.7 679L1713.5 685.5L1717.3 691.9L1721.1 698.8L1724.8 704.9L1728.6 711.5L1732.4 718L1736.2 725.3L1739.9 731.7L1743.7 738.4L1747.5 745L1751.3 751.3L1755.1 759.5L1758.8 766.5L1762.6 772.8L1766.4 780.4L1770.2 787.1L1773.9 794.6L1777.7 802.3L1781.5 809.5L1785.3 816.8L1789.1 824.3L1792.8 832.2L1796.6 839.2L1800.4 846.5L1804.2 854.2L1808 862.5L1811.7 870.6L1815.5 879.2L1819.3 887.5L1823.1 895.5L1826.8 903.9L1830.6 911.4L1834.4 919.6L1838.2 927.9L1842 936.9L1845.7 946.2L1849.5 954.9L1853.3 963.6L1857.1 971.9L1860.9 981.1L1864.6 990.4L1868.4 999.7L1872.2 1008.5L1876 1018.7L1879.7 1028.7L1883.5 1038.2L1887.3 1047.5" stroke="#ff0000" stroke-width="3"/>
<path d="M1135.4 105.4L1139.2 105.7L1143 105.8L1146.7 106.1L1150.5 106.6L1154.3 107.3L1158.1 108L1161.8 108.1L1165.6 108.4L1169.4 108.5L1173.2 108.4L1177 109.5L1180.7 109.5L1184.5 110.6L1188.3 110.5L1192.1 110.9L1195.9 111.6L1199.6 112L1203.4 112.5L1207.2 112.8L1211 113L1214.7 113.3L1218.5 113.3L1222.3 114.6L1226.1 115L1229.9 116.3L1233.6 115.3L1237.4 115.8L1241.2 116.5L1245 116.9L1248.8 117.7L1252.5 118.2L1256.3 118.3L1260.1 118.6L1263.9 120.3L1267.6 120.8L1271.4 121.3L1275.2 121.6L1279 122.2L1282.8 122L1286.5 122.4L1290.3 124.1L1294.1 124.9L1297.9 125.4L1301.6 126L1305.4 127L1309.2 127.5L1313 128.6L1316.8 129.5L1320.5 130.1L1324.3 131.6L1328.1 131.1L1331.9 131.7L1335.7 132.8L1339.4 133.4L1343.2 134.1L1347 134.5L1350.8 134.8L1354.5 136.7L1358.3 137.5L1362.1 137.9L1365.9 138.9L1369.7 139.2L1373.4 140.2L1377.2 140.8L1381 142.2L1384.8 142.1L1388.6 143.1L1392.3 143.9L1396.1 144L1399.9 145.2L1403.7 145.5L1407.4 147L1411.2 147.9L1415 149.2L1418.8 150.1L1422.6 151.7L1426.3 151.9L1430.1 153.2L1433.9 154.1L1437.7 155.7L1441.4 156.8L1445.2 158L1449 158.5L1452.8 160.4L1456.6 162.4L1460.3 163.2L1464.1 163.8L1467.9 164.8L1471.7 166.5L1475.5 168.6L1479.2 169.3L1483 170.3L1486.8 171.3L1490.6 172.4L1494.3 173L1498.1 174.6L1501.9 175.4L1505.7 177.6L1509.5 179.4L1513.2 180.1L1517 180.9L1520.8 182.1L1524.6 184.3L1528.4 185.3L1532.1 186L1535.9 187.3L1539.7 188.8L1543.5 189.8L1547.2 191.8L1551 193.2L1554.8 194.7L1558.6 195.7L1562.4 197.2L1566.1 198.8L1569.9 199.3L1573.7 201.2L1577.5 201.9L1581.3 203.4L1585 203.9L1588.8 206.1L1592.6 207.4L1596.4 209.1L1600.1 210.8L1603.9 211.4L1607.7 211.6L1611.5 212.7L1615.3 214.4L1619 215.7L1622.8 217.1L1626.6 218.4L1630.4 218.6L1634.1 219.8L1637.9 221.8L1641.7 222.6L1645.5 222.5L1649.3 223.2L1653 224L1656.8 225.3L1660.6 225.8L1664.4 226.7L1668.2 226.4L1671.9 227.9L1675.7 229.9L1679.5 232.2L1683.3 233.1L1687 235L1690.8 235.5L1694.6 237.6L1698.4 239.2L1702.2 240.2L1705.9 241.7L1709.7 243L1713.5 244.8L1717.3 246.1L1721.1 247.6L1724.8 248L1728.6 248.9L1732.4 250L1736.2 251.5L1739.9 252.8L1743.7 254.7L1747.5 255.3L1751.3 256.3L1755.1 257.6L1758.8 258.6L1762.6 260L1766.4 260.8L1770.2 262.7L1773.9 263.6L1777.7 265.5L1781.5 266.8L1785.3 269.2L1789.1 270.2L1792.8 272.2L1796.6 273.7L1800.4 275.5L1804.2 277.7L1808 278.7L1811.7 279.7L1815.5 280.8L1819.3 282.6L1823.1 283.3L1826.8 284.8L1830.6 285.3L1834.4 285.8L1838.2 286.4L1842 287.4L1845.7 287.7L1849.5 288.2L1853.3 289.1L1857.1 289.9L1860.9 289.7L1864.6 290.6L1868.4 293.1L1872.2 298.1L1876 300.6L1879.7 301.9L1883.5 302.6L1887.3 302.4" stroke="#0000ff" stroke-width="3"/>
<path d="M1135.4 105.4L1139.2 105.4L1143 105.4L1146.7 105.4L1150.5 105.4L1154.3 105.4L1158.1 105.4L1161.8 105.4L1165.6 105.4L1169.4 105.4L1173.2 105.4L1177 105.4L1180.7 105.4L1184.5 105.4L1188.3 105.4L1192.1 105.4L1195.9 105.4L1199.6 105.4L1203.4 105.4L1207.2 105.4L1211 105.4L1214.7 105.4L1218.5 105.4L1222.3 105.4L1226.1 105.4L1229.9 105.4L1233.6 105.4L1237.4 105.4L1241.2 105.4L1245 105.4L1248.8 105.4L1252.5 105.4L1256.3 105.4L1260.1 105.4L1263.9 105.4L1267.6 105.4L1271.4 105.4L1275.2 105.4L1279 105.4L1282.8 105.4L1286.5 105.4L1290.3 105.4L1294.1 105.4L1297.9 105.4L1301.6 105.4L1305.4 105.4L1309.2 105.4L1313 105.4L1316.8 105.4L1320.5 105.4L1324.3 105.4L1328.1 105.4L1331.9 105.4L1335.7 105.4L1339.4 105.4L1343.2 105.4L1347 105.4L1350.8 105.4L1354.5 105.4L1358.3 105.4L1362.1 105.4L1365.9 105.4L1369.7 105.4L1373.4 105.4L1377.2 105.4L1381 105.4L1384.8 105.4L1388.6 105.4L1392.3 105.4L1396.1 105.4L1399.9 105.4L1403.7 105.4L1407.4 105.4L1411.2 105.4L1415 105.4L1418.8 105.4L1422.6 105.4L1426.3 105.4L1430.1 105.4L1433.9 105.4L1437.7 105.4L1441.4 105.4L1445.2 105.4L1449 105.4L1452.8 105.4L1456.6 105.4L1460.3 105.4L1464.1 105.4L1467.9 105.4L1471.7 105.4L1475.5 105.4L1479.2 105.4L1483 105.4L1486.8 105.4L1490.6 105.4L1494.3 105.4L1498.1 105.4L1501.9 105.4L1505.7 105.4L1509.5 105.4L1513.2 105.5L1517 105.5L1520.8 105.5L1524.6 105.5L1528.4 105.5L1532.1 105.5L1535.9 105.5L1539.7 105.5L1543.5 105.5L1547.2 105.5L1551 105.5L1554.8 105.5L1558.6 105.5L1562.4 105.5L1566.1 105.5L1569.9 105.5L1573.7 105.5L1577.5 105.5L1581.3 105.5L1585 105.5L1588.8 105.5L1592.6 105.5L1596.4 105.5L1600.1 105.5L1603.9 105.5L1607.7 105.5L1611.5 105.5L1615.3 105.5L1619 105.5L1622.8 105.5L1626.6 105.5L1630.4 105.5L1634.1 105.5L1637.9 105.5L1641.7 105.5L1645.5 105.5L1649.3 105.5L1653 105.5L1656.8 105.5L1660.6 105.5L1664.4 105.5L1668.2 105.5L1671.9 105.5L1675.7 105.5L1679.5 105.5L1683.3 105.5L1687 105.5L1690.8 105.5L1694.6 105.5L1698.4 105.5L1702.2 105.5L1705.9 105.5L1709.7 105.5L1713.5 105.5L1717.3 105.5L1721.1 105.5L1724.8 105.5L1728.6 105.5L1732.4 105.5L1736.2 105.5L1739.9 105.5L1743.7 105.5L1747.5 105.5L1751.3 105.5L1755.1 105.5L1758.8 105.5L1762.6 105.5L1766.4 105.5L1770.2 105.5L1773.9 105.5L1777.7 105.5L1781.5 105.5L1785.3 105.5L1789.1 105.5L1792.8 105.5L1796.6 105.5L1800.4 105.5L1804.2 105.5L1808 105.5L1811.7 105.5L1815.5 105.5L1819.3 105.5L1823.1 105.5L1826.8 105.5L1830.6 105.5L1834.4 105.5L1838.2 105.5L1842 105.5L1845.7 105.5L1849.5 105.5L1853.3 105.5L1857.1 105.5L1860.9 105.5L1864.6 105.5L1868.4 105.5L1872.2 105.5L1876 105.5L1879.7 105.5L1883.5 105.5L1887.3 105.5" stroke="#ff00ff" stroke-width="3"/>
<path d="M1135.4 105.4L1139.2 105.4L1143 105.4L1146.7 105.4L1150.5 105.4L1154.3 105.4L1158.1 105.4L1161.8 105.4L1165.6 105.4L1169.4 105.4L1173.2 105.4L1177 105.4L1180.7 105.4L1184.5 105.4L1188.3 105.4L1192.1 105.4L1195.9 105.4L1199.6 105.4L1203.4 105.4L1207.2 105.4L1211 105.4L1214.7 105.4L1218.5 105.4L1222.3 105.4L1226.1 105.4L1229.9 105.4L1233.6 105.4L1237.4 105.4L1241.2 105.4L1245 105.4L1248.8 105.4L1252.5 105.4L1256.3 105.4L1260.1 105.4L1263.9 105.4L1267.6 105.4L1271.4 105.4L1275.2 105.4L1279 105.4L1282.8 105.4L1286.5 105.4L1290.3 105.4L1294.1 105.4L1297.9 105.4L1301.6 105.4L1305.4 105.4L1309.2 105.4L1313 105.4L1316.8 105.4L1320.5 105.4L1324.3 105.5L1328.1 105.5L1331.9 105.5L1335.7 105.5L1339.4 105.5L1343.2 105.5L1347 105.5L1350.8 105.5L1354.5 105.5L1358.3 105.5L1362.1 105.5L1365.9 105.5L1369.7 105.5L1373.4 105.5L1377.2 105.5L1381 105.5L1384.8 105.5L1388.6 105.5L1392.3 105.5L1396.1 105.5L1399.9 105.5L1403.7 105.5L1407.4 105.5L1411.2 105.5L1415 105.5L1418.8 105.5L1422.6 105.5L1426.3 105.5L1430.1 105.5L1433.9 105.5L1437.7 105.5L1441.4 105.5L1445.2 105.5L1449 105.5L1452.8 105.5L1456.6 105.5L1460.3 105.5L1464.1 105.5L1467.9 105.5L1471.7 105.5L1475.5 105.5L1479.2 105.5L1483 105.5L1486.8 105.5L1490.6 105.5L1494.3 105.5L1498.1 105.5L1501.9 105.5L1505.7 105.5L1509.5 105.5L1513.2 105.5L1517 105.5L1520.8 105.5L1524.6 105.5L1528.4 105.5L1532.1 105.5L1535.9 105.5L1539.7 105.5L1543.5 105.5L1547.2 105.5L1551 105.5L1554.8 105.5L1558.6 105.5L1562.4 105.5L1566.1 105.5L1569.9 105.5L1573.7 105.5L1577.5 105.5L1581.3 105.5L1585 105.5L1588.8 105.5L1592.6 105.5L1596.4 105.5L1600.1 105.5L1603.9 105.5L1607.7 105.5L1611.5 105.5L1615.3 105.5L1619 105.5L1622.8 105.5L1626.6 105.5L1630.4 105.5L1634.1 105.5L1637.9 105.5L1641.7 105.5L1645.5 105.5L1649.3 105.5L1653 105.5L1656.8 105.5L1660.6 105.5L1664.4 105.5L1668.2 105.5L1671.9 105.5L1675.7 105.5L1679.5 105.5L1683.3 105.5L1687 105.5L1690.8 105.5L1694.6 105.5L1698.4 105.5L1702.2 105.6L1705.9 105.6L1709.7 105.6L1713.5 105.6L1717.3 105.6L1721.1 105.6L1724.8 105.6L1728.6 105.6L1732.4 105.6L1736.2 105.6L1739.9 105.6L1743.7 105.6L1747.5 105.6L1751.3 105.6L1755.1 105.6L1758.8 105.6L1762.6 105.6L1766.4 105.6L1770.2 105.6L1773.9 105.6L1777.7 105.6L1781.5 105.6L1785.3 105.6L1789.1 105.6L1792.8 105.6L1796.6 105.6L1800.4 105.6L1804.2 105.6L1808 105.6L1811.7 105.6L1815.5 105.6L1819.3 105.6L1823.1 105.6L1826.8 105.6L1830.6 105.6L1834.4 105.6L1838.2 105.6L1842 105.6L1845.7 105.6L1849.5 105.6L1853.3 105.6L1857.1 105.6L1860.9 105.6L1864.6 105.6L1868.4 105.6L1872.2 105.6L1876 105.6L1879.7 105.6L1883.5 105.6L1887.3 105.6" stroke="#00ff00" stroke-width="3"/>
<path d="M1135.4 105.4L1139.2 105.5L1143 105.5L1146.7 105.6L1150.5 105.6L1154.3 105.7L1158.1 105.8L1161.8 105.8L1165.6 105.9L1169.4 105.9L1173.2 106L1177 106L1180.7 106.1L1184.5 106.2L1188.3 106.2L1192.1 106.3L1195.9 106.3L1199.6 106.4L1203.4 106.4L1207.2 106.5L1211 106.5L1214.7 106.6L1218.5 106.7L1222.3 106.7L1226.1 106.8L1229.9 106.8L1233.6 106.9L1237.4 106.9L1241.2 107L1245 107L1248.8 107.1L1252.5 107.1L1256.3 107.2L1260.1 107.2L1263.9 107.3L1267.6 107.3L1271.4 107.4L1275.2 107.4L1279 107.5L1282.8 107.5L1286.5 107.6L1290.3 107.6L1294.1 107.7L1297.9 107.7L1301.6 107.8L1305.4 107.8L1309.2 107.9L1313 107.9L1316.8 108L1320.5 108L1324.3 108L1328.1 108.1L1331.9 108.1L1335.7 108.2L1339.4 108.2L1343.2 108.3L1347 108.3L1350.8 108.4L1354.5 108.4L1358.3 108.5L1362.1 108.5L1365.9 108.5L1369.7 108.6L1373.4 108.6L1377.2 108.7L1381 108.7L1384.8 108.8L1388.6 108.8L1392.3 108.9L1396.1 108.9L1399.9 108.9L1403.7 109L1407.4 109L1411.2 109.1L1415 109.1L1418.8 109.2L1422.6 109.2L1426.3 109.2L1430.1 109.3L1433.9 109.3L1437.7 109.4L1441.4 109.4L1445.2 109.4L1449 109.5L1452.8 109.5L1456.6 109.6L1460.3 109.6L1464.1 109.6L1467.9 109.7L1471.7 109.7L1475.5 109.7L1479.2 109.8L1483 109.8L1486.8 109.8L1490.6 109.9L1494.3 109.9L1498.1 109.9L1501.9 109.9L1505.7 110L1509.5 110L1513.2 110L1517 110.1L1520.8 110.1L1524.6 110.1L1528.4 110.1L1532.1 110.2L1535.9 110.2L1539.7 110.2L1543.5 110.2L1547.2 110.3L1551 110.3L1554.8 110.3L1558.6 110.3L1562.4 110.4L1566.1 110.4L1569.9 110.4L1573.7 110.4L1577.5 110.5L1581.3 110.5L1585 110.5L1588.8 110.6L1592.6 110.6L1596.4 110.6L1600.1 110.6L1603.9 110.7L1607.7 110.7L1611.5 110.7L1615.3 110.7L1619 110.7L1622.8 110.8L1626.6 110.8L1630.4 110.8L1634.1 110.8L1637.9 110.9L1641.7 110.9L1645.5 110.9L1649.3 110.9L1653 111L1656.8 111L1660.6 111L1664.4 111L1668.2 111.1L1671.9 111.1L1675.7 111.1L1679.5 111.1L1683.3 111.1L1687 111.2L1690.8 111.2L1694.6 111.2L1698.4 111.2L1702.2 111.2L1705.9 111.3L1709.7 111.3L1713.5 111.3L1717.3 111.3L1721.1 111.3L1724.8 111.4L1728.6 111.4L1732.4 111.4L1736.2 111.4L1739.9 111.4L1743.7 111.5L1747.5 111.5L1751.3 111.5L1755.1 111.5L1758.8 111.5L1762.6 111.5L1766.4 111.6L1770.2 111.6L1773.9 111.6L1777.7 111.6L1781.5 111.6L1785.3 111.6L1789.1 111.6L1792.8 111.7L1796.6 111.7L1800.4 111.7L1804.2 111.7L1808 111.7L1811.7 111.7L1815.5 111.7L1819.3 111.7L1823.1 111.8L1826.8 111.8L1830.6 111.8L1834.4 111.8L1838.2 111.8L1842 111.8L1845.7 111.8L1849.5 111.8L1853.3 111.8L1857.1 111.8L1860.9 111.9L1864.6 111.9L1868.4 111.9L1872.2 111.9L1876 111.9L1879.7 111.9L1883.5 111.9L1887.3 111.9" stroke="#ffff00" stroke-width="3"/>
<path d="M1135.4 105.4L1139.2 105.4L1143 105.4L1146.7 105.5L1150.5 105.5L1154.3 105.5L1158.1 105.5L1161.8 105.5L1165.6 105.5L1169.4 105.6L1173.2 105.6L1177 105.6L1180.7 105.6L1184.5 105.6L1188.3 105.6L1192.1 105.7L1195.9 105.7L1199.6 105.7L1203.4 105.7L1207.2 105.7L1211 105.7L1214.7 105.8L1218.5 105.8L1222.3 105.8L1226.1 105.8L1229.9 105.8L1233.6 105.8L1237.4 105.9L1241.2 105.9L1245 105.9L1248.8 105.9L1252.5 105.9L1256.3 105.9L1260.1 106L1263.9 106L1267.6 106L1271.4 106L1275.2 106L1279 106L1282.8 106L1286.5 106.1L1290.3 106.1L1294.1 106.1L1297.9 106.1L1301.6 106.1L1305.4 106.1L1309.2 106.2L1313 106.2L1316.8 106.2L1320.5 106.2L1324.3 106.2L1328.1 106.2L1331.9 106.2L1335.7 106.3L1339.4 106.3L1343.2 106.3L1347 106.3L1350.8 106.3L1354.5 106.3L1358.3 106.3L1362.1 106.3L1365.9 106.4L1369.7 106.4L1373.4 106.4L1377.2 106.4L1381 106.4L1384.8 106.4L1388.6 106.4L1392.3 106.5L1396.1 106.5L1399.9 106.5L1403.7 106.5L1407.4 106.5L1411.2 106.5L1415 106.5L1418.8 106.5L1422.6 106.6L1426.3 106.6L1430.1 106.6L1433.9 106.6L1437.7 106.6L1441.4 106.6L1445.2 106.6L1449 106.6L1452.8 106.6L1456.6 106.7L1460.3 106.7L1464.1 106.7L1467.9 106.7L1471.7 106.7L1475.5 106.7L1479.2 106.7L1483 106.7L1486.8 106.7L1490.6 106.8L1494.3 106.8L1498.1 106.8L1501.9 106.8L1505.7 106.8L1509.5 106.8L1513.2 106.8L1517 106.8L1520.8 106.8L1524.6 106.8L1528.4 106.8L1532.1 106.9L1535.9 106.9L1539.7 106.9L1543.5 106.9L1547.2 106.9L1551 106.9L1554.8 106.9L1558.6 106.9L1562.4 106.9L1566.1 106.9L1569.9 106.9L1573.7 107L1577.5 107L1581.3 107L1585 107L1588.8 107L1592.6 107L1596.4 107L1600.1 107L1603.9 107L1607.7 107L1611.5 107L1615.3 107.1L1619 107.1L1622.8 107.1L1626.6 107.1L1630.4 107.1L1634.1 107.1L1637.9 107.1L1641.7 107.1L1645.5 107.1L1649.3 107.1L1653 107.1L1656.8 107.1L1660.6 107.1L1664.4 107.2L1668.2 107.2L1671.9 107.2L1675.7 107.2L1679.5 107.2L1683.3 107.2L1687 107.2L1690.8 107.2L1694.6 107.2L1698.4 107.2L1702.2 107.2L1705.9 107.2L1709.7 107.2L1713.5 107.3L1717.3 107.3L1721.1 107.3L1724.8 107.3L1728.6 107.3L1732.4 107.3L1736.2 107.3L1739.9 107.3L1743.7 107.3L1747.5 107.3L1751.3 107.3L1755.1 107.3L1758.8 107.3L1762.6 107.3L1766.4 107.3L1770.2 107.4L1773.9 107.4L1777.7 107.4L1781.5 107.4L1785.3 107.4L1789.1 107.4L1792.8 107.4L1796.6 107.4L1800.4 107.4L1804.2 107.4L1808 107.4L1811.7 107.4L1815.5 107.4L1819.3 107.4L1823.1 107.4L1826.8 107.4L1830.6 107.4L1834.4 107.4L1838.2 107.4L1842 107.5L1845.7 107.5L1849.5 107.5L1853.3 107.5L1857.1 107.5L1860.9 107.5L1864.6 107.5L1868.4 107.5L1872.2 107.5L1876 107.5L1879.7 107.5L1883.5 107.5L1887.3 107.5" stroke="#00ffff" stroke-width="3"/>
<path d="M1135.4 105.4L1139.2 105.6L1143 105.7L1146.7 105.9L1150.5 106L1154.3 106.2L1158.1 106.3L1161.8 106.5L1165.6 106.6L1169.4 106.8L1173.2 106.9L1177 107.1L1180.7 107.2L1184.5 107.4L1188.3 107.5L1192.1 107.7L1195.9 107.8L1199.6 108L1203.4 108.1L1207.2 108.3L1211 108.4L1214.7 108.6L1218.5 108.7L1222.3 108.9L1226.1 109L1229.9 109.1L1233.6 109.3L1237.4 109.4L1241.2 109.6L1245 109.7L1248.8 109.9L1252.5 110L1256.3 110.1L1260.1 110.3L1263.9 110.4L1267.6 110.6L1271.4 110.7L1275.2 110.8L1279 111L1282.8 111.1L1286.5 111.3L1290.3 111.4L1294.1 111.5L1297.9 111.7L1301.6 111.8L1305.4 112L1309.2 112.1L1313 112.2L1316.8 112.4L1320.5 112.5L1324.3 112.6L1328.1 112.8L1331.9 112.9L1335.7 113L1339.4 113.2L1343.2 113.3L1347 113.5L1350.8 113.6L1354.5 113.7L1358.3 113.9L1362.1 114L1365.9 114.1L1369.7 114.3L1373.4 114.4L1377.2 114.5L1381 114.7L1384.8 114.8L1388.6 114.9L1392.3 115.1L1396.1 115.2L1399.9 115.3L1403.7 115.4L1407.4 115.6L1411.2 115.7L1415 115.8L1418.8 115.9L1422.6 116L1426.3 116.1L1430.1 116.3L1433.9 116.4L1437.7 116.5L1441.4 116.6L1445.2 116.7L1449 116.8L1452.8 116.9L1456.6 117L1460.3 117.1L1464.1 117.2L1467.9 117.3L1471.7 117.4L1475.5 117.5L1479.2 117.6L1483 117.7L1486.8 117.8L1490.6 117.9L1494.3 118L1498.1 118.1L1501.9 118.2L1505.7 118.3L1509.5 118.4L1513.2 118.5L1517 118.6L1520.8 118.7L1524.6 118.8L1528.4 118.9L1532.1 119L1535.9 119L1539.7 119.1L1543.5 119.2L1547.2 119.3L1551 119.4L1554.8 119.5L1558.6 119.6L1562.4 119.7L1566.1 119.8L1569.9 119.9L1573.7 119.9L1577.5 120L1581.3 120.1L1585 120.2L1588.8 120.3L1592.6 120.4L1596.4 120.5L1600.1 120.5L1603.9 120.6L1607.7 120.7L1611.5 120.8L1615.3 120.9L1619 121L1622.8 121L1626.6 121.1L1630.4 121.2L1634.1 121.3L1637.9 121.4L1641.7 121.4L1645.5 121.5L1649.3 121.6L1653 121.7L1656.8 121.7L1660.6 121.8L1664.4 121.9L1668.2 122L1671.9 122L1675.7 122.1L1679.5 122.2L1683.3 122.2L1687 122.3L1690.8 122.4L1694.6 122.4L1698.4 122.5L1702.2 122.6L1705.9 122.6L1709.7 122.7L1713.5 122.8L1717.3 122.8L1721.1 122.9L1724.8 122.9L1728.6 123L1732.4 123.1L1736.2 123.1L1739.9 123.2L1743.7 123.2L1747.5 123.3L1751.3 123.4L1755.1 123.4L1758.8 123.5L1762.6 123.5L1766.4 123.6L1770.2 123.6L1773.9 123.7L1777.7 123.8L1781.5 123.8L1785.3 123.9L1789.1 123.9L1792.8 124L1796.6 124L1800.4 124.1L1804.2 124.1L1808 124.2L1811.7 124.2L1815.5 124.3L1819.3 124.3L1823.1 124.4L1826.8 124.4L1830.6 124.5L1834.4 124.5L1838.2 124.6L1842 124.6L1845.7 124.7L1849.5 124.7L1853.3 124.7L1857.1 124.8L1860.9 124.8L1864.6 124.9L1868.4 124.9L1872.2 124.9L1876 125L1879.7 125L1883.5 125.1L1887.3 125.1" stroke="#000000" stroke-width="3"/>
<path d="M1135.4 105.3L1139.2 105.3L1143 105.3L1146.7 105.3L1150.5 105.3L1154.3 105.3L1158.1 105.3L1161.8 105.3L1165.6 105.3L1169.4 105.3L1173.2 105.3L1177 105.3L1180.7 105.3L1184.5 105.3L1188.3 105.3L1192.1 105.3L1195.9 105.3L1199.6 105.3L1203.4 105.3L1207.2 105.3L1211 105.3L1214.7 105.3L1218.5 105.3L1222.3 105.3L1226.1 105.3L1229.9 105.3L1233.6 105.3L1237.4 105.3L1241.2 105.3L1245 105.3L1248.8 105.3L1252.5 105.3L1256.3 105.3L1260.1 105.3L1263.9 105.3L1267.6 105.3L1271.4 105.3L1275.2 105.3L1279 105.3L1282.8 105.3L1286.5 105.3L1290.3 105.3L1294.1 105.3L1297.9 105.3L1301.6 105.3L1305.4 105.3L1309.2 105.3L1313 105.3L1316.8 105.3L1320.5 105.3L1324.3 105.3L1328.1 105.3L1331.9 105.3L1335.7 105.3L1339.4 105.3L1343.2 105.3L1347 105.3L1350.8 105.3L1354.5 105.3L1358.3 105.3L1362.1 105.3L1365.9 105.3L1369.7 105.3L1373.4 105.3L1377.2 105.3L1381 105.3L1384.8 105.3L1388.6 105.3L1392.3 105.3L1396.1 105.3L1399.9 105.3L1403.7 105.3L1407.4 105.3L1411.2 105.3L1415 105.3L1418.8 105.3L1422.6 105.3L1426.3 105.3L1430.1 105.3L1433.9 105.3L1437.7 105.3L1441.4 105.3L1445.2 105.3L1449 105.3L1452.8 105.3L1456.6 105.3L1460.3 105.3L1464.1 105.3L1467.9 105.3L1471.7 105.3L1475.5 105.3L1479.2 105.3L1483 105.3L1486.8 105.3L1490.6 105.3L1494.3 105.3L1498.1 105.3L1501.9 105.3L1505.7 105.3L1509.5 105.3L1513.2 105.3L1517 105.3L1520.8 105.3L1524.6 105.3L1528.4 105.3L1532.1 105.3L1535.9 105.3L1539.7 105.3L1543.5 105.3L1547.2 105.3L1551 105.3L1554.8 105.3L1558.6 105.3L1562.4 105.3L1566.1 105.3L1569.9 105.3L1573.7 105.3L1577.5 105.3L1581.3 105.3L1585 105.3L1588.8 105.3L1592.6 105.3L1596.4 105.3L1600.1 105.3L1603.9 105.3L1607.7 105.3L1611.5 105.3L1615.3 105.3L1619 105.3L1622.8 105.3L1626.6 105.3L1630.4 105.3L1634.1 105.3L1637.9 105.3L1641.7 105.3L1645.5 105.3L1649.3 105.3L1653 105.3L1656.8 105.3L1660.6 105.3L1664.4 105.3L1668.2 105.3L1671.9 105.3L1675.7 105.3L1679.5 105.3L1683.3 105.3L1687 105.3L1690.8 105.3L1694.6 105.3L1698.4 105.3L1702.2 105.3L1705.9 105.3L1709.7 105.3L1713.5 105.3L1717.3 105.3L1721.1 105.3L1724.8 105.3L1728.6 105.3L1732.4 105.3L1736.2 105.3L1739.9 105.3L1743.7 105.3L1747.5 105.3L1751.3 105.3L1755.1 105.3L1758.8 105.3L1762.6 105.3L1766.4 105.3L1770.2 105.3L1773.9 105.3L1777.7 105.3L1781.5 105.3L1785.3 105.3L1789.1 105.3L1792.8 105.3L1796.6 105.3L1800.4 105.3L1804.2 105.3L1808 105.3L1811.7 105.3L1815.5 105.3L1819.3 105.3L1823.1 105.3L1826.8 105.3L1830.6 105.3L1834.4 105.3L1838.2 105.3L1842 105.3L1845.7 105.3L1849.5 105.3L1853.3 105.3L1857.1 105.3L1860.9 105.3L1864.6 105.3L1868.4 105.3L1872.2 105.3L1876 105.3L1879.7 105.3L1883.5 105.3L1887.3 105.3" stroke="#0072bd" stroke-width="3"/>
<path d="M1135.4 105.4L1139.2 105.6L1143 105.8L1146.7 106L1150.5 106.2L1154.3 106.4L1158.1 106.6L1161.8 106.8L1165.6 107L1169.4 107.2L1173.2 107.4L1177 107.5L1180.7 107.7L1184.5 107.9L1188.3 108.1L1192.1 108.3L1195.9 108.5L1199.6 108.7L1203.4 108.9L1207.2 109.1L1211 109.3L1214.7 109.4L1218.5 109.6L1222.3 109.8L1226.1 110L1229.9 110.2L1233.6 110.4L1237.4 110.6L1241.2 110.7L1245 110.9L1248.8 111.1L1252.5 111.3L1256.3 111.5L1260.1 111.6L1263.9 111.8L1267.6 112L1271.4 112.2L1275.2 112.4L1279 112.5L1282.8 112.7L1286.5 112.9L1290.3 113.1L1294.1 113.3L1297.9 113.4L1301.6 113.6L1305.4 113.8L1309.2 114L1313 114.1L1316.8 114.3L1320.5 114.5L1324.3 114.7L1328.1 114.9L1331.9 115L1335.7 115.2L1339.4 115.4L1343.2 115.6L1347 115.7L1350.8 115.9L1354.5 116.1L1358.3 116.3L1362.1 116.4L1365.9 116.6L1369.7 116.8L1373.4 117L1377.2 117.1L1381 117.3L1384.8 117.5L1388.6 117.6L1392.3 117.8L1396.1 118L1399.9 118.2L1403.7 118.3L1407.4 118.5L1411.2 118.6L1415 118.8L1418.8 119L1422.6 119.1L1426.3 119.3L1430.1 119.4L1433.9 119.6L1437.7 119.7L1441.4 119.9L1445.2 120L1449 120.2L1452.8 120.3L1456.6 120.4L1460.3 120.6L1464.1 120.7L1467.9 120.9L1471.7 121L1475.5 121.2L1479.2 121.3L1483 121.4L1486.8 121.6L1490.6 121.7L1494.3 121.9L1498.1 122L1501.9 122.2L1505.7 122.3L1509.5 122.5L1513.2 122.7L1517 122.8L1520.8 123L1524.6 123.2L1528.4 123.3L1532.1 123.5L1535.9 123.7L1539.7 123.9L1543.5 124.1L1547.2 124.3L1551 124.5L1554.8 124.6L1558.6 124.8L1562.4 125L1566.1 125.2L1569.9 125.4L1573.7 125.6L1577.5 125.8L1581.3 126L1585 126.2L1588.8 126.4L1592.6 126.6L1596.4 126.8L1600.1 127L1603.9 127.2L1607.7 127.4L1611.5 127.6L1615.3 127.8L1619 128L1622.8 128.2L1626.6 128.4L1630.4 128.5L1634.1 128.7L1637.9 128.9L1641.7 129L1645.5 129.2L1649.3 129.4L1653 129.5L1656.8 129.7L1660.6 129.8L1664.4 130L1668.2 130.1L1671.9 130.2L1675.7 130.3L1679.5 130.4L1683.3 130.5L1687 130.6L1690.8 130.7L1694.6 130.8L1698.4 130.9L1702.2 131L1705.9 131L1709.7 131.1L1713.5 131.2L1717.3 131.3L1721.1 131.3L1724.8 131.4L1728.6 131.5L1732.4 131.5L1736.2 131.6L1739.9 131.7L1743.7 131.7L1747.5 131.8L1751.3 131.9L1755.1 131.9L1758.8 132L1762.6 132.1L1766.4 132.1L1770.2 132.2L1773.9 132.2L1777.7 132.3L1781.5 132.3L1785.3 132.4L1789.1 132.4L1792.8 132.5L1796.6 132.6L1800.4 132.6L1804.2 132.6L1808 132.7L1811.7 132.7L1815.5 132.8L1819.3 132.8L1823.1 132.9L1826.8 132.9L1830.6 132.9L1834.4 133L1838.2 133L1842 133L1845.7 133.1L1849.5 133.1L1853.3 133.1L1857.1 133.1L1860.9 133.1L1864.6 133.2L1868.4 133.2L1872.2 133.2L1876 133.2L1879.7 133.2L1883.5 133.2L1887.3 133.2" stroke="#a2670f" stroke-width="3"/>
</g>
<text x="1320.5" y="1092.6" font-size="32.7" text-anchor="middle" font-weight="normal" fill="#2a2a2a" >50</text>
<text x="1509.5" y="1092.6" font-size="32.7" text-anchor="middle" font-weight="normal" fill="#2a2a2a" >100</text>
<text x="1698.4" y="1092.6" font-size="32.7" text-anchor="middle" font-weight="normal" fill="#2a2a2a" >150</text>
<text x="1887.3" y="1092.6" font-size="32.7" text-anchor="middle" font-weight="normal" fill="#2a2a2a" >200</text>
<text x="1124.6" y="137.8" font-size="32.7" text-anchor="end" fill="#2a2a2a">10<tspan dx="0.5" dy="-15.3" font-size="26.2">0</tspan></text>
<text x="1124.6" y="291.8" font-size="32.7" text-anchor="end" fill="#2a2a2a">10<tspan dx="0.3" dy="-13.4" font-size="31.9">−</tspan><tspan dy="-1.9" font-size="26.2">50</tspan></text>
<text x="1124.6" y="445.8" font-size="32.7" text-anchor="end" fill="#2a2a2a">10<tspan dx="0.3" dy="-13.4" font-size="31.9">−</tspan><tspan dy="-1.9" font-size="26.2">100</tspan></text>
<text x="1124.6" y="599.8" font-size="32.7" text-anchor="end" fill="#2a2a2a">10<tspan dx="0.3" dy="-13.4" font-size="31.9">−</tspan><tspan dy="-1.9" font-size="26.2">150</tspan></text>
<text x="1124.6" y="753.8" font-size="32.7" text-anchor="end" fill="#2a2a2a">10<tspan dx="0.3" dy="-13.4" font-size="31.9">−</tspan><tspan dy="-1.9" font-size="26.2">200</tspan></text>
<text x="1124.6" y="907.8" font-size="32.7" text-anchor="end" fill="#2a2a2a">10<tspan dx="0.3" dy="-13.4" font-size="31.9">−</tspan><tspan dy="-1.9" font-size="26.2">250</tspan></text>
<text x="1124.6" y="1061.8" font-size="32.7" text-anchor="end" fill="#2a2a2a">10<tspan dx="0.3" dy="-13.4" font-size="31.9">−</tspan><tspan dy="-1.9" font-size="26.2">300</tspan></text>
<rect x="1151.7" y="692.3" width="133.1" height="346" fill="#fff" stroke="#7d7d7d" stroke-width="2"/>
<path d="M1156.5 713.5h47.8" stroke="#ff0000" stroke-width="3" fill="none"/>
<text x="1208.3" y="723.6" font-size="28.2" text-anchor="start" font-weight="normal" fill="#1a1a1a" >IHPO</text>
<path d="M1156.5 751.6h47.8" stroke="#0000ff" stroke-width="3" fill="none"/>
<text x="1208.3" y="761.7" font-size="28.2" text-anchor="start" font-weight="normal" fill="#1a1a1a" >HPO</text>
<path d="M1156.5 789.7h47.8" stroke="#ff00ff" stroke-width="3" fill="none"/>
<text x="1208.3" y="799.8" font-size="28.2" text-anchor="start" font-weight="normal" fill="#1a1a1a" >DE</text>
<path d="M1156.5 827.8h47.8" stroke="#00ff00" stroke-width="3" fill="none"/>
<text x="1208.3" y="837.9" font-size="28.2" text-anchor="start" font-weight="normal" fill="#1a1a1a" >CS</text>
<path d="M1156.5 865.9h47.8" stroke="#ffff00" stroke-width="3" fill="none"/>
<text x="1208.3" y="876" font-size="28.2" text-anchor="start" font-weight="normal" fill="#1a1a1a" >PSO</text>
<path d="M1156.5 904h47.8" stroke="#00ffff" stroke-width="3" fill="none"/>
<text x="1208.3" y="914.1" font-size="28.2" text-anchor="start" font-weight="normal" fill="#1a1a1a" >MFO</text>
<path d="M1156.5 942h47.8" stroke="#000000" stroke-width="3" fill="none"/>
<text x="1208.3" y="952.1" font-size="28.2" text-anchor="start" font-weight="normal" fill="#1a1a1a" >GWO</text>
<path d="M1156.5 980.1h47.8" stroke="#0072bd" stroke-width="3" fill="none"/>
<text x="1208.3" y="990.2" font-size="28.2" text-anchor="start" font-weight="normal" fill="#1a1a1a" >WOA</text>
<path d="M1156.5 1018.2h47.8" stroke="#a2670f" stroke-width="3" fill="none"/>
<text x="1208.3" y="1028.3" font-size="28.2" text-anchor="start" font-weight="normal" fill="#1a1a1a" >EO</text>
<text x="1510.9" y="87.6" font-size="35.3" text-anchor="middle" font-weight="bold" fill="#000" >Mean Optimization Iterative Curve</text>
<text x="1510.4" y="1132.9" font-size="32" text-anchor="middle" font-weight="bold" fill="#2a2a2a" >Cumulative Iteration</text>
<text transform="translate(1012.9,575.4) rotate(-90)" font-size="31.7" text-anchor="middle" font-weight="bold" fill="#2a2a2a">Best Fitness(log)</text>
</g>
<g>
<path d="M1332.1 1295.2V2226.2M1518.1 1295.2V2226.2M1704.2 1295.2V2226.2M1149.8 1305.5H1890.2M1149.8 1602.6H1890.2M1149.8 1899.7H1890.2M1149.8 2196.8H1890.2" stroke="#e9e9e9" stroke-width="1.6" fill="none"/>
<path d="M1149.8 1364.9H1890.2M1149.8 1424.3H1890.2M1149.8 1483.8H1890.2M1149.8 1543.2H1890.2M1149.8 1662H1890.2M1149.8 1721.4H1890.2M1149.8 1780.9H1890.2M1149.8 1840.3H1890.2M1149.8 1959.1H1890.2M1149.8 2018.5H1890.2M1149.8 2078H1890.2M1149.8 2137.4H1890.2" stroke="#dedede" stroke-width="1.4" stroke-dasharray="1.5 2.3" fill="none"/>
<rect x="1149.8" y="1295.2" width="740.4" height="931" fill="none" stroke="#8c8c8c" stroke-width="2.3"/>
<path d="M1332.1 2226.2v-8M1332.1 1295.2v8M1518.1 2226.2v-8M1518.1 1295.2v8M1704.2 2226.2v-8M1704.2 1295.2v8M1890.2 2226.2v-8M1890.2 1295.2v8M1149.8 1305.5h8M1890.2 1305.5h-8M1149.8 1602.6h8M1890.2 1602.6h-8M1149.8 1899.7h8M1890.2 1899.7h-8M1149.8 2196.8h8M1890.2 2196.8h-8M1149.8 1364.9h4M1890.2 1364.9h-4M1149.8 1424.3h4M1890.2 1424.3h-4M1149.8 1483.8h4M1890.2 1483.8h-4M1149.8 1543.2h4M1890.2 1543.2h-4M1149.8 1662h4M1890.2 1662h-4M1149.8 1721.4h4M1890.2 1721.4h-4M1149.8 1780.9h4M1890.2 1780.9h-4M1149.8 1840.3h4M1890.2 1840.3h-4M1149.8 1959.1h4M1890.2 1959.1h-4M1149.8 2018.5h4M1890.2 2018.5h-4M1149.8 2078h4M1890.2 2078h-4M1149.8 2137.4h4M1890.2 2137.4h-4" stroke="#777" stroke-width="1.6" fill="none"/>
<clipPath id="cl1295"><rect x="1148.8" y="1293.2" width="743.4" height="935"/></clipPath>
<g clip-path="url(#cl1295)" fill="none" stroke-linejoin="round">
<path d="M1149.8 1294.7L1153.5 1296.3L1157.2 1298.1L1161 1299.5L1164.7 1301.1L1168.4 1302.9L1172.1 1304.9L1175.8 1306.7L1179.6 1308.3L1183.3 1309.9L1187 1311.7L1190.7 1313.3L1194.4 1315.3L1198.2 1317.3L1201.9 1319.3L1205.6 1321.4L1209.3 1323.1L1213.1 1325.1L1216.8 1327L1220.5 1329L1224.2 1331.4L1227.9 1333.5L1231.7 1335.3L1235.4 1337.5L1239.1 1339.6L1242.8 1341.6L1246.5 1343.6L1250.3 1346L1254 1348.6L1257.7 1350.7L1261.4 1353.1L1265.1 1355.6L1268.9 1357.7L1272.6 1360.1L1276.3 1362.6L1280 1365.1L1283.7 1367.2L1287.5 1369.6L1291.2 1372.3L1294.9 1375L1298.6 1377.8L1302.3 1380.2L1306.1 1383L1309.8 1385.7L1313.5 1388.1L1317.2 1390.9L1320.9 1393.6L1324.7 1396.5L1328.4 1399.2L1332.1 1402.2L1335.8 1405.1L1339.6 1407.9L1343.3 1410.9L1347 1413.9L1350.7 1416.8L1354.4 1420L1358.2 1423.1L1361.9 1426.1L1365.6 1429.1L1369.3 1432.1L1373 1435.2L1376.8 1438.9L1380.5 1442L1384.2 1445.3L1387.9 1448.4L1391.6 1451.6L1395.4 1455.3L1399.1 1458.9L1402.8 1462.3L1406.5 1465.8L1410.2 1469.2L1414 1472.7L1417.7 1476.2L1421.4 1479.7L1425.1 1483.5L1428.8 1487.3L1432.6 1491.2L1436.3 1494.9L1440 1498.5L1443.7 1502.3L1447.4 1506L1451.2 1510.1L1454.9 1514.1L1458.6 1518.2L1462.3 1522.1L1466.1 1525.7L1469.8 1530L1473.5 1534.3L1477.2 1538.2L1480.9 1542.3L1484.7 1546.6L1488.4 1550.6L1492.1 1555.2L1495.8 1559.3L1499.5 1563.4L1503.3 1567.9L1507 1572.3L1510.7 1576.6L1514.4 1581.1L1518.1 1585.2L1521.9 1590L1525.6 1594.4L1529.3 1598.9L1533 1603.4L1536.7 1608L1540.5 1612.8L1544.2 1617.2L1547.9 1622L1551.6 1626.7L1555.3 1631.4L1559.1 1636.1L1562.8 1640.7L1566.5 1645.3L1570.2 1650.3L1573.9 1655.1L1577.7 1660.3L1581.4 1665.3L1585.1 1670L1588.8 1674.6L1592.6 1679.6L1596.3 1684.7L1600 1689.8L1603.7 1694.8L1607.4 1700.1L1611.2 1704.9L1614.9 1709.8L1618.6 1715L1622.3 1720.6L1626 1725.9L1629.8 1730.8L1633.5 1736.1L1637.2 1741.6L1640.9 1747.1L1644.6 1752.3L1648.4 1757.5L1652.1 1762.9L1655.8 1768.4L1659.5 1774.2L1663.2 1780.1L1667 1785.5L1670.7 1791L1674.4 1796.6L1678.1 1802.3L1681.8 1808.1L1685.6 1813.9L1689.3 1819.8L1693 1826L1696.7 1832L1700.4 1837.9L1704.2 1843.7L1707.9 1849.8L1711.6 1855.9L1715.3 1861.9L1719.1 1868.4L1722.8 1874.9L1726.5 1881.3L1730.2 1887.6L1733.9 1893.9L1737.7 1900.4L1741.4 1907.5L1745.1 1913.7L1748.8 1920.5L1752.5 1927.4L1756.3 1934.4L1760 1941.2L1763.7 1948.3L1767.4 1955.1L1771.1 1962.3L1774.9 1969.8L1778.6 1976.8L1782.3 1983.9L1786 1991.2L1789.7 1998.8L1793.5 2006.6L1797.2 2014.2L1800.9 2021.7L1804.6 2029.1L1808.3 2037L1812.1 2045L1815.8 2052.6L1819.5 2060.6L1823.2 2068.7L1826.9 2077L1830.7 2085L1834.4 2093.4L1838.1 2101.4L1841.8 2109.6L1845.6 2117.9L1849.3 2126.6L1853 2135.7L1856.7 2144.2L1860.4 2152.8L1864.2 2161.7L1867.9 2170.3L1871.6 2179.3L1875.3 2187.9L1879 2197.3L1882.8 2206.6L1886.5 2215.9L1890.2 2224.9" stroke="#ff0000" stroke-width="3"/>
<path d="M1149.8 1294.7L1153.5 1295.2L1157.2 1295.7L1161 1296.3L1164.7 1295.9L1168.4 1296.5L1172.1 1297.4L1175.8 1298L1179.6 1298.3L1183.3 1298.3L1187 1299L1190.7 1299.5L1194.4 1299.9L1198.2 1299.9L1201.9 1300.6L1205.6 1301.4L1209.3 1301.6L1213.1 1302.1L1216.8 1302.8L1220.5 1303.8L1224.2 1304.2L1227.9 1304.4L1231.7 1304.5L1235.4 1305L1239.1 1305.7L1242.8 1306.7L1246.5 1307L1250.3 1307.5L1254 1307.5L1257.7 1308.7L1261.4 1309.1L1265.1 1309.9L1268.9 1310.1L1272.6 1310.5L1276.3 1310.8L1280 1312.2L1283.7 1313L1287.5 1313.5L1291.2 1313.5L1294.9 1313.9L1298.6 1314.9L1302.3 1316.4L1306.1 1316.5L1309.8 1316.9L1313.5 1317.7L1317.2 1318.3L1320.9 1318.5L1324.7 1319.4L1328.4 1320.6L1332.1 1320.6L1335.8 1321.3L1339.6 1322.3L1343.3 1323.3L1347 1323.6L1350.7 1325.1L1354.4 1325.9L1358.2 1326.2L1361.9 1327.3L1365.6 1327.6L1369.3 1328.9L1373 1329L1376.8 1330.2L1380.5 1330.6L1384.2 1331.9L1387.9 1332.8L1391.6 1333.8L1395.4 1334.6L1399.1 1335.9L1402.8 1335.9L1406.5 1336.9L1410.2 1337.6L1414 1338.5L1417.7 1339.4L1421.4 1341.6L1425.1 1342.1L1428.8 1343.1L1432.6 1343.8L1436.3 1345.4L1440 1345.5L1443.7 1347.5L1447.4 1348.4L1451.2 1348.7L1454.9 1349.4L1458.6 1350.6L1462.3 1351.9L1466.1 1353L1469.8 1354.5L1473.5 1355.7L1477.2 1356.7L1480.9 1356.9L1484.7 1358.4L1488.4 1360.3L1492.1 1361.4L1495.8 1361.8L1499.5 1362.5L1503.3 1364.7L1507 1365.7L1510.7 1366.7L1514.4 1367.6L1518.1 1369.4L1521.9 1370.6L1525.6 1371.5L1529.3 1372.2L1533 1373.4L1536.7 1375.1L1540.5 1376.3L1544.2 1377.8L1547.9 1378.9L1551.6 1380.1L1555.3 1381.2L1559.1 1382.4L1562.8 1384.1L1566.5 1385.5L1570.2 1386.4L1573.9 1387.6L1577.7 1388.8L1581.4 1390.3L1585.1 1391.7L1588.8 1393.1L1592.6 1393.7L1596.3 1395.1L1600 1397L1603.7 1397.6L1607.4 1399.6L1611.2 1401L1614.9 1402.4L1618.6 1402.9L1622.3 1404.8L1626 1405.9L1629.8 1407.2L1633.5 1409L1637.2 1410.2L1640.9 1411.2L1644.6 1412.2L1648.4 1413.6L1652.1 1415.3L1655.8 1416.9L1659.5 1418.4L1663.2 1419.4L1667 1420.7L1670.7 1421.8L1674.4 1424.2L1678.1 1425.6L1681.8 1426.2L1685.6 1427.2L1689.3 1429.5L1693 1430.5L1696.7 1431.8L1700.4 1433.2L1704.2 1434.2L1707.9 1435.9L1711.6 1438L1715.3 1439L1719.1 1440.9L1722.8 1441.8L1726.5 1442.9L1730.2 1444.4L1733.9 1446.1L1737.7 1447.4L1741.4 1449.4L1745.1 1450.3L1748.8 1451.5L1752.5 1452.4L1756.3 1454.4L1760 1456.2L1763.7 1457.9L1767.4 1458.8L1771.1 1460.4L1774.9 1462.2L1778.6 1463L1782.3 1464.1L1786 1465.8L1789.7 1467.6L1793.5 1469L1797.2 1470.6L1800.9 1472.1L1804.6 1473.6L1808.3 1475.1L1812.1 1476.1L1815.8 1477.4L1819.5 1478.6L1823.2 1481.1L1826.9 1482.6L1830.7 1483.9L1834.4 1485.2L1838.1 1486.6L1841.8 1487.9L1845.6 1489.6L1849.3 1491.1L1853 1492.9L1856.7 1494L1860.4 1495.7L1864.2 1497.5L1867.9 1498.6L1871.6 1500.2L1875.3 1502L1879 1503.5L1882.8 1504.9L1886.5 1505.7L1890.2 1507.9" stroke="#0000ff" stroke-width="3"/>
<path d="M1149.8 1295L1153.5 1295L1157.2 1295L1161 1295L1164.7 1295L1168.4 1295L1172.1 1295L1175.8 1295L1179.6 1295L1183.3 1295L1187 1295L1190.7 1295L1194.4 1295L1198.2 1295L1201.9 1295L1205.6 1295L1209.3 1295L1213.1 1295L1216.8 1295L1220.5 1295L1224.2 1295L1227.9 1295L1231.7 1295L1235.4 1295L1239.1 1295L1242.8 1295.1L1246.5 1295.1L1250.3 1295.1L1254 1295.1L1257.7 1295.1L1261.4 1295.1L1265.1 1295.1L1268.9 1295.1L1272.6 1295.1L1276.3 1295.1L1280 1295.1L1283.7 1295.1L1287.5 1295.1L1291.2 1295.1L1294.9 1295.1L1298.6 1295.1L1302.3 1295.1L1306.1 1295.1L1309.8 1295.1L1313.5 1295.1L1317.2 1295.1L1320.9 1295.1L1324.7 1295.1L1328.4 1295.1L1332.1 1295.1L1335.8 1295.1L1339.6 1295.1L1343.3 1295.1L1347 1295.1L1350.7 1295.1L1354.4 1295.1L1358.2 1295.1L1361.9 1295.1L1365.6 1295.1L1369.3 1295.1L1373 1295.1L1376.8 1295.1L1380.5 1295.1L1384.2 1295.1L1387.9 1295.1L1391.6 1295.1L1395.4 1295.1L1399.1 1295.1L1402.8 1295.1L1406.5 1295.1L1410.2 1295.1L1414 1295.1L1417.7 1295.1L1421.4 1295.1L1425.1 1295.1L1428.8 1295.2L1432.6 1295.2L1436.3 1295.2L1440 1295.2L1443.7 1295.2L1447.4 1295.2L1451.2 1295.2L1454.9 1295.2L1458.6 1295.2L1462.3 1295.2L1466.1 1295.2L1469.8 1295.2L1473.5 1295.2L1477.2 1295.2L1480.9 1295.2L1484.7 1295.2L1488.4 1295.2L1492.1 1295.2L1495.8 1295.2L1499.5 1295.2L1503.3 1295.2L1507 1295.2L1510.7 1295.2L1514.4 1295.2L1518.1 1295.2L1521.9 1295.2L1525.6 1295.2L1529.3 1295.2L1533 1295.2L1536.7 1295.2L1540.5 1295.2L1544.2 1295.2L1547.9 1295.2L1551.6 1295.2L1555.3 1295.2L1559.1 1295.2L1562.8 1295.2L1566.5 1295.2L1570.2 1295.2L1573.9 1295.2L1577.7 1295.2L1581.4 1295.2L1585.1 1295.2L1588.8 1295.2L1592.6 1295.2L1596.3 1295.2L1600 1295.2L1603.7 1295.2L1607.4 1295.2L1611.2 1295.2L1614.9 1295.3L1618.6 1295.3L1622.3 1295.3L1626 1295.3L1629.8 1295.3L1633.5 1295.3L1637.2 1295.3L1640.9 1295.3L1644.6 1295.3L1648.4 1295.3L1652.1 1295.3L1655.8 1295.3L1659.5 1295.3L1663.2 1295.3L1667 1295.3L1670.7 1295.3L1674.4 1295.3L1678.1 1295.3L1681.8 1295.3L1685.6 1295.3L1689.3 1295.3L1693 1295.3L1696.7 1295.3L1700.4 1295.3L1704.2 1295.3L1707.9 1295.3L1711.6 1295.3L1715.3 1295.3L1719.1 1295.3L1722.8 1295.3L1726.5 1295.3L1730.2 1295.3L1733.9 1295.3L1737.7 1295.3L1741.4 1295.3L1745.1 1295.3L1748.8 1295.3L1752.5 1295.3L1756.3 1295.3L1760 1295.3L1763.7 1295.3L1767.4 1295.3L1771.1 1295.3L1774.9 1295.3L1778.6 1295.3L1782.3 1295.3L1786 1295.3L1789.7 1295.3L1793.5 1295.3L1797.2 1295.3L1800.9 1295.4L1804.6 1295.4L1808.3 1295.4L1812.1 1295.4L1815.8 1295.4L1819.5 1295.4L1823.2 1295.4L1826.9 1295.4L1830.7 1295.4L1834.4 1295.4L1838.1 1295.4L1841.8 1295.4L1845.6 1295.4L1849.3 1295.4L1853 1295.4L1856.7 1295.4L1860.4 1295.4L1864.2 1295.4L1867.9 1295.4L1871.6 1295.4L1875.3 1295.4L1879 1295.4L1882.8 1295.4L1886.5 1295.4L1890.2 1295.4" stroke="#ff00ff" stroke-width="3"/>
<path d="M1149.8 1295L1153.5 1295L1157.2 1295L1161 1295L1164.7 1295L1168.4 1295L1172.1 1295L1175.8 1295L1179.6 1295L1183.3 1295L1187 1295L1190.7 1295L1194.4 1295L1198.2 1295L1201.9 1295L1205.6 1295L1209.3 1295L1213.1 1295L1216.8 1295L1220.5 1295L1224.2 1295L1227.9 1295L1231.7 1295L1235.4 1295L1239.1 1295L1242.8 1295.1L1246.5 1295.1L1250.3 1295.1L1254 1295.1L1257.7 1295.1L1261.4 1295.1L1265.1 1295.1L1268.9 1295.1L1272.6 1295.1L1276.3 1295.1L1280 1295.1L1283.7 1295.1L1287.5 1295.1L1291.2 1295.1L1294.9 1295.1L1298.6 1295.1L1302.3 1295.1L1306.1 1295.1L1309.8 1295.1L1313.5 1295.1L1317.2 1295.1L1320.9 1295.1L1324.7 1295.1L1328.4 1295.1L1332.1 1295.1L1335.8 1295.1L1339.6 1295.1L1343.3 1295.1L1347 1295.1L1350.7 1295.1L1354.4 1295.1L1358.2 1295.1L1361.9 1295.1L1365.6 1295.1L1369.3 1295.1L1373 1295.1L1376.8 1295.1L1380.5 1295.1L1384.2 1295.1L1387.9 1295.1L1391.6 1295.1L1395.4 1295.1L1399.1 1295.1L1402.8 1295.1L1406.5 1295.1L1410.2 1295.1L1414 1295.1L1417.7 1295.1L1421.4 1295.1L1425.1 1295.1L1428.8 1295.2L1432.6 1295.2L1436.3 1295.2L1440 1295.2L1443.7 1295.2L1447.4 1295.2L1451.2 1295.2L1454.9 1295.2L1458.6 1295.2L1462.3 1295.2L1466.1 1295.2L1469.8 1295.2L1473.5 1295.2L1477.2 1295.2L1480.9 1295.2L1484.7 1295.2L1488.4 1295.2L1492.1 1295.2L1495.8 1295.2L1499.5 1295.2L1503.3 1295.2L1507 1295.2L1510.7 1295.2L1514.4 1295.2L1518.1 1295.2L1521.9 1295.2L1525.6 1295.2L1529.3 1295.2L1533 1295.2L1536.7 1295.2L1540.5 1295.2L1544.2 1295.2L1547.9 1295.2L1551.6 1295.2L1555.3 1295.2L1559.1 1295.2L1562.8 1295.2L1566.5 1295.2L1570.2 1295.2L1573.9 1295.2L1577.7 1295.2L1581.4 1295.2L1585.1 1295.2L1588.8 1295.2L1592.6 1295.2L1596.3 1295.2L1600 1295.2L1603.7 1295.2L1607.4 1295.2L1611.2 1295.2L1614.9 1295.3L1618.6 1295.3L1622.3 1295.3L1626 1295.3L1629.8 1295.3L1633.5 1295.3L1637.2 1295.3L1640.9 1295.3L1644.6 1295.3L1648.4 1295.3L1652.1 1295.3L1655.8 1295.3L1659.5 1295.3L1663.2 1295.3L1667 1295.3L1670.7 1295.3L1674.4 1295.3L1678.1 1295.3L1681.8 1295.3L1685.6 1295.3L1689.3 1295.3L1693 1295.3L1696.7 1295.3L1700.4 1295.3L1704.2 1295.3L1707.9 1295.3L1711.6 1295.3L1715.3 1295.3L1719.1 1295.3L1722.8 1295.3L1726.5 1295.3L1730.2 1295.3L1733.9 1295.3L1737.7 1295.3L1741.4 1295.3L1745.1 1295.3L1748.8 1295.3L1752.5 1295.3L1756.3 1295.3L1760 1295.3L1763.7 1295.3L1767.4 1295.3L1771.1 1295.3L1774.9 1295.3L1778.6 1295.3L1782.3 1295.3L1786 1295.3L1789.7 1295.3L1793.5 1295.3L1797.2 1295.3L1800.9 1295.4L1804.6 1295.4L1808.3 1295.4L1812.1 1295.4L1815.8 1295.4L1819.5 1295.4L1823.2 1295.4L1826.9 1295.4L1830.7 1295.4L1834.4 1295.4L1838.1 1295.4L1841.8 1295.4L1845.6 1295.4L1849.3 1295.4L1853 1295.4L1856.7 1295.4L1860.4 1295.4L1864.2 1295.4L1867.9 1295.4L1871.6 1295.4L1875.3 1295.4L1879 1295.4L1882.8 1295.4L1886.5 1295.4L1890.2 1295.4" stroke="#00ff00" stroke-width="3"/>
<path d="M1149.8 1294.7L1153.5 1294.9L1157.2 1295.1L1161 1295.3L1164.7 1295.5L1168.4 1295.6L1172.1 1295.8L1175.8 1296L1179.6 1296.2L1183.3 1296.4L1187 1296.6L1190.7 1296.7L1194.4 1296.9L1198.2 1297.1L1201.9 1297.3L1205.6 1297.4L1209.3 1297.6L1213.1 1297.8L1216.8 1297.9L1220.5 1298.1L1224.2 1298.3L1227.9 1298.4L1231.7 1298.6L1235.4 1298.7L1239.1 1298.9L1242.8 1299L1246.5 1299.2L1250.3 1299.3L1254 1299.4L1257.7 1299.6L1261.4 1299.7L1265.1 1299.8L1268.9 1299.9L1272.6 1300L1276.3 1300.1L1280 1300.3L1283.7 1300.4L1287.5 1300.4L1291.2 1300.5L1294.9 1300.6L1298.6 1300.7L1302.3 1300.8L1306.1 1300.9L1309.8 1300.9L1313.5 1301L1317.2 1301L1320.9 1301.1L1324.7 1301.1L1328.4 1301.2L1332.1 1301.2L1335.8 1301.2L1339.6 1301.3L1343.3 1301.3L1347 1301.3L1350.7 1301.3L1354.4 1301.4L1358.2 1301.4L1361.9 1301.4L1365.6 1301.4L1369.3 1301.5L1373 1301.5L1376.8 1301.5L1380.5 1301.5L1384.2 1301.5L1387.9 1301.6L1391.6 1301.6L1395.4 1301.6L1399.1 1301.6L1402.8 1301.6L1406.5 1301.7L1410.2 1301.7L1414 1301.7L1417.7 1301.7L1421.4 1301.7L1425.1 1301.7L1428.8 1301.8L1432.6 1301.8L1436.3 1301.8L1440 1301.8L1443.7 1301.8L1447.4 1301.8L1451.2 1301.8L1454.9 1301.8L1458.6 1301.9L1462.3 1301.9L1466.1 1301.9L1469.8 1301.9L1473.5 1301.9L1477.2 1301.9L1480.9 1301.9L1484.7 1301.9L1488.4 1301.9L1492.1 1301.9L1495.8 1302L1499.5 1302L1503.3 1302L1507 1302L1510.7 1302L1514.4 1302L1518.1 1302L1521.9 1302L1525.6 1302L1529.3 1302L1533 1302L1536.7 1302L1540.5 1302L1544.2 1302L1547.9 1302.1L1551.6 1302.1L1555.3 1302.1L1559.1 1302.1L1562.8 1302.1L1566.5 1302.1L1570.2 1302.1L1573.9 1302.1L1577.7 1302.1L1581.4 1302.1L1585.1 1302.1L1588.8 1302.1L1592.6 1302.1L1596.3 1302.1L1600 1302.1L1603.7 1302.1L1607.4 1302.2L1611.2 1302.2L1614.9 1302.2L1618.6 1302.2L1622.3 1302.2L1626 1302.2L1629.8 1302.2L1633.5 1302.2L1637.2 1302.2L1640.9 1302.2L1644.6 1302.2L1648.4 1302.2L1652.1 1302.2L1655.8 1302.2L1659.5 1302.2L1663.2 1302.2L1667 1302.2L1670.7 1302.2L1674.4 1302.2L1678.1 1302.3L1681.8 1302.3L1685.6 1302.3L1689.3 1302.3L1693 1302.3L1696.7 1302.3L1700.4 1302.3L1704.2 1302.3L1707.9 1302.3L1711.6 1302.3L1715.3 1302.3L1719.1 1302.3L1722.8 1302.3L1726.5 1302.3L1730.2 1302.3L1733.9 1302.3L1737.7 1302.3L1741.4 1302.3L1745.1 1302.3L1748.8 1302.3L1752.5 1302.3L1756.3 1302.3L1760 1302.3L1763.7 1302.3L1767.4 1302.3L1771.1 1302.4L1774.9 1302.4L1778.6 1302.4L1782.3 1302.4L1786 1302.4L1789.7 1302.4L1793.5 1302.4L1797.2 1302.4L1800.9 1302.4L1804.6 1302.4L1808.3 1302.4L1812.1 1302.4L1815.8 1302.4L1819.5 1302.4L1823.2 1302.4L1826.9 1302.4L1830.7 1302.4L1834.4 1302.4L1838.1 1302.4L1841.8 1302.4L1845.6 1302.4L1849.3 1302.4L1853 1302.4L1856.7 1302.4L1860.4 1302.4L1864.2 1302.4L1867.9 1302.4L1871.6 1302.4L1875.3 1302.4L1879 1302.4L1882.8 1302.4L1886.5 1302.4L1890.2 1302.4" stroke="#ffff00" stroke-width="3"/>
<path d="M1149.8 1294.9L1153.5 1294.9L1157.2 1294.9L1161 1294.9L1164.7 1294.9L1168.4 1294.9L1172.1 1294.9L1175.8 1294.9L1179.6 1294.9L1183.3 1294.9L1187 1294.9L1190.7 1294.9L1194.4 1294.9L1198.2 1294.9L1201.9 1294.9L1205.6 1294.9L1209.3 1294.9L1213.1 1294.9L1216.8 1294.9L1220.5 1294.9L1224.2 1294.9L1227.9 1294.9L1231.7 1294.9L1235.4 1294.9L1239.1 1294.9L1242.8 1295L1246.5 1295L1250.3 1295L1254 1295L1257.7 1295L1261.4 1295L1265.1 1295L1268.9 1295L1272.6 1295L1276.3 1295L1280 1295L1283.7 1295L1287.5 1295L1291.2 1295L1294.9 1295L1298.6 1295L1302.3 1295L1306.1 1295L1309.8 1295L1313.5 1295L1317.2 1295L1320.9 1295L1324.7 1295L1328.4 1295L1332.1 1295L1335.8 1295L1339.6 1295L1343.3 1295L1347 1295L1350.7 1295L1354.4 1295L1358.2 1295L1361.9 1295L1365.6 1295L1369.3 1295L1373 1295L1376.8 1295L1380.5 1295L1384.2 1295L1387.9 1295L1391.6 1295L1395.4 1295L1399.1 1295L1402.8 1295L1406.5 1295L1410.2 1295L1414 1295L1417.7 1295L1421.4 1295L1425.1 1295L1428.8 1295.1L1432.6 1295.1L1436.3 1295.1L1440 1295.1L1443.7 1295.1L1447.4 1295.1L1451.2 1295.1L1454.9 1295.1L1458.6 1295.1L1462.3 1295.1L1466.1 1295.1L1469.8 1295.1L1473.5 1295.1L1477.2 1295.1L1480.9 1295.1L1484.7 1295.1L1488.4 1295.1L1492.1 1295.1L1495.8 1295.1L1499.5 1295.1L1503.3 1295.1L1507 1295.1L1510.7 1295.1L1514.4 1295.1L1518.1 1295.1L1521.9 1295.1L1525.6 1295.1L1529.3 1295.1L1533 1295.1L1536.7 1295.1L1540.5 1295.1L1544.2 1295.1L1547.9 1295.1L1551.6 1295.1L1555.3 1295.1L1559.1 1295.1L1562.8 1295.1L1566.5 1295.1L1570.2 1295.1L1573.9 1295.1L1577.7 1295.1L1581.4 1295.1L1585.1 1295.1L1588.8 1295.1L1592.6 1295.1L1596.3 1295.1L1600 1295.1L1603.7 1295.1L1607.4 1295.1L1611.2 1295.1L1614.9 1295.2L1618.6 1295.2L1622.3 1295.2L1626 1295.2L1629.8 1295.2L1633.5 1295.2L1637.2 1295.2L1640.9 1295.2L1644.6 1295.2L1648.4 1295.2L1652.1 1295.2L1655.8 1295.2L1659.5 1295.2L1663.2 1295.2L1667 1295.2L1670.7 1295.2L1674.4 1295.2L1678.1 1295.2L1681.8 1295.2L1685.6 1295.2L1689.3 1295.2L1693 1295.2L1696.7 1295.2L1700.4 1295.2L1704.2 1295.2L1707.9 1295.2L1711.6 1295.2L1715.3 1295.2L1719.1 1295.2L1722.8 1295.2L1726.5 1295.2L1730.2 1295.2L1733.9 1295.2L1737.7 1295.2L1741.4 1295.2L1745.1 1295.2L1748.8 1295.2L1752.5 1295.2L1756.3 1295.2L1760 1295.2L1763.7 1295.2L1767.4 1295.2L1771.1 1295.2L1774.9 1295.2L1778.6 1295.2L1782.3 1295.2L1786 1295.2L1789.7 1295.2L1793.5 1295.2L1797.2 1295.2L1800.9 1295.3L1804.6 1295.3L1808.3 1295.3L1812.1 1295.3L1815.8 1295.3L1819.5 1295.3L1823.2 1295.3L1826.9 1295.3L1830.7 1295.3L1834.4 1295.3L1838.1 1295.3L1841.8 1295.3L1845.6 1295.3L1849.3 1295.3L1853 1295.3L1856.7 1295.3L1860.4 1295.3L1864.2 1295.3L1867.9 1295.3L1871.6 1295.3L1875.3 1295.3L1879 1295.3L1882.8 1295.3L1886.5 1295.3L1890.2 1295.3" stroke="#00ffff" stroke-width="3"/>
<path d="M1149.8 1294.7L1153.5 1295L1157.2 1295.2L1161 1295.5L1164.7 1295.8L1168.4 1296.1L1172.1 1296.3L1175.8 1296.6L1179.6 1296.9L1183.3 1297.1L1187 1297.4L1190.7 1297.7L1194.4 1297.9L1198.2 1298.2L1201.9 1298.4L1205.6 1298.7L1209.3 1299L1213.1 1299.2L1216.8 1299.5L1220.5 1299.7L1224.2 1300L1227.9 1300.2L1231.7 1300.5L1235.4 1300.7L1239.1 1301L1242.8 1301.3L1246.5 1301.5L1250.3 1301.8L1254 1302L1257.7 1302.3L1261.4 1302.5L1265.1 1302.8L1268.9 1303L1272.6 1303.2L1276.3 1303.5L1280 1303.7L1283.7 1304L1287.5 1304.2L1291.2 1304.5L1294.9 1304.7L1298.6 1304.9L1302.3 1305.2L1306.1 1305.4L1309.8 1305.6L1313.5 1305.9L1317.2 1306.1L1320.9 1306.3L1324.7 1306.6L1328.4 1306.8L1332.1 1307L1335.8 1307.2L1339.6 1307.4L1343.3 1307.6L1347 1307.9L1350.7 1308.1L1354.4 1308.3L1358.2 1308.5L1361.9 1308.7L1365.6 1308.9L1369.3 1309.1L1373 1309.3L1376.8 1309.5L1380.5 1309.7L1384.2 1309.9L1387.9 1310.1L1391.6 1310.3L1395.4 1310.5L1399.1 1310.7L1402.8 1310.9L1406.5 1311.1L1410.2 1311.3L1414 1311.4L1417.7 1311.6L1421.4 1311.8L1425.1 1312L1428.8 1312.2L1432.6 1312.4L1436.3 1312.6L1440 1312.7L1443.7 1312.9L1447.4 1313.1L1451.2 1313.3L1454.9 1313.5L1458.6 1313.7L1462.3 1313.9L1466.1 1314L1469.8 1314.2L1473.5 1314.4L1477.2 1314.6L1480.9 1314.8L1484.7 1314.9L1488.4 1315.1L1492.1 1315.3L1495.8 1315.4L1499.5 1315.6L1503.3 1315.7L1507 1315.9L1510.7 1316L1514.4 1316.2L1518.1 1316.3L1521.9 1316.4L1525.6 1316.6L1529.3 1316.7L1533 1316.8L1536.7 1317L1540.5 1317.1L1544.2 1317.2L1547.9 1317.3L1551.6 1317.5L1555.3 1317.6L1559.1 1317.7L1562.8 1317.8L1566.5 1318L1570.2 1318.1L1573.9 1318.2L1577.7 1318.3L1581.4 1318.4L1585.1 1318.6L1588.8 1318.7L1592.6 1318.8L1596.3 1318.9L1600 1319L1603.7 1319.1L1607.4 1319.2L1611.2 1319.3L1614.9 1319.4L1618.6 1319.6L1622.3 1319.7L1626 1319.8L1629.8 1319.9L1633.5 1320L1637.2 1320L1640.9 1320.1L1644.6 1320.2L1648.4 1320.3L1652.1 1320.4L1655.8 1320.5L1659.5 1320.6L1663.2 1320.7L1667 1320.7L1670.7 1320.8L1674.4 1320.9L1678.1 1321L1681.8 1321L1685.6 1321.1L1689.3 1321.2L1693 1321.2L1696.7 1321.3L1700.4 1321.3L1704.2 1321.4L1707.9 1321.5L1711.6 1321.5L1715.3 1321.6L1719.1 1321.6L1722.8 1321.7L1726.5 1321.7L1730.2 1321.8L1733.9 1321.8L1737.7 1321.9L1741.4 1321.9L1745.1 1322L1748.8 1322L1752.5 1322.1L1756.3 1322.1L1760 1322.2L1763.7 1322.2L1767.4 1322.3L1771.1 1322.3L1774.9 1322.4L1778.6 1322.4L1782.3 1322.4L1786 1322.5L1789.7 1322.5L1793.5 1322.6L1797.2 1322.6L1800.9 1322.7L1804.6 1322.7L1808.3 1322.7L1812.1 1322.8L1815.8 1322.8L1819.5 1322.8L1823.2 1322.9L1826.9 1322.9L1830.7 1322.9L1834.4 1323L1838.1 1323L1841.8 1323L1845.6 1323L1849.3 1323.1L1853 1323.1L1856.7 1323.1L1860.4 1323.1L1864.2 1323.1L1867.9 1323.1L1871.6 1323.2L1875.3 1323.2L1879 1323.2L1882.8 1323.2L1886.5 1323.2L1890.2 1323.2" stroke="#000000" stroke-width="3"/>
<path d="M1149.8 1295L1153.5 1295.1L1157.2 1295.2L1161 1295.3L1164.7 1295.4L1168.4 1295.5L1172.1 1295.7L1175.8 1295.8L1179.6 1295.9L1183.3 1296L1187 1296.1L1190.7 1296.2L1194.4 1296.2L1198.2 1296.3L1201.9 1296.4L1205.6 1296.5L1209.3 1296.6L1213.1 1296.6L1216.8 1296.7L1220.5 1296.8L1224.2 1296.8L1227.9 1296.9L1231.7 1296.9L1235.4 1297L1239.1 1297L1242.8 1297L1246.5 1297.1L1250.3 1297.1L1254 1297.1L1257.7 1297.1L1261.4 1297.2L1265.1 1297.2L1268.9 1297.2L1272.6 1297.2L1276.3 1297.3L1280 1297.3L1283.7 1297.3L1287.5 1297.3L1291.2 1297.4L1294.9 1297.4L1298.6 1297.4L1302.3 1297.4L1306.1 1297.4L1309.8 1297.4L1313.5 1297.5L1317.2 1297.5L1320.9 1297.5L1324.7 1297.5L1328.4 1297.5L1332.1 1297.5L1335.8 1297.5L1339.6 1297.6L1343.3 1297.6L1347 1297.6L1350.7 1297.6L1354.4 1297.6L1358.2 1297.6L1361.9 1297.6L1365.6 1297.6L1369.3 1297.6L1373 1297.6L1376.8 1297.6L1380.5 1297.6L1384.2 1297.6L1387.9 1297.6L1391.6 1297.6L1395.4 1297.6L1399.1 1297.6L1402.8 1297.6L1406.5 1297.6L1410.2 1297.6L1414 1297.6L1417.7 1297.6L1421.4 1297.6L1425.1 1297.6L1428.8 1297.6L1432.6 1297.6L1436.3 1297.6L1440 1297.6L1443.7 1297.6L1447.4 1297.6L1451.2 1297.6L1454.9 1297.6L1458.6 1297.6L1462.3 1297.6L1466.1 1297.6L1469.8 1297.6L1473.5 1297.6L1477.2 1297.6L1480.9 1297.6L1484.7 1297.6L1488.4 1297.6L1492.1 1297.6L1495.8 1297.6L1499.5 1297.6L1503.3 1297.6L1507 1297.7L1510.7 1297.7L1514.4 1297.7L1518.1 1297.7L1521.9 1297.7L1525.6 1297.7L1529.3 1297.7L1533 1297.7L1536.7 1297.7L1540.5 1297.7L1544.2 1297.7L1547.9 1297.7L1551.6 1297.7L1555.3 1297.7L1559.1 1297.7L1562.8 1297.7L1566.5 1297.7L1570.2 1297.7L1573.9 1297.7L1577.7 1297.7L1581.4 1297.7L1585.1 1297.7L1588.8 1297.7L1592.6 1297.7L1596.3 1297.7L1600 1297.7L1603.7 1297.7L1607.4 1297.7L1611.2 1297.7L1614.9 1297.7L1618.6 1297.7L1622.3 1297.7L1626 1297.7L1629.8 1297.7L1633.5 1297.7L1637.2 1297.7L1640.9 1297.7L1644.6 1297.7L1648.4 1297.7L1652.1 1297.7L1655.8 1297.7L1659.5 1297.7L1663.2 1297.7L1667 1297.7L1670.7 1297.7L1674.4 1297.7L1678.1 1297.7L1681.8 1297.7L1685.6 1297.7L1689.3 1297.7L1693 1297.7L1696.7 1297.7L1700.4 1297.7L1704.2 1297.7L1707.9 1297.7L1711.6 1297.7L1715.3 1297.7L1719.1 1297.7L1722.8 1297.7L1726.5 1297.7L1730.2 1297.7L1733.9 1297.7L1737.7 1297.7L1741.4 1297.7L1745.1 1297.7L1748.8 1297.7L1752.5 1297.7L1756.3 1297.7L1760 1297.7L1763.7 1297.7L1767.4 1297.7L1771.1 1297.7L1774.9 1297.7L1778.6 1297.7L1782.3 1297.7L1786 1297.7L1789.7 1297.7L1793.5 1297.7L1797.2 1297.7L1800.9 1297.7L1804.6 1297.7L1808.3 1297.7L1812.1 1297.7L1815.8 1297.7L1819.5 1297.7L1823.2 1297.7L1826.9 1297.7L1830.7 1297.7L1834.4 1297.7L1838.1 1297.7L1841.8 1297.7L1845.6 1297.7L1849.3 1297.7L1853 1297.7L1856.7 1297.7L1860.4 1297.7L1864.2 1297.7L1867.9 1297.7L1871.6 1297.7L1875.3 1297.7L1879 1297.7L1882.8 1297.7L1886.5 1297.7L1890.2 1297.7" stroke="#0072bd" stroke-width="3"/>
<path d="M1149.8 1294.7L1153.5 1295L1157.2 1295.4L1161 1295.7L1164.7 1296L1168.4 1296.3L1172.1 1296.7L1175.8 1297L1179.6 1297.3L1183.3 1297.6L1187 1298L1190.7 1298.3L1194.4 1298.6L1198.2 1298.9L1201.9 1299.3L1205.6 1299.6L1209.3 1299.9L1213.1 1300.2L1216.8 1300.6L1220.5 1300.9L1224.2 1301.2L1227.9 1301.5L1231.7 1301.9L1235.4 1302.2L1239.1 1302.5L1242.8 1302.8L1246.5 1303.1L1250.3 1303.5L1254 1303.8L1257.7 1304.1L1261.4 1304.4L1265.1 1304.7L1268.9 1305L1272.6 1305.3L1276.3 1305.6L1280 1306L1283.7 1306.3L1287.5 1306.6L1291.2 1306.9L1294.9 1307.2L1298.6 1307.5L1302.3 1307.8L1306.1 1308.2L1309.8 1308.5L1313.5 1308.8L1317.2 1309.1L1320.9 1309.5L1324.7 1309.8L1328.4 1310.2L1332.1 1310.5L1335.8 1310.9L1339.6 1311.2L1343.3 1311.6L1347 1311.9L1350.7 1312.3L1354.4 1312.7L1358.2 1313.1L1361.9 1313.5L1365.6 1313.9L1369.3 1314.3L1373 1314.7L1376.8 1315.1L1380.5 1315.5L1384.2 1315.9L1387.9 1316.2L1391.6 1316.6L1395.4 1317L1399.1 1317.4L1402.8 1317.8L1406.5 1318.2L1410.2 1318.6L1414 1318.9L1417.7 1319.3L1421.4 1319.7L1425.1 1320L1428.8 1320.3L1432.6 1320.7L1436.3 1321L1440 1321.4L1443.7 1321.7L1447.4 1322L1451.2 1322.4L1454.9 1322.7L1458.6 1323L1462.3 1323.3L1466.1 1323.7L1469.8 1324L1473.5 1324.3L1477.2 1324.6L1480.9 1324.9L1484.7 1325.2L1488.4 1325.5L1492.1 1325.8L1495.8 1326.1L1499.5 1326.4L1503.3 1326.7L1507 1327L1510.7 1327.3L1514.4 1327.6L1518.1 1327.9L1521.9 1328.2L1525.6 1328.5L1529.3 1328.8L1533 1329L1536.7 1329.3L1540.5 1329.6L1544.2 1329.9L1547.9 1330.1L1551.6 1330.4L1555.3 1330.7L1559.1 1330.9L1562.8 1331.2L1566.5 1331.4L1570.2 1331.7L1573.9 1331.9L1577.7 1332.1L1581.4 1332.4L1585.1 1332.6L1588.8 1332.8L1592.6 1333L1596.3 1333.2L1600 1333.5L1603.7 1333.7L1607.4 1333.9L1611.2 1334.1L1614.9 1334.2L1618.6 1334.4L1622.3 1334.6L1626 1334.7L1629.8 1334.9L1633.5 1335L1637.2 1335.2L1640.9 1335.3L1644.6 1335.5L1648.4 1335.6L1652.1 1335.7L1655.8 1335.8L1659.5 1336L1663.2 1336.1L1667 1336.2L1670.7 1336.3L1674.4 1336.4L1678.1 1336.5L1681.8 1336.5L1685.6 1336.6L1689.3 1336.7L1693 1336.7L1696.7 1336.8L1700.4 1336.8L1704.2 1336.9L1707.9 1336.9L1711.6 1337L1715.3 1337L1719.1 1337.1L1722.8 1337.1L1726.5 1337.2L1730.2 1337.2L1733.9 1337.2L1737.7 1337.3L1741.4 1337.3L1745.1 1337.3L1748.8 1337.4L1752.5 1337.4L1756.3 1337.4L1760 1337.4L1763.7 1337.5L1767.4 1337.5L1771.1 1337.5L1774.9 1337.5L1778.6 1337.6L1782.3 1337.6L1786 1337.6L1789.7 1337.6L1793.5 1337.6L1797.2 1337.6L1800.9 1337.7L1804.6 1337.7L1808.3 1337.7L1812.1 1337.7L1815.8 1337.7L1819.5 1337.7L1823.2 1337.7L1826.9 1337.7L1830.7 1337.7L1834.4 1337.7L1838.1 1337.7L1841.8 1337.8L1845.6 1337.8L1849.3 1337.8L1853 1337.8L1856.7 1337.8L1860.4 1337.8L1864.2 1337.8L1867.9 1337.8L1871.6 1337.8L1875.3 1337.8L1879 1337.8L1882.8 1337.8L1886.5 1337.8L1890.2 1337.8" stroke="#a2670f" stroke-width="3"/>
</g>
<text x="1332.1" y="2268.6" font-size="32.1" text-anchor="middle" font-weight="normal" fill="#2a2a2a" >50</text>
<text x="1518.1" y="2268.6" font-size="32.1" text-anchor="middle" font-weight="normal" fill="#2a2a2a" >100</text>
<text x="1704.2" y="2268.6" font-size="32.1" text-anchor="middle" font-weight="normal" fill="#2a2a2a" >150</text>
<text x="1890.2" y="2268.6" font-size="32.1" text-anchor="middle" font-weight="normal" fill="#2a2a2a" >200</text>
<text x="1139" y="1323.2" font-size="32.1" text-anchor="end" fill="#2a2a2a">10<tspan dx="0.5" dy="-15.3" font-size="25.7">0</tspan></text>
<text x="1139" y="1620.3" font-size="32.1" text-anchor="end" fill="#2a2a2a">10<tspan dx="0.3" dy="-13.4" font-size="31.3">−</tspan><tspan dy="-1.9" font-size="25.7">50</tspan></text>
<text x="1139" y="1917.4" font-size="32.1" text-anchor="end" fill="#2a2a2a">10<tspan dx="0.3" dy="-13.4" font-size="31.3">−</tspan><tspan dy="-1.9" font-size="25.7">100</tspan></text>
<text x="1139" y="2214.5" font-size="32.1" text-anchor="end" fill="#2a2a2a">10<tspan dx="0.3" dy="-13.4" font-size="31.3">−</tspan><tspan dy="-1.9" font-size="25.7">150</tspan></text>
<rect x="1167.4" y="1877.6" width="131" height="340.3" fill="#fff" stroke="#7d7d7d" stroke-width="2"/>
<path d="M1172.2 1897.6h47.8" stroke="#ff0000" stroke-width="3" fill="none"/>
<text x="1222.4" y="1907.7" font-size="28.2" text-anchor="start" font-weight="normal" fill="#1a1a1a" >IHPO</text>
<path d="M1172.2 1935.1h47.8" stroke="#0000ff" stroke-width="3" fill="none"/>
<text x="1222.4" y="1945.2" font-size="28.2" text-anchor="start" font-weight="normal" fill="#1a1a1a" >HPO</text>
<path d="M1172.2 1972.6h47.8" stroke="#ff00ff" stroke-width="3" fill="none"/>
<text x="1222.4" y="1982.7" font-size="28.2" text-anchor="start" font-weight="normal" fill="#1a1a1a" >DE</text>
<path d="M1172.2 2010.1h47.8" stroke="#00ff00" stroke-width="3" fill="none"/>
<text x="1222.4" y="2020.2" font-size="28.2" text-anchor="start" font-weight="normal" fill="#1a1a1a" >CS</text>
<path d="M1172.2 2047.6h47.8" stroke="#ffff00" stroke-width="3" fill="none"/>
<text x="1222.4" y="2057.7" font-size="28.2" text-anchor="start" font-weight="normal" fill="#1a1a1a" >PSO</text>
<path d="M1172.2 2085.1h47.8" stroke="#00ffff" stroke-width="3" fill="none"/>
<text x="1222.4" y="2095.2" font-size="28.2" text-anchor="start" font-weight="normal" fill="#1a1a1a" >MFO</text>
<path d="M1172.2 2122.6h47.8" stroke="#000000" stroke-width="3" fill="none"/>
<text x="1222.4" y="2132.7" font-size="28.2" text-anchor="start" font-weight="normal" fill="#1a1a1a" >GWO</text>
<path d="M1172.2 2160.1h47.8" stroke="#0072bd" stroke-width="3" fill="none"/>
<text x="1222.4" y="2170.2" font-size="28.2" text-anchor="start" font-weight="normal" fill="#1a1a1a" >WOA</text>
<path d="M1172.2 2197.6h47.8" stroke="#a2670f" stroke-width="3" fill="none"/>
<text x="1222.4" y="2207.7" font-size="28.2" text-anchor="start" font-weight="normal" fill="#1a1a1a" >EO</text>
<text x="1520" y="1278.7" font-size="34.8" text-anchor="middle" font-weight="bold" fill="#000" >Mean Optimization Iterative Curve</text>
<text x="1518.7" y="2307.6" font-size="31.5" text-anchor="middle" font-weight="bold" fill="#2a2a2a" >Cumulative Iteration</text>
<text transform="translate(1049,1760.5) rotate(-90)" font-size="31.5" text-anchor="middle" font-weight="bold" fill="#2a2a2a">Best Fitness(log)</text>
</g>
<text transform="scale(0.9,1)" font-family="'Liberation Serif', 'DejaVu Serif', serif" fill="#000"><tspan x="1035.1" y="1225.9" font-size="86">(</tspan><tspan x="1065.8" y="1226.4" font-size="90.2" font-weight="bold">c</tspan><tspan x="1106.4" y="1225.9" font-size="86">)</tspan></text>
<text transform="scale(0.97,1)" font-family="'Liberation Serif', 'DejaVu Serif', serif" fill="#000"><tspan x="953" y="2401.5" font-size="86">(</tspan><tspan x="981" y="2402" font-size="89.5" font-weight="bold">d</tspan><tspan x="1033.4" y="2401.5" font-size="86">)</tspan></text>
</svg>
</body></html>
